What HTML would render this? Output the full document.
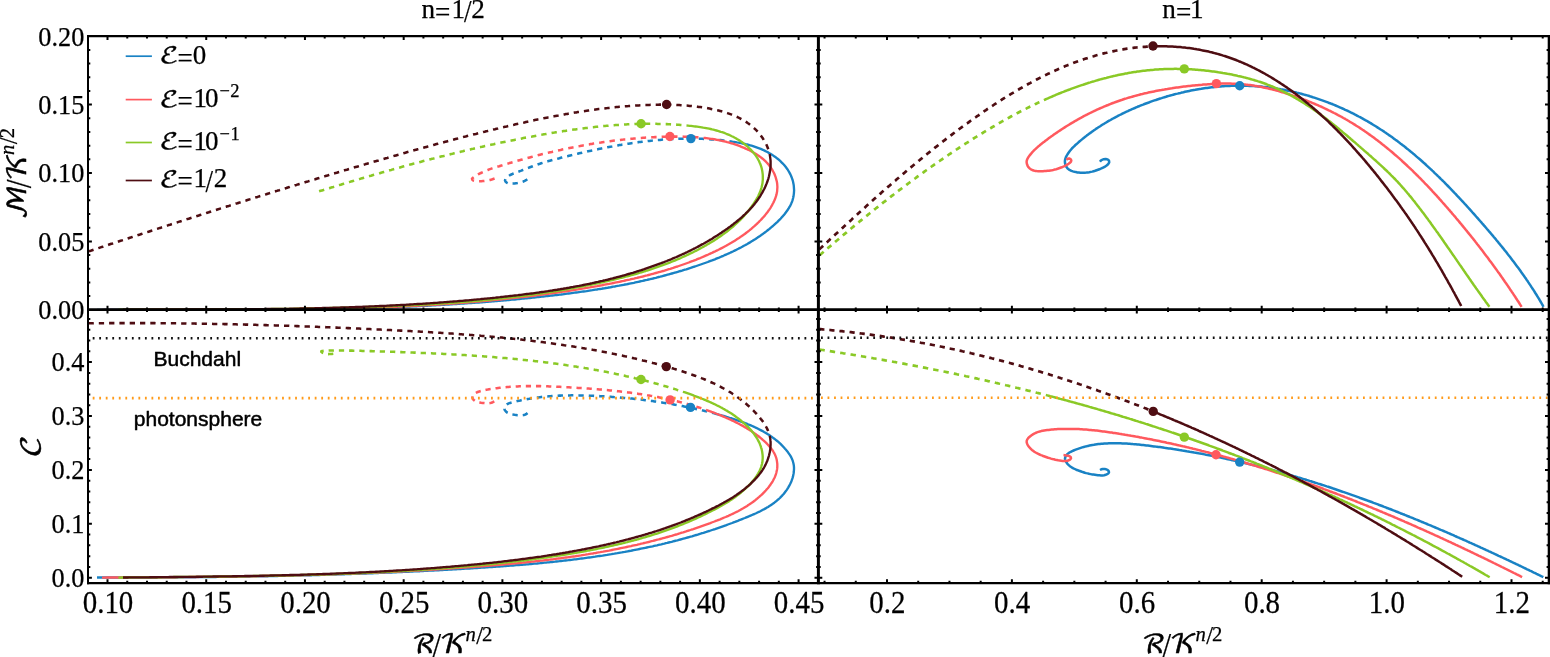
<!DOCTYPE html>
<html lang="en"><head><meta charset="utf-8"><title>Mass-radius and compactness curves</title>
<style>html,body{margin:0;padding:0;background:#fff}body{width:1550px;height:657px;overflow:hidden}svg{display:block}</style>
</head><body>
<svg width="1550" height="657" viewBox="0 0 1550 657" role="img" aria-label="Mass-radius and compactness-radius curves for polytropes n=1/2 and n=1">
<defs>
<clipPath id="cTL"><rect x="88.0" y="36.15" width="730.4" height="273.55"/></clipPath>
<clipPath id="cBL"><rect x="88.0" y="309.7" width="730.4" height="273.40000000000003"/></clipPath>
<clipPath id="cTR"><rect x="818.4" y="36.15" width="730.5000000000001" height="273.55"/></clipPath>
<clipPath id="cBR"><rect x="818.4" y="309.7" width="730.5000000000001" height="273.40000000000003"/></clipPath>
</defs>
<rect width="1550" height="657" fill="#fff"/>
<g fill="none" stroke-width="2.35" stroke-linejoin="round" clip-path="url(#cTL)"><path d="M729.4,141.2L727.9,141.0L726.4,140.8L724.9,140.6L723.4,140.5L721.9,140.3L720.4,140.1L718.9,140.0L717.4,139.8L715.9,139.7L714.4,139.6L712.8,139.5L711.3,139.4L709.8,139.2L708.3,139.2L706.8,139.1L705.3,139.0L703.8,138.9L702.3,138.8L700.8,138.8L699.3,138.7L697.7,138.7L696.2,138.7L694.7,138.6L693.2,138.6L691.7,138.6L690.2,138.6L688.7,138.6L687.2,138.6L685.7,138.6L684.2,138.6L682.6,138.7L681.1,138.7L679.6,138.7L678.1,138.8L676.6,138.9L675.1,138.9L673.6,139.0L672.1,139.1L670.6,139.1L669.1,139.2L667.5,139.3L666.0,139.4L664.5,139.5L663.0,139.6L661.5,139.7L660.0,139.9L658.5,140.0L657.0,140.1L655.5,140.3L654.0,140.4L652.5,140.6L651.0,140.7L649.5,140.9L647.9,141.0L646.4,141.2L644.9,141.4L643.4,141.6L641.9,141.8L640.4,142.0L638.9,142.1L637.4,142.4L635.9,142.6L634.4,142.8L632.9,143.0L631.4,143.2L629.9,143.4L628.4,143.7L626.9,143.9L625.4,144.1L623.9,144.4L622.4,144.6L620.9,144.9L619.4,145.1L617.9,145.4L616.4,145.7L614.9,145.9L613.4,146.2L611.9,146.5L610.4,146.7L609.0,147.0L607.5,147.3L606.0,147.6L604.5,147.9L603.0,148.2L601.5,148.5L600.0,148.8L598.5,149.1L597.0,149.4L595.5,149.7L594.1,150.0L592.6,150.4L591.1,150.7L589.6,151.0L588.1,151.3L586.6,151.7L585.2,152.0L583.7,152.3L582.2,152.7L580.7,153.0L579.2,153.3L577.8,153.7L576.3,154.0L574.8,154.4L573.3,154.7L571.9,155.1L570.4,155.4L568.9,155.8L567.5,156.2L566.0,156.5L564.5,156.9L563.0,157.2L561.6,157.6L560.1,158.0L558.6,158.4L557.2,158.7L555.7,159.1L554.3,159.5L552.8,159.9L551.4,160.3L549.9,160.7L548.5,161.1L547.0,161.5L545.6,162.0L544.1,162.4L542.7,162.8L541.2,163.3L539.8,163.8L538.4,164.2L537.0,164.7L535.5,165.2L534.1,165.7L532.7,166.3L531.3,166.8L529.9,167.3L528.4,167.9L527.0,168.4L525.6,168.9L524.2,169.5L522.8,170.0L521.3,170.6L519.9,171.1L518.4,171.7L517.0,172.2L515.5,172.7L514.1,173.3L512.7,173.8L511.3,174.5L509.9,175.2L508.7,176.0L507.5,176.9L506.4,178.0L505.4,179.2L505.0,180.5L505.6,181.7L506.9,182.8L508.4,183.5L509.9,183.7L511.4,183.7L513.0,183.6L514.5,183.4L516.0,183.2L517.5,183.0L519.0,182.7L520.5,182.4L521.9,182.0L523.3,181.5L524.7,180.9L526.0,180.2L527.3,179.3" stroke="#1982C4" stroke-dasharray="5.275 4.976" stroke-dashoffset="5.275" stroke-width="2.5500000000000003"/>
<path d="M729.4,141.2L730.9,141.4L732.4,141.7L733.9,141.9L735.4,142.1L736.9,142.4L738.4,142.6L739.9,142.9L741.3,143.2L742.8,143.5L744.3,143.8L745.8,144.2L747.2,144.5L748.7,144.9L750.1,145.3L751.6,145.7L753.0,146.1L754.4,146.6L755.8,147.1L757.2,147.6L758.6,148.1L760.0,148.6L761.4,149.2L762.8,149.8L764.1,150.4L765.5,151.1L766.8,151.7L768.1,152.4L769.4,153.2L770.7,153.9L772.0,154.7L773.3,155.6L774.5,156.4L775.8,157.3L777.0,158.3L778.2,159.2L779.3,160.2L780.4,161.2L781.5,162.3L782.6,163.4L783.7,164.5L784.6,165.6L785.6,166.8L786.5,168.0L787.4,169.2L788.2,170.5L789.0,171.8L789.7,173.1L790.4,174.4L791.0,175.8L791.6,177.2L792.1,178.6L792.6,180.0L793.0,181.5L793.3,183.0L793.6,184.4L793.8,185.9L793.9,187.4L794.0,188.9L794.1,190.4L794.0,191.9L793.9,193.3L793.7,194.8L793.5,196.3L793.2,197.7L792.8,199.2L792.4,200.6L791.9,202.0L791.3,203.4L790.7,204.7L790.0,206.1L789.2,207.4L788.5,208.7L787.6,210.0L786.7,211.3L785.8,212.5L784.9,213.7L783.9,214.9L782.9,216.1L781.8,217.3L780.8,218.5L779.7,219.6L778.6,220.7L777.5,221.8L776.3,222.9L775.2,223.9L774.1,224.9L772.9,226.0L771.8,226.9L770.6,227.9L769.5,228.9L768.3,229.8L767.1,230.7L766.0,231.6L764.8,232.5L763.6,233.4L762.4,234.3L761.2,235.1L760.0,236.0L758.8,236.8L757.6,237.6L756.3,238.4L755.1,239.2L753.8,240.0L752.6,240.8L751.3,241.6L750.0,242.4L748.7,243.1L747.4,243.9L746.2,244.6L744.9,245.3L743.5,246.0L742.2,246.8L740.9,247.5L739.6,248.1L738.3,248.8L736.9,249.5L735.6,250.2L734.2,250.8L732.9,251.5L731.5,252.1L730.1,252.8L728.8,253.4L727.4,254.0L726.0,254.6L724.6,255.2L723.3,255.8L721.9,256.4L720.5,257.0L719.1,257.6L717.7,258.1L716.3,258.7L714.9,259.3L713.5,259.8L712.0,260.4L710.6,260.9L709.2,261.4L707.8,262.0L706.4,262.5L705.0,263.0L703.5,263.5L702.1,264.0L700.7,264.5L699.2,265.0L697.8,265.5L696.4,266.0L694.9,266.5L693.5,266.9L692.1,267.4L690.6,267.9L689.2,268.3L687.8,268.8L686.3,269.3L684.9,269.7L683.4,270.1L682.0,270.6L680.6,271.0L679.1,271.4L677.7,271.9L676.2,272.3L674.8,272.7L673.3,273.1L671.9,273.5L670.4,273.9L669.0,274.3L667.5,274.7L666.1,275.1L664.6,275.5L663.2,275.9L661.7,276.3L660.2,276.7L658.8,277.0L657.3,277.4L655.9,277.8L654.4,278.1L653.0,278.5L651.5,278.8L650.0,279.2L648.6,279.5L647.1,279.9L645.6,280.2L644.2,280.5L642.7,280.9L641.2,281.2L639.8,281.5L638.3,281.8L636.8,282.1L635.4,282.4L633.9,282.8L632.4,283.1L630.9,283.4L629.5,283.7L628.0,284.0L626.5,284.3L625.0,284.5L623.6,284.8L622.1,285.1L620.6,285.4L619.1,285.7L617.7,285.9L616.2,286.2L614.7,286.5L613.2,286.7L611.7,287.0L610.3,287.3L608.8,287.5L607.3,287.8L605.8,288.0L604.3,288.3L602.8,288.5L601.4,288.8L599.9,289.0L598.4,289.2L596.9,289.5L595.4,289.7L593.9,289.9L592.4,290.2L591.0,290.4L589.5,290.6L588.0,290.8L586.5,291.1L585.0,291.3L583.5,291.5L582.0,291.7L580.5,291.9L579.0,292.1L577.6,292.3L576.1,292.5L574.6,292.7L573.1,292.9L571.6,293.1L570.1,293.3L568.6,293.5L567.1,293.7L565.6,293.9L564.1,294.1L562.6,294.3L561.1,294.5L559.7,294.6L558.2,294.8L556.7,295.0L555.2,295.2L553.7,295.4L552.2,295.5L550.7,295.7L549.2,295.9L547.7,296.0L546.2,296.2L544.7,296.4L543.2,296.5L541.7,296.7L540.2,296.9L538.7,297.0L537.2,297.2L535.7,297.4L534.2,297.5L532.8,297.7L531.3,297.8L529.8,298.0L528.3,298.1L526.8,298.3L525.3,298.4L523.8,298.6L522.3,298.7L520.8,298.9L519.3,299.0L517.8,299.2L516.3,299.3L514.8,299.5L513.3,299.6L511.8,299.7L510.3,299.9L508.8,300.0L507.3,300.1L505.8,300.3L504.3,300.4L502.8,300.5L501.3,300.7L499.8,300.8L498.3,300.9L496.8,301.1L495.3,301.2L493.8,301.3L492.3,301.4L490.8,301.5L489.3,301.7L487.8,301.8L486.3,301.9L484.8,302.0L483.4,302.1L481.9,302.3L480.4,302.4L478.9,302.5L477.4,302.6L475.9,302.7L474.4,302.8L472.9,302.9L471.4,303.0L469.9,303.1L468.4,303.2L466.9,303.3L465.4,303.4L463.9,303.5L462.4,303.6L460.9,303.7L459.4,303.8L457.9,303.9L456.4,304.0L454.9,304.1L453.4,304.2L451.9,304.3L450.4,304.4L448.9,304.5L447.4,304.6L445.9,304.7L444.4,304.8L442.9,304.8L441.4,304.9L439.9,305.0L438.4,305.1L436.9,305.2L435.4,305.3L433.9,305.3L432.4,305.4L430.9,305.5L429.4,305.6L427.8,305.7L426.3,305.7L424.8,305.8L423.3,305.9L421.8,305.9L420.3,306.0L418.8,306.1L417.3,306.2L415.8,306.2L414.3,306.3L412.8,306.4L411.3,306.4L409.8,306.5L408.3,306.6L406.8,306.6L405.3,306.7L403.8,306.8L402.3,306.8L400.8,306.9L399.3,306.9L397.8,307.0L396.3,307.1L394.8,307.1L393.3,307.2L391.8,307.2L390.3,307.3L388.8,307.3L387.3,307.4L385.8,307.4L384.3,307.5L382.8,307.5L381.3,307.6L379.8,307.6L378.3,307.7L376.8,307.7L375.3,307.8L373.8,307.8L372.3,307.9L370.8,307.9L369.3,308.0L367.8,308.0L366.2,308.0L364.7,308.1L363.2,308.1L361.7,308.2L360.2,308.2L358.7,308.2L357.2,308.3L355.7,308.3L354.2,308.4L352.7,308.4L351.2,308.4L349.7,308.5L348.2,308.5L346.7,308.5L345.2,308.6L343.7,308.6L342.2,308.6L340.7,308.7L339.2,308.7L337.7,308.7L336.2,308.8L334.7,308.8L333.2,308.8L331.7,308.8L330.2,308.9L328.7,308.9L327.1,308.9L325.6,308.9L324.1,309.0L322.6,309.0L321.1,309.0L319.6,309.0L318.1,309.1L316.6,309.1L315.1,309.1L313.6,309.1L312.1,309.2L310.6,309.2L309.1,309.2L307.6,309.2L306.1,309.2L304.6,309.3L303.1,309.3L301.6,309.3L300.1,309.3L298.6,309.3L297.1,309.3L295.6,309.4L294.0,309.4L292.5,309.4L291.0,309.4L289.5,309.4L288.0,309.4L286.5,309.4L285.0,309.4L283.5,309.5L282.0,309.5L280.5,309.5L279.0,309.5L277.5,309.5L276.0,309.5L274.5,309.5L273.0,309.5L271.5,309.5L270.0,309.6L268.5,309.6L267.0,309.6L265.5,309.6L264.0,309.6L262.4,309.6L260.9,309.6L259.4,309.6L257.9,309.6L256.4,309.6L254.9,309.6L253.4,309.6L251.9,309.6L250.4,309.6L248.9,309.6L247.4,309.6L245.9,309.7L244.4,309.7L242.9,309.7L241.4,309.7L239.9,309.7L238.4,309.7L236.9,309.7L235.4,309.7L233.9,309.7L232.4,309.7L230.8,309.7L229.3,309.7L227.8,309.7L226.3,309.7L224.8,309.7L223.3,309.7L221.8,309.7L220.3,309.7L218.8,309.7L217.3,309.7L215.8,309.7L214.3,309.7L212.8,309.7L211.3,309.7L209.8,309.7L208.3,309.7L206.8,309.7L205.3,309.7L203.8,309.7L202.3,309.7L200.8,309.7L199.3,309.7L197.7,309.7L196.2,309.7L194.7,309.7L193.2,309.7L191.7,309.7L190.2,309.7L188.7,309.7L187.2,309.7L185.7,309.7L184.2,309.7L182.7,309.7L181.2,309.7L179.7,309.7L178.2,309.7L176.7,309.7L175.2,309.7L173.7,309.7L172.2,309.7L170.7,309.7L169.2,309.7L167.7,309.7L166.2,309.7L164.7,309.7L163.2,309.7L161.7,309.7L160.1,309.7L158.6,309.7L157.1,309.7L155.6,309.7L154.1,309.7L152.6,309.7L151.1,309.7L149.6,309.7L148.1,309.7L146.6,309.7L145.1,309.7L143.6,309.7L142.1,309.7L140.6,309.7L139.1,309.7L137.6,309.7L136.1,309.7L134.6,309.7L133.1,309.7L131.6,309.7L130.1,309.7L128.6,309.7L127.1,309.7L125.6,309.7L124.1,309.7L122.6,309.7L121.1,309.7L119.6,309.7L118.1,309.7L116.6,309.7L115.1,309.7L113.6,309.7L112.1,309.7L110.6,309.7L109.1,309.7L107.6,309.7L106.0,309.7L104.5,309.7L103.0,309.8L101.5,309.8L100.0,309.8L98.5,309.8L97.0,309.8" stroke="#1982C4"/>
<path d="M703.5,137.8L702.0,137.7L700.5,137.5L699.0,137.4L697.5,137.3L696.0,137.2L694.5,137.1L693.0,137.0L691.5,136.9L690.0,136.9L688.4,136.8L686.9,136.7L685.4,136.7L683.9,136.7L682.4,136.6L680.9,136.6L679.4,136.6L677.8,136.6L676.3,136.6L674.8,136.6L673.3,136.6L671.8,136.6L670.3,136.6L668.7,136.7L667.2,136.7L665.7,136.7L664.2,136.8L662.7,136.8L661.2,136.9L659.7,136.9L658.1,137.0L656.6,137.1L655.1,137.1L653.6,137.2L652.1,137.3L650.6,137.4L649.1,137.4L647.6,137.5L646.0,137.6L644.5,137.7L643.0,137.8L641.5,137.9L640.0,138.0L638.5,138.2L637.0,138.3L635.5,138.4L634.0,138.5L632.5,138.7L631.0,138.8L629.5,139.0L627.9,139.1L626.4,139.3L624.9,139.4L623.4,139.6L621.9,139.7L620.4,139.9L618.9,140.1L617.4,140.3L615.9,140.4L614.4,140.6L612.9,140.8L611.4,141.0L609.9,141.2L608.4,141.4L606.9,141.6L605.4,141.8L603.9,142.0L602.4,142.2L600.9,142.5L599.4,142.7L597.9,142.9L596.4,143.2L594.9,143.4L593.4,143.6L591.9,143.9L590.5,144.1L589.0,144.4L587.5,144.6L586.0,144.9L584.5,145.2L583.0,145.4L581.5,145.7L580.0,146.0L578.5,146.2L577.0,146.5L575.6,146.8L574.1,147.1L572.6,147.4L571.1,147.7L569.6,148.0L568.1,148.3L566.7,148.6L565.2,148.9L563.7,149.2L562.2,149.5L560.7,149.9L559.3,150.2L557.8,150.5L556.3,150.8L554.8,151.2L553.3,151.5L551.9,151.9L550.4,152.2L548.9,152.6L547.4,152.9L546.0,153.3L544.5,153.6L543.0,154.0L541.6,154.3L540.1,154.7L538.6,155.1L537.2,155.5L535.7,155.8L534.2,156.2L532.8,156.6L531.3,157.0L529.8,157.4L528.4,157.8L526.9,158.2L525.5,158.6L524.0,159.0L522.5,159.4L521.1,159.8L519.6,160.2L518.2,160.6L516.7,161.0L515.3,161.4L513.8,161.9L512.4,162.3L510.9,162.7L509.4,163.1L508.0,163.6L506.5,164.0L505.1,164.4L503.6,164.8L502.2,165.3L500.7,165.7L499.3,166.2L497.9,166.6L496.4,167.0L495.0,167.5L493.5,167.9L492.1,168.4L490.7,168.9L489.2,169.4L487.8,170.0L486.4,170.5L485.0,171.1L483.6,171.7L482.3,172.3L480.9,173.0L479.5,173.7L478.2,174.4L476.9,175.2L475.5,176.0L474.2,176.9L473.0,177.8L472.0,178.7L472.4,179.9L473.7,180.8L475.2,181.2L476.7,181.2L478.3,181.3L479.8,181.3L481.4,181.2L482.9,181.1L484.4,181.0L485.8,180.8L487.3,180.5L488.8,180.2L490.2,179.9L491.7,179.5L493.2,179.0L494.6,178.5" stroke="#FF595E" stroke-dasharray="5.389 5.084" stroke-dashoffset="5.389" stroke-width="2.5500000000000003"/>
<path d="M703.5,137.8L705.0,138.0L706.5,138.2L708.0,138.4L709.5,138.6L710.9,138.8L712.4,139.0L713.9,139.2L715.4,139.5L716.8,139.8L718.3,140.0L719.8,140.3L721.2,140.7L722.7,141.0L724.2,141.3L725.6,141.7L727.1,142.1L728.5,142.4L730.0,142.9L731.4,143.3L732.9,143.7L734.3,144.2L735.7,144.7L737.2,145.2L738.6,145.7L740.0,146.2L741.4,146.8L742.8,147.3L744.2,147.9L745.6,148.6L747.0,149.2L748.4,149.8L749.8,150.5L751.2,151.2L752.5,152.0L753.8,152.7L755.2,153.5L756.4,154.3L757.7,155.1L759.0,156.0L760.2,156.9L761.4,157.8L762.6,158.7L763.7,159.7L764.8,160.7L765.9,161.7L766.9,162.8L767.9,163.9L768.9,165.0L769.8,166.2L770.7,167.4L771.5,168.6L772.3,169.9L773.0,171.2L773.7,172.5L774.4,173.9L774.9,175.3L775.5,176.7L775.9,178.1L776.3,179.6L776.7,181.0L777.0,182.5L777.2,184.0L777.3,185.5L777.4,187.0L777.3,188.5L777.2,190.0L777.1,191.5L776.8,193.0L776.5,194.4L776.1,195.9L775.6,197.3L775.1,198.8L774.5,200.2L773.9,201.6L773.2,203.0L772.5,204.3L771.8,205.7L771.0,207.0L770.2,208.3L769.3,209.6L768.4,210.8L767.6,212.0L766.6,213.2L765.7,214.4L764.8,215.6L763.8,216.7L762.8,217.8L761.8,218.9L760.8,220.0L759.7,221.0L758.7,222.1L757.6,223.1L756.6,224.2L755.5,225.2L754.4,226.2L753.2,227.2L752.1,228.1L751.0,229.1L749.8,230.0L748.7,231.0L747.5,231.9L746.3,232.8L745.1,233.7L743.9,234.6L742.7,235.4L741.5,236.3L740.2,237.1L739.0,238.0L737.7,238.8L736.5,239.6L735.2,240.4L733.9,241.2L732.6,242.0L731.3,242.8L730.0,243.5L728.7,244.3L727.4,245.0L726.1,245.8L724.7,246.5L723.4,247.2L722.1,247.9L720.7,248.6L719.4,249.3L718.0,250.0L716.7,250.6L715.3,251.3L713.9,251.9L712.5,252.6L711.2,253.2L709.8,253.8L708.4,254.5L707.0,255.1L705.6,255.7L704.2,256.3L702.9,256.9L701.5,257.5L700.1,258.1L698.7,258.6L697.3,259.2L695.9,259.8L694.5,260.3L693.0,260.9L691.6,261.4L690.2,261.9L688.8,262.5L687.4,263.0L686.0,263.5L684.6,264.0L683.2,264.5L681.7,265.0L680.3,265.5L678.9,266.0L677.5,266.5L676.0,266.9L674.6,267.4L673.2,267.9L671.7,268.3L670.3,268.8L668.9,269.2L667.4,269.7L666.0,270.1L664.5,270.6L663.1,271.0L661.7,271.4L660.2,271.8L658.8,272.2L657.3,272.6L655.9,273.0L654.4,273.4L653.0,273.8L651.5,274.2L650.1,274.6L648.6,275.0L647.1,275.4L645.7,275.7L644.2,276.1L642.8,276.5L641.3,276.8L639.8,277.2L638.4,277.5L636.9,277.9L635.5,278.2L634.0,278.6L632.5,278.9L631.1,279.2L629.6,279.6L628.1,279.9L626.6,280.2L625.2,280.5L623.7,280.9L622.2,281.2L620.8,281.5L619.3,281.8L617.8,282.1L616.3,282.4L614.9,282.7L613.4,283.0L611.9,283.3L610.4,283.6L609.0,283.9L607.5,284.1L606.0,284.4L604.5,284.7L603.0,285.0L601.6,285.3L600.1,285.5L598.6,285.8L597.1,286.1L595.6,286.3L594.2,286.6L592.7,286.9L591.2,287.1L589.7,287.4L588.2,287.6L586.8,287.9L585.3,288.1L583.8,288.4L582.3,288.6L580.8,288.9L579.4,289.1L577.9,289.4L576.4,289.6L574.9,289.9L573.4,290.1L571.9,290.3L570.4,290.6L569.0,290.8L567.5,291.0L566.0,291.3L564.5,291.5L563.0,291.7L561.5,291.9L560.1,292.1L558.6,292.4L557.1,292.6L555.6,292.8L554.1,293.0L552.6,293.2L551.1,293.4L549.6,293.6L548.2,293.8L546.7,294.0L545.2,294.2L543.7,294.4L542.2,294.6L540.7,294.8L539.2,295.0L537.7,295.2L536.2,295.4L534.8,295.6L533.3,295.8L531.8,296.0L530.3,296.2L528.8,296.3L527.3,296.5L525.8,296.7L524.3,296.9L522.8,297.1L521.3,297.2L519.8,297.4L518.4,297.6L516.9,297.7L515.4,297.9L513.9,298.1L512.4,298.2L510.9,298.4L509.4,298.6L507.9,298.7L506.4,298.9L504.9,299.0L503.4,299.2L501.9,299.3L500.4,299.5L498.9,299.6L497.4,299.8L496.0,299.9L494.5,300.1L493.0,300.2L491.5,300.4L490.0,300.5L488.5,300.7L487.0,300.8L485.5,300.9L484.0,301.1L482.5,301.2L481.0,301.3L479.5,301.5L478.0,301.6L476.5,301.7L475.0,301.8L473.5,302.0L472.0,302.1L470.5,302.2L469.0,302.3L467.5,302.5L466.0,302.6L464.5,302.7L463.0,302.8L461.5,302.9L460.0,303.0L458.5,303.1L457.0,303.3L455.5,303.4L454.0,303.5L452.5,303.6L451.0,303.7L449.5,303.8L448.0,303.9L446.5,304.0L445.0,304.1L443.5,304.2L442.0,304.3L440.5,304.4L439.0,304.5L437.5,304.6L436.0,304.7L434.5,304.7L433.0,304.8L431.5,304.9L430.0,305.0L428.5,305.1L427.0,305.2L425.5,305.3L424.0,305.3L422.5,305.4L421.0,305.5L419.5,305.6L418.0,305.7L416.5,305.7L415.0,305.8L413.5,305.9L412.0,306.0L410.5,306.0L409.0,306.1L407.5,306.2L406.0,306.3L404.5,306.3L403.0,306.4L401.5,306.5L400.0,306.5L398.5,306.6L397.0,306.7L395.5,306.7L394.0,306.8L392.5,306.8L391.0,306.9L389.5,307.0L387.9,307.0L386.4,307.1L384.9,307.1L383.4,307.2L381.9,307.2L380.4,307.3L378.9,307.3L377.4,307.4L375.9,307.4L374.4,307.5L372.9,307.5L371.4,307.6L369.9,307.6L368.4,307.7L366.9,307.7L365.4,307.8L363.9,307.8L362.4,307.9L360.9,307.9L359.4,307.9L357.8,308.0L356.3,308.0L354.8,308.1L353.3,308.1L351.8,308.1L350.3,308.2L348.8,308.2L347.3,308.2L345.8,308.3L344.3,308.3L342.8,308.3L341.3,308.4L339.8,308.4L338.3,308.4L336.8,308.5L335.3,308.5L333.8,308.5L332.2,308.6L330.7,308.6L329.2,308.6L327.7,308.6L326.2,308.7L324.7,308.7L323.2,308.7L321.7,308.7L320.2,308.8L318.7,308.8L317.2,308.8L315.7,308.8L314.2,308.8L312.7,308.9L311.2,308.9L309.6,308.9L308.1,308.9L306.6,308.9L305.1,309.0L303.6,309.0L302.1,309.0L300.6,309.0L299.1,309.0L297.6,309.0L296.1,309.1L294.6,309.1L293.1,309.1L291.6,309.1L290.1,309.1L288.6,309.1L287.0,309.1L285.5,309.1L284.0,309.2L282.5,309.2L281.0,309.2L279.5,309.2L278.0,309.2L276.5,309.2L275.0,309.2L273.5,309.2L272.0,309.2L270.5,309.2L269.0,309.2L267.5,309.3L266.0,309.3L264.4,309.3L262.9,309.3L261.4,309.3L259.9,309.3L258.4,309.3L256.9,309.3L255.4,309.3L253.9,309.3L252.4,309.3L250.9,309.3L249.4,309.3L247.9,309.3L246.4,309.3L244.9,309.3L243.4,309.3L241.8,309.3L240.3,309.4L238.8,309.4L237.3,309.4L235.8,309.4L234.3,309.4L232.8,309.4L231.3,309.4L229.8,309.4L228.3,309.4L226.8,309.4L225.3,309.4L223.8,309.4L222.3,309.4L220.8,309.4L219.3,309.4L217.8,309.4L216.3,309.4L214.7,309.4L213.2,309.4L211.7,309.4L210.2,309.4L208.7,309.4L207.2,309.4L205.7,309.4L204.2,309.4L202.7,309.4L201.2,309.4L199.7,309.4L198.2,309.4L196.7,309.4L195.2,309.4L193.7,309.4L192.2,309.4L190.7,309.4L189.2,309.4L187.7,309.4L186.2,309.4L184.7,309.4L183.2,309.4L181.6,309.4L180.1,309.4L178.6,309.4L177.1,309.5L175.6,309.5L174.1,309.5L172.6,309.5L171.1,309.5L169.6,309.5L168.1,309.5L166.6,309.5L165.1,309.5L163.6,309.5L162.1,309.5L160.6,309.5L159.1,309.5L157.6,309.5L156.1,309.5L154.6,309.5L153.1,309.5L151.6,309.6L150.1,309.6L148.6,309.6L147.1,309.6L145.6,309.6L144.1,309.6L142.6,309.6L141.1,309.6L139.6,309.6L138.1,309.6L136.6,309.7L135.1,309.7L133.6,309.7L132.1,309.7L130.6,309.7L129.1,309.7L127.6,309.7L126.1,309.7L124.6,309.8L123.1,309.8L121.6,309.8L120.1,309.8L118.6,309.8L117.1,309.8L115.6,309.9L114.1,309.9L112.6,309.9L111.1,309.9L109.6,309.9L108.1,310.0L106.6,310.0L105.1,310.0L103.6,310.0L102.1,310.0" stroke="#FF595E"/>
<path d="M686.5,125.5L685.0,125.3L683.5,125.2L682.0,125.1L680.5,125.0L678.9,124.8L677.4,124.7L675.9,124.6L674.4,124.5L672.9,124.4L671.4,124.4L669.9,124.3L668.3,124.2L666.8,124.1L665.3,124.1L663.8,124.0L662.3,124.0L660.8,123.9L659.3,123.9L657.7,123.9L656.2,123.8L654.7,123.8L653.2,123.8L651.7,123.8L650.2,123.8L648.7,123.8L647.2,123.8L645.7,123.8L644.2,123.8L642.7,123.9L641.2,123.9L639.7,123.9L638.1,124.0L636.6,124.0L635.1,124.0L633.6,124.1L632.1,124.1L630.6,124.2L629.1,124.3L627.6,124.3L626.1,124.4L624.6,124.5L623.1,124.6L621.6,124.7L620.1,124.8L618.6,124.9L617.1,125.0L615.6,125.1L614.1,125.2L612.6,125.3L611.1,125.4L609.6,125.5L608.1,125.7L606.6,125.8L605.1,125.9L603.6,126.1L602.2,126.2L600.7,126.4L599.2,126.5L597.7,126.7L596.2,126.8L594.7,127.0L593.2,127.2L591.7,127.3L590.2,127.5L588.7,127.7L587.2,127.9L585.7,128.0L584.2,128.2L582.7,128.4L581.3,128.6L579.8,128.8L578.3,129.0L576.8,129.2L575.3,129.4L573.8,129.6L572.3,129.8L570.8,130.0L569.3,130.3L567.8,130.5L566.4,130.7L564.9,130.9L563.4,131.1L561.9,131.4L560.4,131.6L558.9,131.8L557.4,132.1L556.0,132.3L554.5,132.6L553.0,132.8L551.5,133.1L550.0,133.3L548.5,133.6L547.0,133.8L545.6,134.1L544.1,134.3L542.6,134.6L541.1,134.8L539.6,135.1L538.1,135.4L536.7,135.6L535.2,135.9L533.7,136.2L532.2,136.5L530.7,136.7L529.3,137.0L527.8,137.3L526.3,137.6L524.8,137.8L523.3,138.1L521.9,138.4L520.4,138.7L518.9,139.0L517.4,139.3L515.9,139.6L514.5,139.9L513.0,140.2L511.5,140.5L510.0,140.8L508.5,141.1L507.1,141.4L505.6,141.7L504.1,142.0L502.6,142.3L501.2,142.6L499.7,142.9L498.2,143.2L496.7,143.5L495.3,143.8L493.8,144.2L492.3,144.5L490.8,144.8L489.4,145.1L487.9,145.5L486.4,145.8L484.9,146.1L483.5,146.4L482.0,146.8L480.5,147.1L479.0,147.4L477.6,147.8L476.1,148.1L474.6,148.4L473.2,148.8L471.7,149.1L470.2,149.5L468.7,149.8L467.3,150.1L465.8,150.5L464.3,150.8L462.9,151.2L461.4,151.5L459.9,151.9L458.5,152.2L457.0,152.6L455.5,153.0L454.1,153.3L452.6,153.7L451.1,154.0L449.7,154.4L448.2,154.8L446.7,155.1L445.3,155.5L443.8,155.9L442.3,156.2L440.9,156.6L439.4,157.0L437.9,157.3L436.5,157.7L435.0,158.1L433.6,158.5L432.1,158.8L430.6,159.2L429.2,159.6L427.7,160.0L426.2,160.4L424.8,160.7L423.3,161.1L421.9,161.5L420.4,161.9L418.9,162.3L417.5,162.7L416.0,163.1L414.6,163.5L413.1,163.8L411.7,164.2L410.2,164.6L408.7,165.0L407.3,165.4L405.8,165.8L404.4,166.2L402.9,166.6L401.5,167.0L400.0,167.4L398.6,167.8L397.1,168.2L395.6,168.6L394.2,169.0L392.7,169.4L391.3,169.9L389.8,170.3L388.4,170.7L386.9,171.1L385.5,171.5L384.0,171.9L382.6,172.3L381.1,172.7L379.7,173.2L378.2,173.6L376.8,174.0L375.3,174.4L373.9,174.8L372.4,175.2L371.0,175.7L369.5,176.1L368.1,176.5L366.6,176.9L365.2,177.4L363.8,177.8L362.3,178.2L360.9,178.6L359.4,179.1L358.0,179.5L356.5,179.9L355.1,180.3L353.6,180.8L352.2,181.2L350.8,181.6L349.3,182.1L347.9,182.5L346.4,182.9L345.0,183.4L343.6,183.8L342.1,184.2L340.7,184.7L339.2,185.1L337.8,185.5L336.4,186.0L334.9,186.4L333.5,186.9L332.1,187.3L330.6,187.7L329.2,188.2L327.7,188.6L326.3,189.1L324.9,189.5L323.4,190.0L322.0,190.4L320.6,190.8L319.1,191.3" stroke="#8AC926" stroke-dasharray="5.367 5.064" stroke-dashoffset="5.367" stroke-width="2.5500000000000003"/>
<path d="M686.5,125.5L688.1,125.6L689.6,125.8L691.1,125.9L692.6,126.1L694.1,126.3L695.6,126.5L697.1,126.7L698.6,126.9L700.2,127.1L701.7,127.3L703.2,127.6L704.7,127.8L706.1,128.1L707.6,128.4L709.1,128.7L710.6,129.0L712.1,129.4L713.5,129.7L715.0,130.1L716.4,130.5L717.9,130.9L719.3,131.3L720.7,131.8L722.1,132.2L723.6,132.7L725.0,133.2L726.3,133.8L727.7,134.3L729.1,134.9L730.4,135.5L731.8,136.2L733.1,136.8L734.4,137.5L735.8,138.2L737.0,139.0L738.3,139.7L739.6,140.5L740.9,141.4L742.1,142.2L743.3,143.1L744.5,144.1L745.7,145.0L746.9,146.0L748.0,147.0L749.1,148.1L750.2,149.1L751.3,150.2L752.3,151.4L753.3,152.5L754.3,153.7L755.2,154.9L756.1,156.2L756.9,157.4L757.7,158.7L758.4,160.0L759.1,161.3L759.7,162.7L760.3,164.0L760.8,165.4L761.3,166.9L761.7,168.3L762.0,169.7L762.3,171.2L762.5,172.6L762.7,174.1L762.8,175.6L762.8,177.1L762.8,178.5L762.8,180.0L762.6,181.5L762.5,183.0L762.2,184.4L761.9,185.9L761.6,187.3L761.2,188.7L760.7,190.2L760.2,191.6L759.6,192.9L759.0,194.3L758.4,195.7L757.7,197.0L756.9,198.3L756.2,199.7L755.4,201.0L754.6,202.2L753.8,203.5L752.9,204.8L752.0,206.0L751.1,207.2L750.2,208.5L749.3,209.7L748.4,210.8L747.4,212.0L746.4,213.2L745.4,214.3L744.4,215.4L743.4,216.6L742.4,217.7L741.4,218.7L740.3,219.8L739.2,220.9L738.1,221.9L737.0,223.0L735.9,224.0L734.8,225.0L733.7,226.0L732.5,227.0L731.4,227.9L730.2,228.9L729.0,229.9L727.9,230.8L726.7,231.7L725.5,232.6L724.2,233.5L723.0,234.4L721.8,235.3L720.5,236.2L719.3,237.0L718.0,237.9L716.8,238.7L715.5,239.6L714.2,240.4L712.9,241.2L711.6,242.0L710.3,242.8L709.0,243.6L707.7,244.3L706.4,245.1L705.1,245.8L703.8,246.6L702.5,247.3L701.1,248.0L699.8,248.8L698.5,249.5L697.1,250.2L695.8,250.9L694.4,251.5L693.1,252.2L691.7,252.9L690.4,253.5L689.0,254.2L687.6,254.8L686.3,255.5L684.9,256.1L683.5,256.7L682.2,257.3L680.8,258.0L679.4,258.6L678.0,259.1L676.7,259.7L675.3,260.3L673.9,260.9L672.5,261.4L671.1,262.0L669.7,262.6L668.3,263.1L666.9,263.6L665.5,264.2L664.1,264.7L662.7,265.2L661.3,265.7L659.9,266.2L658.5,266.7L657.1,267.2L655.6,267.7L654.2,268.2L652.8,268.7L651.4,269.1L650.0,269.6L648.5,270.1L647.1,270.5L645.7,271.0L644.2,271.4L642.8,271.9L641.4,272.3L639.9,272.7L638.5,273.1L637.1,273.6L635.6,274.0L634.2,274.4L632.7,274.8L631.3,275.2L629.9,275.6L628.4,276.0L627.0,276.3L625.5,276.7L624.1,277.1L622.6,277.5L621.1,277.9L619.7,278.2L618.2,278.6L616.8,278.9L615.3,279.3L613.9,279.6L612.4,280.0L610.9,280.3L609.5,280.7L608.0,281.0L606.6,281.3L605.1,281.7L603.6,282.0L602.2,282.3L600.7,282.6L599.2,283.0L597.8,283.3L596.3,283.6L594.8,283.9L593.4,284.2L591.9,284.5L590.4,284.8L589.0,285.1L587.5,285.4L586.0,285.7L584.5,286.0L583.1,286.3L581.6,286.6L580.1,286.8L578.7,287.1L577.2,287.4L575.7,287.7L574.2,287.9L572.8,288.2L571.3,288.5L569.8,288.7L568.3,289.0L566.8,289.3L565.4,289.5L563.9,289.8L562.4,290.0L560.9,290.3L559.5,290.5L558.0,290.8L556.5,291.0L555.0,291.3L553.5,291.5L552.0,291.7L550.6,292.0L549.1,292.2L547.6,292.4L546.1,292.6L544.6,292.9L543.1,293.1L541.7,293.3L540.2,293.5L538.7,293.7L537.2,293.9L535.7,294.2L534.2,294.4L532.7,294.6L531.3,294.8L529.8,295.0L528.3,295.2L526.8,295.4L525.3,295.6L523.8,295.8L522.3,295.9L520.8,296.1L519.3,296.3L517.9,296.5L516.4,296.7L514.9,296.9L513.4,297.0L511.9,297.2L510.4,297.4L508.9,297.6L507.4,297.7L505.9,297.9L504.4,298.1L502.9,298.2L501.4,298.4L499.9,298.6L498.4,298.7L497.0,298.9L495.5,299.0L494.0,299.2L492.5,299.3L491.0,299.5L489.5,299.6L488.0,299.8L486.5,299.9L485.0,300.1L483.5,300.2L482.0,300.3L480.5,300.5L479.0,300.6L477.5,300.8L476.0,300.9L474.5,301.0L473.0,301.1L471.5,301.3L470.0,301.4L468.5,301.5L467.0,301.6L465.5,301.8L464.0,301.9L462.5,302.0L461.0,302.1L459.5,302.2L458.0,302.4L456.5,302.5L455.0,302.6L453.5,302.7L452.0,302.8L450.5,302.9L449.0,303.0L447.5,303.1L446.0,303.2L444.5,303.3L443.0,303.4L441.5,303.5L440.0,303.6L438.5,303.7L437.0,303.8L435.5,303.9L434.0,304.0L432.5,304.1L431.0,304.2L429.5,304.2L428.0,304.3L426.5,304.4L425.0,304.5L423.4,304.6L421.9,304.7L420.4,304.7L418.9,304.8L417.4,304.9L415.9,305.0L414.4,305.1L412.9,305.1L411.4,305.2L409.9,305.3L408.4,305.4L406.9,305.4L405.4,305.5L403.9,305.6L402.4,305.6L400.9,305.7L399.4,305.8L397.9,305.8L396.4,305.9L394.9,306.0L393.4,306.0L391.9,306.1L390.4,306.2L388.9,306.2L387.4,306.3L385.8,306.3L384.3,306.4L382.8,306.4L381.3,306.5L379.8,306.6L378.3,306.6L376.8,306.7L375.3,306.7L373.8,306.8L372.3,306.8L370.8,306.9L369.3,306.9L367.8,307.0L366.3,307.0L364.8,307.1L363.3,307.1L361.8,307.2L360.3,307.2L358.8,307.3L357.3,307.3L355.8,307.4L354.3,307.4L352.8,307.4L351.3,307.5L349.8,307.5L348.3,307.6L346.8,307.6L345.3,307.7L343.8,307.7L342.3,307.7L340.8,307.8L339.2,307.8L337.7,307.9L336.2,307.9L334.7,307.9L333.2,308.0L331.7,308.0L330.2,308.0L328.7,308.1L327.2,308.1L325.7,308.1L324.2,308.2L322.7,308.2L321.2,308.2L319.7,308.3L318.2,308.3L316.7,308.3L315.2,308.4L313.7,308.4L312.2,308.4L310.7,308.4L309.2,308.5L307.7,308.5L306.2,308.5L304.7,308.6L303.2,308.6L301.7,308.6L300.2,308.6L298.7,308.7L297.2,308.7L295.7,308.7L294.2,308.7L292.7,308.8L291.2,308.8L289.7,308.8L288.2,308.8L286.7,308.8L285.2,308.9L283.7,308.9L282.2,308.9L280.7,308.9L279.2,309.0L277.7,309.0L276.2,309.0L274.7,309.0L273.2,309.0L271.7,309.0L270.2,309.1L268.7,309.1L267.2,309.1L265.7,309.1L264.2,309.1L262.7,309.1L261.2,309.2L259.7,309.2L258.2,309.2L256.7,309.2L255.2,309.2L253.7,309.2L252.2,309.2L250.7,309.3L249.2,309.3L247.7,309.3L246.2,309.3L244.7,309.3L243.2,309.3L241.7,309.3L240.2,309.3L238.7,309.4L237.2,309.4L235.6,309.4L234.1,309.4L232.6,309.4L231.1,309.4L229.6,309.4L228.1,309.4L226.6,309.4L225.1,309.4L223.6,309.5L222.1,309.5L220.6,309.5L219.1,309.5L217.6,309.5L216.1,309.5L214.6,309.5L213.1,309.5L211.6,309.5L210.1,309.5L208.6,309.5L207.1,309.5L205.6,309.5L204.1,309.5L202.6,309.5L201.1,309.6L199.6,309.6L198.1,309.6L196.6,309.6L195.1,309.6L193.6,309.6L192.1,309.6L190.6,309.6L189.1,309.6L187.6,309.6L186.1,309.6L184.6,309.6L183.1,309.6L181.6,309.6L180.1,309.6L178.6,309.6L177.1,309.6L175.6,309.6L174.1,309.6L172.6,309.6L171.1,309.6L169.5,309.6L168.0,309.6L166.5,309.6L165.0,309.7L163.5,309.7L162.0,309.7L160.5,309.7L159.0,309.7L157.5,309.7L156.0,309.7L154.5,309.7L153.0,309.7L151.5,309.7L150.0,309.7L148.5,309.7L147.0,309.7L145.5,309.7L144.0,309.7L142.5,309.7L141.0,309.7L139.5,309.7L138.0,309.7L136.5,309.7L134.9,309.7L133.4,309.7L131.9,309.7L130.4,309.7L128.9,309.7L127.4,309.7L125.9,309.7L124.4,309.7L122.9,309.7L121.4,309.7L119.9,309.7L118.4,309.7" stroke="#8AC926"/>
<path d="M769.6,154.0L769.3,152.5L768.9,151.1L768.4,149.7L767.9,148.3L767.4,146.9L766.8,145.5L766.2,144.2L765.5,142.8L764.8,141.5L764.0,140.2L763.2,139.0L762.4,137.7L761.5,136.5L760.6,135.3L759.7,134.1L758.7,133.0L757.7,131.8L756.7,130.7L755.7,129.7L754.6,128.6L753.5,127.6L752.4,126.6L751.2,125.7L750.0,124.7L748.8,123.8L747.6,123.0L746.4,122.1L745.1,121.3L743.9,120.5L742.6,119.8L741.3,119.1L740.0,118.3L738.6,117.7L737.3,117.0L735.9,116.4L734.5,115.8L733.1,115.2L731.7,114.6L730.3,114.1L728.9,113.6L727.4,113.1L726.0,112.6L724.5,112.2L723.1,111.7L721.6,111.3L720.1,110.9L718.6,110.5L717.1,110.2L715.6,109.8L714.1,109.5L712.6,109.2L711.1,108.9L709.5,108.6L708.0,108.3L706.5,108.0L705.0,107.8L703.5,107.5L701.9,107.3L700.4,107.1L698.9,106.9L697.4,106.7L695.8,106.5L694.3,106.3L692.8,106.2L691.3,106.0L689.8,105.9L688.3,105.7L686.7,105.6L685.2,105.5L683.7,105.4L682.2,105.3L680.7,105.2L679.2,105.1L677.7,105.0L676.2,104.9L674.7,104.9L673.2,104.8L671.7,104.8L670.2,104.7L668.7,104.7L667.2,104.7L665.7,104.7L664.2,104.6L662.7,104.6L661.2,104.6L659.7,104.6L658.2,104.7L656.7,104.7L655.2,104.7L653.7,104.7L652.2,104.8L650.7,104.8L649.3,104.9L647.8,104.9L646.3,105.0L644.8,105.0L643.3,105.1L641.8,105.2L640.3,105.3L638.8,105.4L637.3,105.4L635.8,105.5L634.3,105.6L632.8,105.7L631.4,105.8L629.9,105.9L628.4,106.1L626.9,106.2L625.4,106.3L623.9,106.4L622.4,106.5L620.9,106.7L619.4,106.8L617.9,107.0L616.4,107.1L615.0,107.3L613.5,107.4L612.0,107.6L610.5,107.7L609.0,107.9L607.5,108.1L606.0,108.2L604.5,108.4L603.0,108.6L601.5,108.8L600.1,109.0L598.6,109.1L597.1,109.3L595.6,109.5L594.1,109.7L592.6,109.9L591.1,110.1L589.6,110.4L588.2,110.6L586.7,110.8L585.2,111.0L583.7,111.2L582.2,111.4L580.7,111.7L579.2,111.9L577.7,112.1L576.3,112.4L574.8,112.6L573.3,112.9L571.8,113.1L570.3,113.4L568.8,113.6L567.3,113.9L565.9,114.1L564.4,114.4L562.9,114.7L561.4,114.9L559.9,115.2L558.4,115.5L557.0,115.7L555.5,116.0L554.0,116.3L552.5,116.6L551.0,116.9L549.5,117.2L548.1,117.4L546.6,117.7L545.1,118.0L543.6,118.3L542.1,118.6L540.7,118.9L539.2,119.2L537.7,119.5L536.2,119.8L534.7,120.1L533.3,120.5L531.8,120.8L530.3,121.1L528.8,121.4L527.4,121.7L525.9,122.0L524.4,122.4L522.9,122.7L521.4,123.0L520.0,123.3L518.5,123.7L517.0,124.0L515.5,124.3L514.1,124.7L512.6,125.0L511.1,125.4L509.7,125.7L508.2,126.0L506.7,126.4L505.2,126.7L503.8,127.1L502.3,127.4L500.8,127.8L499.4,128.1L497.9,128.5L496.4,128.8L495.0,129.2L493.5,129.5L492.0,129.9L490.5,130.2L489.1,130.6L487.6,131.0L486.1,131.3L484.7,131.7L483.2,132.0L481.8,132.4L480.3,132.8L478.8,133.1L477.4,133.5L475.9,133.9L474.4,134.2L473.0,134.6L471.5,135.0L470.1,135.3L468.6,135.7L467.1,136.1L465.7,136.5L464.2,136.8L462.8,137.2L461.3,137.6L459.8,138.0L458.4,138.3L456.9,138.7L455.5,139.1L454.0,139.5L452.5,139.9L451.1,140.2L449.6,140.6L448.2,141.0L446.7,141.4L445.3,141.8L443.8,142.2L442.4,142.6L440.9,142.9L439.5,143.3L438.0,143.7L436.5,144.1L435.1,144.5L433.6,144.9L432.2,145.3L430.7,145.7L429.3,146.1L427.8,146.5L426.4,146.9L424.9,147.3L423.5,147.7L422.0,148.1L420.6,148.5L419.1,148.9L417.7,149.3L416.2,149.7L414.8,150.1L413.3,150.5L411.9,150.9L410.4,151.3L409.0,151.7L407.5,152.1L406.1,152.5L404.6,152.9L403.2,153.3L401.8,153.7L400.3,154.1L398.9,154.6L397.4,155.0L396.0,155.4L394.5,155.8L393.1,156.2L391.6,156.6L390.2,157.0L388.7,157.4L387.3,157.9L385.8,158.3L384.4,158.7L383.0,159.1L381.5,159.5L380.1,159.9L378.6,160.4L377.2,160.8L375.7,161.2L374.3,161.6L372.9,162.0L371.4,162.5L370.0,162.9L368.5,163.3L367.1,163.7L365.6,164.1L364.2,164.6L362.8,165.0L361.3,165.4L359.9,165.8L358.4,166.3L357.0,166.7L355.5,167.1L354.1,167.5L352.7,168.0L351.2,168.4L349.8,168.8L348.3,169.2L346.9,169.7L345.4,170.1L344.0,170.5L342.6,171.0L341.1,171.4L339.7,171.8L338.2,172.2L336.8,172.7L335.4,173.1L333.9,173.5L332.5,174.0L331.0,174.4L329.6,174.8L328.2,175.3L326.7,175.7L325.3,176.1L323.8,176.6L322.4,177.0L320.9,177.4L319.5,177.9L318.1,178.3L316.6,178.7L315.2,179.2L313.7,179.6L312.3,180.1L310.9,180.5L309.4,180.9L308.0,181.4L306.5,181.8L305.1,182.2L303.7,182.7L302.2,183.1L300.8,183.6L299.3,184.0L297.9,184.4L296.5,184.9L295.0,185.3L293.6,185.8L292.1,186.2L290.7,186.6L289.3,187.1L287.8,187.5L286.4,188.0L284.9,188.4L283.5,188.8L282.1,189.3L280.6,189.7L279.2,190.2L277.7,190.6L276.3,191.1L274.9,191.5L273.4,192.0L272.0,192.4L270.6,192.8L269.1,193.3L267.7,193.7L266.2,194.2L264.8,194.6L263.4,195.1L261.9,195.5L260.5,196.0L259.0,196.4L257.6,196.9L256.2,197.3L254.7,197.8L253.3,198.2L251.9,198.7L250.4,199.1L249.0,199.6L247.5,200.0L246.1,200.5L244.7,200.9L243.2,201.4L241.8,201.8L240.4,202.3L238.9,202.7L237.5,203.2L236.0,203.6L234.6,204.1L233.2,204.5L231.7,205.0L230.3,205.4L228.9,205.9L227.4,206.3L226.0,206.8L224.5,207.2L223.1,207.7L221.7,208.2L220.2,208.6L218.8,209.1L217.4,209.5L215.9,210.0L214.5,210.4L213.1,210.9L211.6,211.3L210.2,211.8L208.8,212.3L207.3,212.7L205.9,213.2L204.4,213.6L203.0,214.1L201.6,214.5L200.1,215.0L198.7,215.5L197.3,215.9L195.8,216.4L194.4,216.8L193.0,217.3L191.5,217.8L190.1,218.2L188.7,218.7L187.2,219.1L185.8,219.6L184.4,220.1L182.9,220.5L181.5,221.0L180.1,221.4L178.6,221.9L177.2,222.4L175.8,222.8L174.3,223.3L172.9,223.8L171.5,224.2L170.0,224.7L168.6,225.1L167.2,225.6L165.7,226.1L164.3,226.5L162.9,227.0L161.4,227.5L160.0,227.9L158.6,228.4L157.1,228.9L155.7,229.3L154.3,229.8L152.8,230.3L151.4,230.7L150.0,231.2L148.5,231.7L147.1,232.1L145.7,232.6L144.2,233.1L142.8,233.5L141.4,234.0L139.9,234.5L138.5,234.9L137.1,235.4L135.7,235.9L134.2,236.3L132.8,236.8L131.4,237.3L129.9,237.7L128.5,238.2L127.1,238.7L125.6,239.1L124.2,239.6L122.8,240.1L121.4,240.6L119.9,241.0L118.5,241.5L117.1,242.0L115.6,242.4L114.2,242.9L112.8,243.4L111.3,243.8L109.9,244.3L108.5,244.8L107.1,245.3L105.6,245.7L104.2,246.2L102.8,246.7L101.3,247.1L99.9,247.6L98.5,248.1L97.1,248.6L95.6,249.0L94.2,249.5L92.8,250.0L91.4,250.5L89.9,250.9L88.5,251.4" stroke="#4E0D12" stroke-dasharray="5.306 5.005" stroke-dashoffset="5.306" stroke-width="2.5500000000000003"/>
<path d="M769.6,154.0L769.9,155.4L770.1,156.9L770.3,158.4L770.5,159.8L770.6,161.3L770.6,162.8L770.6,164.3L770.6,165.8L770.5,167.3L770.3,168.8L770.1,170.3L769.9,171.8L769.6,173.3L769.3,174.7L769.0,176.2L768.6,177.7L768.2,179.1L767.7,180.6L767.2,182.0L766.7,183.4L766.1,184.8L765.5,186.2L764.9,187.6L764.2,189.0L763.5,190.3L762.8,191.6L762.1,192.9L761.3,194.2L760.6,195.5L759.8,196.8L758.9,198.0L758.1,199.3L757.2,200.5L756.3,201.7L755.4,202.9L754.5,204.1L753.5,205.2L752.5,206.4L751.6,207.5L750.5,208.6L749.5,209.7L748.5,210.8L747.4,211.9L746.3,212.9L745.3,214.0L744.2,215.0L743.0,216.0L741.9,217.1L740.8,218.1L739.6,219.0L738.5,220.0L737.3,221.0L736.1,222.0L734.9,222.9L733.7,223.8L732.5,224.8L731.3,225.7L730.1,226.6L728.8,227.5L727.6,228.4L726.4,229.2L725.1,230.1L723.9,231.0L722.6,231.8L721.4,232.7L720.1,233.5L718.8,234.4L717.6,235.2L716.3,236.0L715.0,236.8L713.7,237.6L712.5,238.4L711.2,239.2L709.9,239.9L708.6,240.7L707.3,241.5L706.0,242.2L704.7,243.0L703.4,243.7L702.0,244.4L700.7,245.1L699.4,245.9L698.1,246.6L696.8,247.3L695.4,248.0L694.1,248.6L692.8,249.3L691.4,250.0L690.1,250.7L688.7,251.3L687.4,252.0L686.0,252.6L684.7,253.3L683.3,253.9L681.9,254.5L680.6,255.1L679.2,255.7L677.8,256.4L676.5,257.0L675.1,257.5L673.7,258.1L672.3,258.7L671.0,259.3L669.6,259.9L668.2,260.4L666.8,261.0L665.4,261.5L664.0,262.1L662.6,262.6L661.2,263.2L659.8,263.7L658.4,264.2L657.0,264.7L655.6,265.2L654.2,265.7L652.8,266.2L651.4,266.7L650.0,267.2L648.5,267.7L647.1,268.2L645.7,268.7L644.3,269.2L642.9,269.6L641.4,270.1L640.0,270.5L638.6,271.0L637.2,271.4L635.7,271.9L634.3,272.3L632.9,272.8L631.4,273.2L630.0,273.6L628.6,274.0L627.1,274.4L625.7,274.9L624.3,275.3L622.8,275.7L621.4,276.1L619.9,276.5L618.5,276.8L617.0,277.2L615.6,277.6L614.1,278.0L612.7,278.4L611.2,278.7L609.8,279.1L608.3,279.5L606.9,279.8L605.4,280.2L603.9,280.5L602.5,280.9L601.0,281.2L599.6,281.5L598.1,281.9L596.6,282.2L595.2,282.5L593.7,282.8L592.2,283.2L590.8,283.5L589.3,283.8L587.8,284.1L586.4,284.4L584.9,284.7L583.4,285.0L581.9,285.3L580.5,285.6L579.0,285.9L577.5,286.1L576.0,286.4L574.6,286.7L573.1,287.0L571.6,287.2L570.1,287.5L568.6,287.8L567.2,288.0L565.7,288.3L564.2,288.5L562.7,288.8L561.2,289.0L559.7,289.3L558.2,289.5L556.8,289.8L555.3,290.0L553.8,290.2L552.3,290.5L550.8,290.7L549.3,290.9L547.8,291.2L546.3,291.4L544.8,291.6L543.3,291.8L541.9,292.0L540.4,292.2L538.9,292.5L537.4,292.7L535.9,292.9L534.4,293.1L532.9,293.3L531.4,293.5L529.9,293.7L528.4,293.9L526.9,294.0L525.4,294.2L523.9,294.4L522.4,294.6L520.9,294.8L519.4,295.0L517.9,295.2L516.4,295.3L514.9,295.5L513.4,295.7L511.9,295.9L510.4,296.0L508.9,296.2L507.4,296.4L505.9,296.5L504.4,296.7L502.9,296.9L501.4,297.0L499.9,297.2L498.4,297.3L496.9,297.5L495.4,297.7L493.9,297.8L492.4,298.0L490.9,298.1L489.4,298.3L487.9,298.4L486.4,298.6L484.9,298.7L483.4,298.9L481.9,299.0L480.4,299.2L478.9,299.3L477.4,299.4L475.9,299.6L474.4,299.7L472.9,299.8L471.4,300.0L469.9,300.1L468.4,300.3L466.9,300.4L465.4,300.5L463.9,300.6L462.4,300.8L460.9,300.9L459.4,301.0L457.9,301.1L456.4,301.3L454.9,301.4L453.4,301.5L451.9,301.6L450.4,301.7L448.9,301.9L447.4,302.0L445.9,302.1L444.4,302.2L442.9,302.3L441.4,302.4L439.9,302.5L438.4,302.6L436.9,302.8L435.4,302.9L433.9,303.0L432.4,303.1L430.9,303.2L429.4,303.3L427.9,303.4L426.4,303.5L424.9,303.6L423.4,303.7L421.9,303.8L420.4,303.9L418.9,304.0L417.4,304.0L415.9,304.1L414.4,304.2L412.9,304.3L411.4,304.4L409.9,304.5L408.4,304.6L406.9,304.7L405.4,304.8L403.9,304.8L402.4,304.9L400.9,305.0L399.4,305.1L397.9,305.2L396.4,305.2L394.9,305.3L393.4,305.4L391.9,305.5L390.4,305.5L388.9,305.6L387.4,305.7L385.9,305.8L384.4,305.8L382.9,305.9L381.4,306.0L379.9,306.0L378.4,306.1L376.9,306.2L375.4,306.2L373.9,306.3L372.4,306.4L370.9,306.4L369.4,306.5L367.9,306.6L366.4,306.6L364.9,306.7L363.4,306.7L361.9,306.8L360.4,306.9L358.9,306.9L357.4,307.0L355.9,307.0L354.4,307.1L352.9,307.1L351.4,307.2L349.9,307.2L348.4,307.3L346.9,307.3L345.4,307.4L343.9,307.4L342.4,307.5L340.9,307.5L339.4,307.6L337.9,307.6L336.4,307.7L334.9,307.7L333.4,307.7L331.9,307.8L330.4,307.8L328.9,307.9L327.4,307.9L325.9,308.0L324.4,308.0L322.9,308.0L321.4,308.1L319.9,308.1L318.4,308.1L316.9,308.2L315.4,308.2L313.9,308.3L312.4,308.3L310.9,308.3L309.4,308.4L307.9,308.4L306.4,308.4L304.9,308.4L303.4,308.5L301.9,308.5L300.4,308.5L298.9,308.6L297.4,308.6L295.9,308.6L294.4,308.6L292.9,308.7L291.4,308.7L289.9,308.7L288.4,308.8L286.9,308.8L285.4,308.8L283.9,308.8L282.4,308.8L280.9,308.9L279.4,308.9L277.9,308.9L276.4,308.9L274.9,309.0L273.4,309.0L271.9,309.0L270.4,309.0L268.9,309.0L267.3,309.0L265.8,309.1L264.3,309.1L262.8,309.1L261.3,309.1L259.8,309.1L258.3,309.1L256.8,309.2L255.3,309.2L253.8,309.2L252.3,309.2L250.8,309.2L249.3,309.2L247.8,309.2L246.3,309.3L244.8,309.3L243.3,309.3L241.8,309.3L240.3,309.3L238.8,309.3L237.3,309.3L235.8,309.3L234.3,309.3L232.8,309.4L231.3,309.4L229.8,309.4L228.3,309.4L226.8,309.4L225.3,309.4L223.8,309.4L222.3,309.4L220.8,309.4L219.3,309.4L217.8,309.4L216.2,309.4L214.7,309.5L213.2,309.5L211.7,309.5L210.2,309.5L208.7,309.5L207.2,309.5L205.7,309.5L204.2,309.5L202.7,309.5L201.2,309.5L199.7,309.5L198.2,309.5L196.7,309.5L195.2,309.5L193.7,309.5L192.2,309.5L190.7,309.5L189.2,309.5L187.7,309.5L186.2,309.5L184.7,309.5L183.2,309.6L181.7,309.6L180.2,309.6L178.6,309.6L177.1,309.6L175.6,309.6L174.1,309.6L172.6,309.6L171.1,309.6L169.6,309.6L168.1,309.6L166.6,309.6L165.1,309.6L163.6,309.6L162.1,309.6L160.6,309.6L159.1,309.6L157.6,309.6L156.1,309.6L154.6,309.6L153.1,309.6L151.6,309.6L150.1,309.6L148.5,309.6L147.0,309.6L145.5,309.6L144.0,309.6L142.5,309.6L141.0,309.6L139.5,309.6L138.0,309.6L136.5,309.6L135.0,309.7L133.5,309.7L132.0,309.7L130.5,309.7L129.0,309.7L127.5,309.7L126.0,309.7L124.5,309.7L122.9,309.7" stroke="#4E0D12"/></g>
<g fill="none" stroke-width="2.35" stroke-linejoin="round" clip-path="url(#cBL)"><path d="M712.0,412.8L710.6,412.4L709.1,412.0L707.6,411.7L706.2,411.3L704.7,410.9L703.2,410.6L701.8,410.2L700.3,409.9L698.8,409.5L697.3,409.2L695.9,408.9L694.4,408.5L692.9,408.2L691.4,407.9L690.0,407.6L688.5,407.3L687.0,407.0L685.5,406.7L684.0,406.4L682.6,406.1L681.1,405.8L679.6,405.5L678.1,405.2L676.6,404.9L675.2,404.7L673.7,404.4L672.2,404.1L670.7,403.9L669.2,403.6L667.7,403.4L666.2,403.2L664.7,402.9L663.3,402.7L661.8,402.4L660.3,402.2L658.8,402.0L657.3,401.8L655.8,401.6L654.3,401.4L652.8,401.1L651.3,400.9L649.8,400.7L648.3,400.5L646.8,400.4L645.3,400.2L643.9,400.0L642.4,399.8L640.9,399.6L639.4,399.5L637.9,399.3L636.4,399.1L634.9,399.0L633.4,398.8L631.9,398.6L630.4,398.5L628.9,398.3L627.4,398.2L625.8,398.1L624.3,397.9L622.8,397.8L621.3,397.7L619.8,397.5L618.3,397.4L616.8,397.3L615.3,397.2L613.8,397.1L612.3,396.9L610.8,396.8L609.3,396.7L607.8,396.6L606.3,396.5L604.8,396.4L603.2,396.3L601.7,396.2L600.2,396.2L598.7,396.1L597.2,396.0L595.7,395.9L594.2,395.9L592.7,395.8L591.1,395.7L589.6,395.7L588.1,395.6L586.6,395.6L585.1,395.5L583.6,395.5L582.1,395.4L580.6,395.4L579.0,395.4L577.5,395.4L576.0,395.3L574.5,395.3L573.0,395.3L571.5,395.3L570.0,395.4L568.5,395.4L566.9,395.4L565.4,395.4L563.9,395.5L562.4,395.5L560.9,395.6L559.4,395.6L557.9,395.7L556.4,395.8L554.9,395.9L553.4,396.0L551.9,396.1L550.4,396.2L548.8,396.3L547.3,396.4L545.8,396.5L544.3,396.7L542.8,396.8L541.3,397.0L539.8,397.2L538.3,397.4L536.8,397.6L535.4,397.8L533.9,398.0L532.4,398.2L530.9,398.4L529.4,398.7L527.9,398.9L526.4,399.2L524.9,399.5L523.4,399.7L521.9,400.0L520.5,400.4L519.0,400.7L517.5,401.0L516.0,401.4L514.5,401.7L513.1,402.1L511.6,402.5L510.1,402.9L508.7,403.4L507.4,404.1L506.1,405.0L505.1,406.2L504.5,407.5L504.4,408.9L504.9,410.3L505.9,411.5L507.1,412.5L508.5,413.2L510.0,413.7L511.6,414.1L513.1,414.5L514.6,414.8L516.1,415.0L517.5,415.2L519.0,415.3L520.5,415.4L522.1,415.3L523.6,415.1L525.0,414.7L526.4,414.0L527.5,413.0" stroke="#1982C4" stroke-dasharray="5.348 5.045" stroke-dashoffset="5.348" stroke-width="2.5500000000000003"/>
<path d="M712.0,412.8L713.5,413.2L715.0,413.6L716.4,414.0L717.9,414.4L719.3,414.8L720.8,415.2L722.2,415.6L723.7,416.0L725.1,416.4L726.6,416.9L728.0,417.3L729.5,417.8L730.9,418.2L732.4,418.7L733.8,419.1L735.3,419.6L736.7,420.1L738.1,420.6L739.6,421.1L741.0,421.6L742.4,422.1L743.8,422.6L745.2,423.2L746.6,423.7L748.0,424.3L749.4,424.8L750.8,425.4L752.2,426.0L753.6,426.6L754.9,427.2L756.3,427.9L757.6,428.5L758.9,429.2L760.2,429.9L761.6,430.6L762.9,431.3L764.1,432.0L765.4,432.7L766.7,433.5L767.9,434.3L769.2,435.1L770.4,435.9L771.6,436.7L772.8,437.6L774.0,438.5L775.2,439.4L776.3,440.3L777.5,441.2L778.6,442.2L779.7,443.2L780.8,444.2L781.9,445.3L782.9,446.4L784.0,447.5L785.0,448.7L786.0,449.8L787.0,451.1L788.0,452.3L788.9,453.6L789.8,454.9L790.6,456.2L791.4,457.6L792.0,459.0L792.6,460.4L793.0,461.8L793.4,463.2L793.7,464.7L793.9,466.1L794.0,467.6L794.0,469.1L793.9,470.6L793.8,472.0L793.6,473.5L793.3,475.0L793.0,476.4L792.6,477.9L792.1,479.3L791.6,480.7L791.0,482.2L790.4,483.5L789.7,484.9L789.0,486.2L788.2,487.6L787.4,488.9L786.6,490.1L785.7,491.3L784.8,492.5L783.9,493.7L782.9,494.8L781.9,495.9L780.9,496.9L779.9,498.0L778.8,499.0L777.7,499.9L776.6,500.9L775.4,501.8L774.3,502.7L773.1,503.6L771.9,504.4L770.7,505.3L769.4,506.1L768.1,506.9L766.9,507.6L765.6,508.4L764.3,509.1L762.9,509.8L761.6,510.5L760.3,511.2L758.9,511.9L757.5,512.5L756.1,513.2L754.8,513.8L753.4,514.4L752.0,515.0L750.6,515.6L749.2,516.2L747.7,516.8L746.3,517.4L744.9,518.0L743.5,518.5L742.1,519.1L740.7,519.7L739.3,520.2L737.8,520.8L736.4,521.3L735.0,521.9L733.6,522.4L732.1,523.0L730.7,523.5L729.3,524.0L727.9,524.5L726.4,525.1L725.0,525.6L723.6,526.1L722.2,526.6L720.7,527.1L719.3,527.6L717.9,528.1L716.4,528.6L715.0,529.1L713.6,529.5L712.1,530.0L710.7,530.5L709.3,531.0L707.8,531.4L706.4,531.9L704.9,532.3L703.5,532.8L702.1,533.2L700.6,533.7L699.2,534.1L697.7,534.6L696.3,535.0L694.9,535.4L693.4,535.8L692.0,536.3L690.5,536.7L689.1,537.1L687.6,537.5L686.2,537.9L684.7,538.3L683.3,538.7L681.8,539.1L680.4,539.5L678.9,539.9L677.5,540.3L676.0,540.6L674.6,541.0L673.1,541.4L671.7,541.8L670.2,542.1L668.7,542.5L667.3,542.9L665.8,543.2L664.4,543.6L662.9,543.9L661.4,544.3L660.0,544.6L658.5,544.9L657.1,545.3L655.6,545.6L654.1,545.9L652.7,546.3L651.2,546.6L649.7,546.9L648.3,547.2L646.8,547.5L645.3,547.8L643.9,548.1L642.4,548.4L640.9,548.7L639.5,549.0L638.0,549.3L636.5,549.6L635.1,549.9L633.6,550.2L632.1,550.5L630.7,550.8L629.2,551.0L627.7,551.3L626.2,551.6L624.8,551.9L623.3,552.1L621.8,552.4L620.3,552.6L618.9,552.9L617.4,553.2L615.9,553.4L614.4,553.7L612.9,553.9L611.5,554.2L610.0,554.4L608.5,554.6L607.0,554.9L605.6,555.1L604.1,555.3L602.6,555.6L601.1,555.8L599.6,556.0L598.1,556.2L596.7,556.4L595.2,556.7L593.7,556.9L592.2,557.1L590.7,557.3L589.2,557.5L587.8,557.7L586.3,557.9L584.8,558.1L583.3,558.3L581.8,558.5L580.3,558.7L578.8,558.9L577.3,559.1L575.9,559.3L574.4,559.4L572.9,559.6L571.4,559.8L569.9,560.0L568.4,560.2L566.9,560.3L565.4,560.5L563.9,560.7L562.4,560.9L561.0,561.0L559.5,561.2L558.0,561.3L556.5,561.5L555.0,561.7L553.5,561.8L552.0,562.0L550.5,562.1L549.0,562.3L547.5,562.4L546.0,562.6L544.5,562.7L543.0,562.9L541.5,563.0L540.0,563.2L538.5,563.3L537.0,563.5L535.6,563.6L534.1,563.7L532.6,563.9L531.1,564.0L529.6,564.1L528.1,564.3L526.6,564.4L525.1,564.5L523.6,564.6L522.1,564.8L520.6,564.9L519.1,565.0L517.6,565.1L516.1,565.2L514.6,565.4L513.1,565.5L511.6,565.6L510.1,565.7L508.6,565.8L507.1,565.9L505.6,566.1L504.1,566.2L502.6,566.3L501.1,566.4L499.6,566.5L498.1,566.6L496.6,566.7L495.1,566.8L493.6,566.9L492.1,567.0L490.6,567.1L489.1,567.2L487.6,567.3L486.1,567.4L484.6,567.5L483.1,567.6L481.6,567.7L480.1,567.8L478.6,567.9L477.1,568.0L475.6,568.1L474.1,568.2L472.6,568.3L471.1,568.4L469.6,568.5L468.1,568.5L466.6,568.6L465.1,568.7L463.6,568.8L462.1,568.9L460.6,569.0L459.1,569.1L457.6,569.2L456.1,569.3L454.6,569.3L453.1,569.4L451.6,569.5L450.1,569.6L448.6,569.7L447.1,569.8L445.5,569.8L444.0,569.9L442.5,570.0L441.0,570.1L439.5,570.2L438.0,570.2L436.5,570.3L435.0,570.4L433.5,570.5L432.0,570.6L430.5,570.6L429.0,570.7L427.5,570.8L426.0,570.9L424.5,570.9L423.0,571.0L421.5,571.1L420.0,571.2L418.5,571.2L417.0,571.3L415.5,571.4L414.0,571.4L412.5,571.5L411.0,571.6L409.5,571.7L408.0,571.7L406.5,571.8L405.0,571.9L403.5,571.9L402.0,572.0L400.5,572.1L399.0,572.1L397.5,572.2L396.0,572.3L394.5,572.3L393.0,572.4L391.5,572.5L390.0,572.5L388.5,572.6L387.0,572.6L385.5,572.7L384.0,572.8L382.5,572.8L381.0,572.9L379.5,572.9L378.0,573.0L376.5,573.1L375.0,573.1L373.5,573.2L372.0,573.2L370.5,573.3L369.0,573.3L367.5,573.4L366.0,573.5L364.5,573.5L363.0,573.6L361.5,573.6L360.0,573.7L358.4,573.7L356.9,573.8L355.4,573.8L353.9,573.9L352.4,573.9L350.9,574.0L349.4,574.0L347.9,574.1L346.4,574.1L344.9,574.2L343.4,574.2L341.9,574.3L340.4,574.3L338.9,574.4L337.4,574.4L335.9,574.5L334.4,574.5L332.9,574.6L331.4,574.6L329.9,574.7L328.4,574.7L326.9,574.7L325.4,574.8L323.9,574.8L322.4,574.9L320.9,574.9L319.4,575.0L317.9,575.0L316.4,575.0L314.9,575.1L313.4,575.1L311.9,575.2L310.4,575.2L308.9,575.2L307.4,575.3L305.9,575.3L304.4,575.4L302.9,575.4L301.4,575.4L299.9,575.5L298.4,575.5L296.9,575.5L295.4,575.6L293.9,575.6L292.4,575.6L290.9,575.7L289.3,575.7L287.8,575.8L286.3,575.8L284.8,575.8L283.3,575.9L281.8,575.9L280.3,575.9L278.8,575.9L277.3,576.0L275.8,576.0L274.3,576.0L272.8,576.1L271.3,576.1L269.8,576.1L268.3,576.2L266.8,576.2L265.3,576.2L263.8,576.2L262.3,576.3L260.8,576.3L259.3,576.3L257.8,576.3L256.3,576.4L254.8,576.4L253.3,576.4L251.8,576.5L250.3,576.5L248.8,576.5L247.3,576.5L245.8,576.5L244.3,576.6L242.8,576.6L241.3,576.6L239.8,576.6L238.3,576.7L236.8,576.7L235.3,576.7L233.8,576.7L232.3,576.7L230.8,576.8L229.2,576.8L227.7,576.8L226.2,576.8L224.7,576.8L223.2,576.9L221.7,576.9L220.2,576.9L218.7,576.9L217.2,576.9L215.7,577.0L214.2,577.0L212.7,577.0L211.2,577.0L209.7,577.0L208.2,577.0L206.7,577.1L205.2,577.1L203.7,577.1L202.2,577.1L200.7,577.1L199.2,577.1L197.7,577.1L196.2,577.2L194.7,577.2L193.2,577.2L191.7,577.2L190.2,577.2L188.7,577.2L187.2,577.2L185.7,577.2L184.2,577.3L182.7,577.3L181.2,577.3L179.7,577.3L178.2,577.3L176.7,577.3L175.2,577.3L173.6,577.3L172.1,577.3L170.6,577.4L169.1,577.4L167.6,577.4L166.1,577.4L164.6,577.4L163.1,577.4L161.6,577.4L160.1,577.4L158.6,577.4L157.1,577.4L155.6,577.4L154.1,577.4L152.6,577.4L151.1,577.5L149.6,577.5L148.1,577.5L146.6,577.5L145.1,577.5L143.6,577.5L142.1,577.5L140.6,577.5L139.1,577.5L137.6,577.5L136.1,577.5L134.6,577.5L133.1,577.5L131.6,577.5L130.1,577.5L128.6,577.5L127.1,577.5L125.6,577.5L124.1,577.5L122.6,577.5L121.0,577.5L119.5,577.5L118.0,577.5L116.5,577.5L115.0,577.5L113.5,577.5L112.0,577.5L110.5,577.5L109.0,577.5L107.5,577.5L106.0,577.5L104.5,577.5L103.0,577.5L101.5,577.5L100.0,577.5L98.5,577.5L97.0,577.5" stroke="#1982C4"/>
<path d="M706.0,409.8L704.6,409.3L703.1,408.9L701.7,408.4L700.3,407.9L698.8,407.4L697.4,407.0L696.0,406.5L694.5,406.1L693.1,405.7L691.6,405.2L690.2,404.8L688.8,404.4L687.3,404.0L685.9,403.6L684.4,403.2L682.9,402.8L681.5,402.4L680.0,402.1L678.6,401.7L677.1,401.3L675.6,401.0L674.2,400.6L672.7,400.3L671.2,399.9L669.8,399.6L668.3,399.3L666.8,399.0L665.4,398.6L663.9,398.3L662.4,398.0L660.9,397.7L659.4,397.4L658.0,397.1L656.5,396.9L655.0,396.6L653.5,396.3L652.0,396.0L650.5,395.8L649.0,395.5L647.5,395.3L646.1,395.0L644.6,394.8L643.1,394.6L641.6,394.3L640.1,394.1L638.6,393.9L637.1,393.6L635.6,393.4L634.1,393.2L632.6,393.0L631.1,392.8L629.6,392.6L628.1,392.4L626.6,392.2L625.1,392.0L623.6,391.9L622.0,391.7L620.5,391.5L619.0,391.3L617.5,391.2L616.0,391.0L614.5,390.8L613.0,390.7L611.5,390.5L610.0,390.4L608.4,390.2L606.9,390.1L605.4,390.0L603.9,389.8L602.4,389.7L600.9,389.5L599.4,389.4L597.8,389.3L596.3,389.2L594.8,389.0L593.3,388.9L591.8,388.8L590.3,388.7L588.7,388.6L587.2,388.5L585.7,388.4L584.2,388.3L582.7,388.2L581.2,388.1L579.6,388.0L578.1,387.9L576.6,387.8L575.1,387.7L573.6,387.6L572.1,387.5L570.5,387.4L569.0,387.3L567.5,387.2L566.0,387.2L564.5,387.1L563.0,387.0L561.4,386.9L559.9,386.8L558.4,386.8L556.9,386.7L555.4,386.6L553.9,386.6L552.4,386.5L550.8,386.4L549.3,386.4L547.8,386.3L546.3,386.3L544.8,386.2L543.3,386.2L541.8,386.2L540.3,386.1L538.7,386.1L537.2,386.1L535.7,386.1L534.2,386.1L532.7,386.1L531.2,386.1L529.7,386.1L528.2,386.1L526.7,386.1L525.2,386.1L523.7,386.2L522.2,386.2L520.7,386.2L519.2,386.3L517.7,386.4L516.2,386.4L514.6,386.5L513.1,386.6L511.6,386.7L510.1,386.8L508.6,386.9L507.1,387.0L505.6,387.2L504.2,387.3L502.7,387.5L501.2,387.6L499.7,387.8L498.2,388.0L496.7,388.2L495.2,388.4L493.7,388.6L492.2,388.8L490.7,389.1L489.2,389.3L487.7,389.6L486.2,389.8L484.7,390.1L483.2,390.5L481.6,390.8L480.1,391.2L478.5,391.7L477.0,392.3L475.6,393.0L474.3,393.9L473.3,395.0L472.6,396.2L472.4,397.5L472.8,398.7L473.7,399.9L475.0,400.9L476.4,401.6L477.9,402.1L479.5,402.4L481.1,402.7L482.7,402.9L484.2,403.1L485.7,403.3L487.1,403.3L488.5,403.3L490.0,403.1L491.4,402.7L492.8,402.2L494.3,401.4" stroke="#FF595E" stroke-dasharray="5.219 4.923" stroke-dashoffset="5.219" stroke-width="2.5500000000000003"/>
<path d="M706.0,409.8L707.4,410.3L708.8,410.8L710.2,411.3L711.6,411.9L713.0,412.4L714.4,412.9L715.8,413.5L717.2,414.0L718.6,414.6L720.0,415.1L721.4,415.7L722.8,416.3L724.2,416.9L725.5,417.5L726.9,418.1L728.3,418.7L729.7,419.3L731.0,419.9L732.4,420.6L733.8,421.2L735.1,421.9L736.5,422.6L737.8,423.3L739.2,424.0L740.5,424.7L741.8,425.4L743.1,426.1L744.4,426.9L745.7,427.6L747.0,428.4L748.3,429.2L749.6,430.0L750.8,430.8L752.1,431.6L753.3,432.5L754.6,433.4L755.8,434.2L757.0,435.1L758.2,436.0L759.4,437.0L760.5,437.9L761.7,438.9L762.8,439.9L764.0,440.9L765.1,441.9L766.2,442.9L767.2,444.0L768.3,445.1L769.3,446.2L770.3,447.4L771.2,448.5L772.1,449.8L773.0,451.0L773.7,452.3L774.5,453.6L775.1,455.0L775.7,456.4L776.2,457.8L776.6,459.3L776.9,460.8L777.1,462.3L777.3,463.8L777.3,465.3L777.3,466.8L777.2,468.2L777.0,469.7L776.7,471.1L776.4,472.5L776.0,473.9L775.5,475.3L775.0,476.7L774.4,478.0L773.7,479.3L773.0,480.7L772.3,482.0L771.4,483.2L770.6,484.5L769.7,485.7L768.8,487.0L767.8,488.2L766.8,489.3L765.8,490.5L764.7,491.6L763.7,492.7L762.6,493.8L761.5,494.9L760.3,495.9L759.2,496.9L758.0,497.9L756.9,498.9L755.7,499.8L754.5,500.8L753.3,501.7L752.1,502.6L750.8,503.4L749.6,504.3L748.3,505.1L747.1,505.9L745.8,506.7L744.5,507.5L743.2,508.3L741.9,509.0L740.6,509.8L739.3,510.5L738.0,511.2L736.6,511.9L735.3,512.5L733.9,513.2L732.6,513.9L731.2,514.5L729.9,515.1L728.5,515.8L727.1,516.4L725.7,517.0L724.3,517.5L722.9,518.1L721.6,518.7L720.2,519.3L718.7,519.8L717.3,520.4L715.9,520.9L714.5,521.5L713.1,522.0L711.7,522.5L710.3,523.1L708.9,523.6L707.5,524.1L706.0,524.6L704.6,525.1L703.2,525.6L701.8,526.1L700.4,526.6L699.0,527.1L697.5,527.6L696.1,528.1L694.7,528.6L693.3,529.1L691.8,529.5L690.4,530.0L689.0,530.5L687.5,530.9L686.1,531.4L684.7,531.8L683.2,532.3L681.8,532.7L680.4,533.2L678.9,533.6L677.5,534.1L676.1,534.5L674.6,534.9L673.2,535.3L671.7,535.8L670.3,536.2L668.9,536.6L667.4,537.0L666.0,537.4L664.5,537.8L663.1,538.2L661.6,538.6L660.2,539.0L658.7,539.4L657.3,539.7L655.8,540.1L654.4,540.5L652.9,540.9L651.5,541.2L650.0,541.6L648.6,542.0L647.1,542.3L645.7,542.7L644.2,543.0L642.8,543.4L641.3,543.7L639.8,544.1L638.4,544.4L636.9,544.8L635.5,545.1L634.0,545.4L632.5,545.7L631.1,546.1L629.6,546.4L628.1,546.7L626.7,547.0L625.2,547.3L623.7,547.6L622.3,547.9L620.8,548.2L619.3,548.5L617.9,548.8L616.4,549.1L614.9,549.4L613.5,549.7L612.0,550.0L610.5,550.3L609.0,550.6L607.6,550.8L606.1,551.1L604.6,551.4L603.1,551.7L601.7,551.9L600.2,552.2L598.7,552.4L597.2,552.7L595.7,553.0L594.3,553.2L592.8,553.5L591.3,553.7L589.8,553.9L588.3,554.2L586.9,554.4L585.4,554.7L583.9,554.9L582.4,555.1L580.9,555.4L579.4,555.6L578.0,555.8L576.5,556.0L575.0,556.3L573.5,556.5L572.0,556.7L570.5,556.9L569.0,557.1L567.5,557.3L566.1,557.5L564.6,557.7L563.1,557.9L561.6,558.1L560.1,558.3L558.6,558.5L557.1,558.7L555.6,558.9L554.1,559.1L552.6,559.3L551.1,559.5L549.6,559.7L548.2,559.8L546.7,560.0L545.2,560.2L543.7,560.4L542.2,560.6L540.7,560.7L539.2,560.9L537.7,561.1L536.2,561.2L534.7,561.4L533.2,561.6L531.7,561.7L530.2,561.9L528.7,562.1L527.2,562.2L525.7,562.4L524.2,562.5L522.7,562.7L521.2,562.8L519.7,563.0L518.2,563.1L516.7,563.3L515.2,563.4L513.7,563.6L512.2,563.7L510.7,563.8L509.2,564.0L507.7,564.1L506.2,564.2L504.7,564.4L503.2,564.5L501.7,564.7L500.2,564.8L498.7,564.9L497.2,565.0L495.7,565.2L494.2,565.3L492.7,565.4L491.2,565.5L489.7,565.7L488.2,565.8L486.7,565.9L485.2,566.0L483.7,566.2L482.2,566.3L480.7,566.4L479.2,566.5L477.7,566.6L476.2,566.7L474.7,566.8L473.2,567.0L471.7,567.1L470.2,567.2L468.7,567.3L467.2,567.4L465.7,567.5L464.2,567.6L462.7,567.7L461.2,567.8L459.7,567.9L458.2,568.0L456.7,568.1L455.1,568.2L453.6,568.3L452.1,568.4L450.6,568.5L449.1,568.6L447.6,568.7L446.1,568.8L444.6,568.9L443.1,569.0L441.6,569.1L440.1,569.2L438.6,569.3L437.1,569.4L435.6,569.5L434.1,569.6L432.6,569.7L431.1,569.8L429.6,569.9L428.1,570.0L426.6,570.0L425.1,570.1L423.6,570.2L422.1,570.3L420.6,570.4L419.1,570.5L417.6,570.6L416.1,570.6L414.6,570.7L413.1,570.8L411.6,570.9L410.1,571.0L408.6,571.0L407.1,571.1L405.6,571.2L404.1,571.3L402.6,571.4L401.1,571.4L399.6,571.5L398.1,571.6L396.6,571.7L395.1,571.7L393.6,571.8L392.1,571.9L390.6,572.0L389.1,572.0L387.6,572.1L386.1,572.2L384.6,572.2L383.1,572.3L381.6,572.4L380.1,572.4L378.6,572.5L377.1,572.6L375.6,572.6L374.0,572.7L372.5,572.8L371.0,572.8L369.5,572.9L368.0,573.0L366.5,573.0L365.0,573.1L363.5,573.1L362.0,573.2L360.5,573.3L359.0,573.3L357.5,573.4L356.0,573.4L354.5,573.5L353.0,573.6L351.5,573.6L350.0,573.7L348.5,573.7L347.0,573.8L345.5,573.8L344.0,573.9L342.5,573.9L341.0,574.0L339.5,574.0L338.0,574.1L336.5,574.1L335.0,574.2L333.5,574.2L332.0,574.3L330.5,574.3L329.0,574.4L327.5,574.4L326.0,574.5L324.5,574.5L323.0,574.6L321.5,574.6L320.0,574.7L318.5,574.7L317.0,574.8L315.5,574.8L314.0,574.8L312.5,574.9L311.0,574.9L309.5,575.0L308.0,575.0L306.5,575.1L305.0,575.1L303.5,575.1L302.0,575.2L300.5,575.2L299.0,575.2L297.5,575.3L296.0,575.3L294.4,575.4L292.9,575.4L291.4,575.4L289.9,575.5L288.4,575.5L286.9,575.5L285.4,575.6L283.9,575.6L282.4,575.6L280.9,575.7L279.4,575.7L277.9,575.7L276.4,575.8L274.9,575.8L273.4,575.8L271.9,575.9L270.4,575.9L268.9,575.9L267.4,576.0L265.9,576.0L264.4,576.0L262.9,576.0L261.4,576.1L259.9,576.1L258.4,576.1L256.9,576.2L255.4,576.2L253.9,576.2L252.4,576.2L250.9,576.3L249.4,576.3L247.9,576.3L246.4,576.3L244.9,576.4L243.4,576.4L241.9,576.4L240.4,576.4L238.9,576.5L237.4,576.5L235.9,576.5L234.3,576.5L232.8,576.5L231.3,576.6L229.8,576.6L228.3,576.6L226.8,576.6L225.3,576.6L223.8,576.7L222.3,576.7L220.8,576.7L219.3,576.7L217.8,576.7L216.3,576.8L214.8,576.8L213.3,576.8L211.8,576.8L210.3,576.8L208.8,576.8L207.3,576.9L205.8,576.9L204.3,576.9L202.8,576.9L201.3,576.9L199.8,576.9L198.3,577.0L196.8,577.0L195.3,577.0L193.8,577.0L192.3,577.0L190.8,577.0L189.2,577.0L187.7,577.1L186.2,577.1L184.7,577.1L183.2,577.1L181.7,577.1L180.2,577.1L178.7,577.1L177.2,577.1L175.7,577.2L174.2,577.2L172.7,577.2L171.2,577.2L169.7,577.2L168.2,577.2L166.7,577.2L165.2,577.2L163.7,577.2L162.2,577.3L160.7,577.3L159.2,577.3L157.7,577.3L156.2,577.3L154.6,577.3L153.1,577.3L151.6,577.3L150.1,577.3L148.6,577.3L147.1,577.4L145.6,577.4L144.1,577.4L142.6,577.4L141.1,577.4L139.6,577.4L138.1,577.4L136.6,577.4L135.1,577.4L133.6,577.4L132.1,577.4L130.6,577.4L129.1,577.4L127.6,577.5L126.1,577.5L124.5,577.5L123.0,577.5L121.5,577.5L120.0,577.5L118.5,577.5L117.0,577.5L115.5,577.5L114.0,577.5L112.5,577.5L111.0,577.5L109.5,577.5L108.0,577.5L106.5,577.5L105.0,577.6L103.5,577.6L102.0,577.6" stroke="#FF595E"/>
<path d="M682.9,391.8L681.5,391.3L680.1,390.8L678.6,390.3L677.2,389.9L675.8,389.4L674.3,388.9L672.9,388.5L671.4,388.0L670.0,387.6L668.5,387.2L667.1,386.7L665.6,386.3L664.2,385.9L662.7,385.5L661.3,385.0L659.8,384.6L658.4,384.2L656.9,383.8L655.5,383.4L654.0,383.0L652.6,382.6L651.1,382.2L649.7,381.8L648.2,381.5L646.7,381.1L645.3,380.7L643.8,380.3L642.4,380.0L640.9,379.6L639.4,379.3L638.0,378.9L636.5,378.5L635.0,378.2L633.6,377.8L632.1,377.5L630.6,377.2L629.2,376.8L627.7,376.5L626.2,376.2L624.8,375.8L623.3,375.5L621.8,375.2L620.4,374.9L618.9,374.5L617.4,374.2L615.9,373.9L614.5,373.6L613.0,373.3L611.5,373.0L610.0,372.7L608.6,372.4L607.1,372.1L605.6,371.8L604.1,371.5L602.7,371.3L601.2,371.0L599.7,370.7L598.2,370.4L596.7,370.1L595.3,369.9L593.8,369.6L592.3,369.3L590.8,369.1L589.3,368.8L587.8,368.6L586.4,368.3L584.9,368.1L583.4,367.8L581.9,367.6L580.4,367.3L578.9,367.1L577.4,366.9L576.0,366.6L574.5,366.4L573.0,366.2L571.5,365.9L570.0,365.7L568.5,365.5L567.0,365.3L565.5,365.0L564.0,364.8L562.5,364.6L561.0,364.4L559.6,364.2L558.1,364.0L556.6,363.8L555.1,363.6L553.6,363.4L552.1,363.2L550.6,363.0L549.1,362.8L547.6,362.6L546.1,362.4L544.6,362.2L543.1,362.1L541.6,361.9L540.1,361.7L538.6,361.5L537.1,361.3L535.6,361.2L534.1,361.0L532.6,360.8L531.1,360.7L529.6,360.5L528.1,360.3L526.6,360.2L525.1,360.0L523.6,359.9L522.1,359.7L520.6,359.6L519.1,359.4L517.6,359.3L516.1,359.1L514.6,359.0L513.1,358.8L511.6,358.7L510.1,358.5L508.6,358.4L507.1,358.3L505.6,358.1L504.1,358.0L502.6,357.9L501.0,357.7L499.5,357.6L498.0,357.5L496.5,357.4L495.0,357.2L493.5,357.1L492.0,357.0L490.5,356.9L489.0,356.8L487.5,356.7L486.0,356.5L484.5,356.4L483.0,356.3L481.5,356.2L479.9,356.1L478.4,356.0L476.9,355.9L475.4,355.8L473.9,355.7L472.4,355.6L470.9,355.5L469.4,355.4L467.9,355.3L466.4,355.2L464.9,355.1L463.3,355.0L461.8,354.9L460.3,354.8L458.8,354.7L457.3,354.7L455.8,354.6L454.3,354.5L452.8,354.4L451.3,354.3L449.7,354.2L448.2,354.2L446.7,354.1L445.2,354.0L443.7,353.9L442.2,353.8L440.7,353.8L439.2,353.7L437.7,353.6L436.1,353.6L434.6,353.5L433.1,353.4L431.6,353.3L430.1,353.3L428.6,353.2L427.1,353.1L425.6,353.1L424.1,353.0L422.6,352.9L421.0,352.9L419.5,352.8L418.0,352.8L416.5,352.7L415.0,352.6L413.5,352.6L412.0,352.5L410.5,352.5L409.0,352.4L407.4,352.3L405.9,352.3L404.4,352.2L402.9,352.2L401.4,352.1L399.9,352.1L398.4,352.0L396.9,352.0L395.4,351.9L393.9,351.8L392.4,351.8L390.8,351.7L389.3,351.7L387.8,351.6L386.3,351.6L384.8,351.5L383.3,351.5L381.8,351.4L380.3,351.4L378.8,351.3L377.3,351.3L375.8,351.3L374.3,351.2L372.8,351.2L371.3,351.1L369.8,351.1L368.3,351.0L366.8,351.0L365.3,350.9L363.8,350.9L362.3,350.9L360.8,350.8L359.3,350.8L357.8,350.8L356.3,350.7L354.8,350.7L353.4,350.7L351.9,350.6L350.4,350.6L348.9,350.6L347.5,350.5L346.0,350.5L344.5,350.5L343.1,350.5L341.6,350.5L340.1,350.4L338.6,350.4L337.1,350.4L335.6,350.4L334.1,350.4L332.5,350.5L330.9,350.5L329.2,350.5L327.5,350.6L325.8,350.7L323.9,350.8L322.3,351.0L321.3,351.3L321.4,352.0L322.7,352.8L324.2,353.5L325.8,353.9L327.3,354.1L328.8,354.1L330.4,354.0L331.8,353.9L333.3,353.7" stroke="#8AC926" stroke-dasharray="5.266 4.968" stroke-dashoffset="5.266" stroke-width="2.5500000000000003"/>
<path d="M682.9,391.8L684.4,392.2L685.8,392.7L687.2,393.2L688.7,393.7L690.1,394.2L691.5,394.7L692.9,395.2L694.4,395.8L695.8,396.3L697.2,396.8L698.6,397.4L700.0,397.9L701.4,398.5L702.8,399.0L704.2,399.6L705.6,400.2L707.0,400.8L708.4,401.4L709.8,402.0L711.2,402.6L712.5,403.2L713.9,403.9L715.3,404.5L716.6,405.2L718.0,405.9L719.3,406.5L720.6,407.2L722.0,407.9L723.3,408.7L724.6,409.4L725.9,410.2L727.2,410.9L728.4,411.7L729.7,412.5L731.0,413.3L732.2,414.1L733.5,415.0L734.7,415.8L735.9,416.7L737.1,417.6L738.3,418.5L739.5,419.4L740.7,420.3L741.8,421.3L743.0,422.3L744.1,423.3L745.2,424.3L746.3,425.3L747.4,426.4L748.4,427.4L749.5,428.5L750.5,429.6L751.5,430.8L752.4,431.9L753.4,433.1L754.3,434.3L755.1,435.5L756.0,436.8L756.8,438.0L757.5,439.3L758.2,440.6L758.9,441.9L759.6,443.3L760.1,444.7L760.7,446.1L761.1,447.6L761.6,449.0L761.9,450.5L762.2,452.0L762.4,453.5L762.6,455.1L762.7,456.6L762.7,458.1L762.6,459.6L762.5,461.1L762.3,462.6L762.0,464.0L761.6,465.4L761.2,466.8L760.7,468.2L760.1,469.6L759.5,471.0L758.8,472.3L758.1,473.6L757.3,474.9L756.5,476.2L755.6,477.4L754.7,478.6L753.8,479.8L752.8,481.0L751.8,482.2L750.8,483.3L749.8,484.4L748.7,485.5L747.6,486.6L746.5,487.7L745.4,488.7L744.3,489.7L743.2,490.7L742.0,491.7L740.9,492.7L739.7,493.6L738.5,494.5L737.3,495.4L736.1,496.3L734.9,497.2L733.7,498.1L732.4,498.9L731.2,499.7L729.9,500.6L728.7,501.4L727.4,502.2L726.1,503.0L724.8,503.7L723.5,504.5L722.2,505.2L720.9,506.0L719.6,506.7L718.3,507.4L717.0,508.2L715.6,508.9L714.3,509.6L713.0,510.3L711.6,511.0L710.3,511.6L709.0,512.3L707.6,513.0L706.3,513.7L704.9,514.3L703.6,515.0L702.2,515.6L700.9,516.3L699.5,516.9L698.1,517.5L696.8,518.2L695.4,518.8L694.0,519.4L692.7,520.0L691.3,520.6L689.9,521.2L688.5,521.8L687.1,522.4L685.8,522.9L684.4,523.5L683.0,524.1L681.6,524.6L680.2,525.2L678.8,525.7L677.4,526.3L676.0,526.8L674.6,527.3L673.2,527.9L671.8,528.4L670.4,528.9L669.0,529.4L667.6,529.9L666.2,530.4L664.8,530.9L663.3,531.4L661.9,531.9L660.5,532.4L659.1,532.8L657.7,533.3L656.2,533.8L654.8,534.2L653.4,534.7L651.9,535.1L650.5,535.6L649.1,536.0L647.6,536.4L646.2,536.9L644.8,537.3L643.3,537.7L641.9,538.1L640.4,538.5L639.0,539.0L637.5,539.4L636.1,539.8L634.6,540.2L633.2,540.5L631.7,540.9L630.3,541.3L628.8,541.7L627.4,542.1L625.9,542.4L624.5,542.8L623.0,543.2L621.5,543.5L620.1,543.9L618.6,544.2L617.2,544.6L615.7,544.9L614.2,545.2L612.8,545.6L611.3,545.9L609.8,546.2L608.3,546.6L606.9,546.9L605.4,547.2L603.9,547.5L602.5,547.8L601.0,548.1L599.5,548.4L598.0,548.7L596.5,549.0L595.1,549.3L593.6,549.6L592.1,549.9L590.6,550.2L589.1,550.5L587.7,550.7L586.2,551.0L584.7,551.3L583.2,551.6L581.7,551.8L580.2,552.1L578.8,552.4L577.3,552.6L575.8,552.9L574.3,553.1L572.8,553.4L571.3,553.6L569.8,553.9L568.4,554.1L566.9,554.3L565.4,554.6L563.9,554.8L562.4,555.1L560.9,555.3L559.4,555.5L557.9,555.7L556.4,556.0L554.9,556.2L553.4,556.4L552.0,556.6L550.5,556.9L549.0,557.1L547.5,557.3L546.0,557.5L544.5,557.7L543.0,557.9L541.5,558.1L540.0,558.3L538.5,558.5L537.0,558.7L535.5,558.9L534.1,559.1L532.6,559.3L531.1,559.5L529.6,559.7L528.1,559.9L526.6,560.1L525.1,560.3L523.6,560.5L522.1,560.6L520.6,560.8L519.1,561.0L517.6,561.2L516.1,561.4L514.7,561.5L513.2,561.7L511.7,561.9L510.2,562.0L508.7,562.2L507.2,562.4L505.7,562.5L504.2,562.7L502.7,562.9L501.2,563.0L499.7,563.2L498.2,563.4L496.7,563.5L495.2,563.7L493.7,563.8L492.3,564.0L490.8,564.1L489.3,564.3L487.8,564.4L486.3,564.6L484.8,564.7L483.3,564.9L481.8,565.0L480.3,565.1L478.8,565.3L477.3,565.4L475.8,565.6L474.3,565.7L472.8,565.8L471.3,566.0L469.8,566.1L468.3,566.2L466.8,566.4L465.3,566.5L463.9,566.6L462.4,566.7L460.9,566.9L459.4,567.0L457.9,567.1L456.4,567.2L454.9,567.4L453.4,567.5L451.9,567.6L450.4,567.7L448.9,567.8L447.4,567.9L445.9,568.1L444.4,568.2L442.9,568.3L441.4,568.4L439.9,568.5L438.4,568.6L436.9,568.7L435.4,568.8L433.9,568.9L432.4,569.0L430.9,569.1L429.4,569.2L427.9,569.4L426.4,569.5L424.9,569.6L423.4,569.7L421.9,569.8L420.4,569.8L418.9,569.9L417.4,570.0L415.9,570.1L414.4,570.2L412.9,570.3L411.4,570.4L409.9,570.5L408.4,570.6L406.9,570.7L405.4,570.8L403.9,570.9L402.4,570.9L400.9,571.0L399.4,571.1L397.9,571.2L396.4,571.3L394.9,571.4L393.4,571.4L391.9,571.5L390.4,571.6L388.9,571.7L387.4,571.8L385.9,571.8L384.4,571.9L382.9,572.0L381.4,572.1L379.9,572.1L378.4,572.2L376.9,572.3L375.4,572.4L373.9,572.4L372.4,572.5L370.9,572.6L369.4,572.6L367.9,572.7L366.4,572.8L364.9,572.8L363.4,572.9L361.9,573.0L360.4,573.0L358.9,573.1L357.4,573.2L355.9,573.2L354.4,573.3L352.9,573.3L351.4,573.4L349.9,573.5L348.4,573.5L346.9,573.6L345.4,573.6L343.9,573.7L342.4,573.7L340.9,573.8L339.4,573.9L337.9,573.9L336.4,574.0L334.9,574.0L333.4,574.1L331.9,574.1L330.4,574.2L328.9,574.2L327.4,574.3L325.9,574.3L324.3,574.4L322.8,574.4L321.3,574.5L319.8,574.5L318.3,574.6L316.8,574.6L315.3,574.6L313.8,574.7L312.3,574.7L310.8,574.8L309.3,574.8L307.8,574.9L306.3,574.9L304.8,574.9L303.3,575.0L301.8,575.0L300.3,575.1L298.8,575.1L297.3,575.1L295.8,575.2L294.3,575.2L292.8,575.2L291.3,575.3L289.8,575.3L288.3,575.4L286.8,575.4L285.3,575.4L283.8,575.5L282.2,575.5L280.7,575.5L279.2,575.6L277.7,575.6L276.2,575.6L274.7,575.7L273.2,575.7L271.7,575.7L270.2,575.7L268.7,575.8L267.2,575.8L265.7,575.8L264.2,575.9L262.7,575.9L261.2,575.9L259.7,575.9L258.2,576.0L256.7,576.0L255.2,576.0L253.7,576.0L252.2,576.1L250.7,576.1L249.2,576.1L247.7,576.1L246.2,576.2L244.6,576.2L243.1,576.2L241.6,576.2L240.1,576.3L238.6,576.3L237.1,576.3L235.6,576.3L234.1,576.4L232.6,576.4L231.1,576.4L229.6,576.4L228.1,576.4L226.6,576.5L225.1,576.5L223.6,576.5L222.1,576.5L220.6,576.5L219.1,576.6L217.6,576.6L216.1,576.6L214.6,576.6L213.1,576.6L211.6,576.6L210.1,576.7L208.6,576.7L207.1,576.7L205.6,576.7L204.0,576.7L202.5,576.8L201.0,576.8L199.5,576.8L198.0,576.8L196.5,576.8L195.0,576.8L193.5,576.9L192.0,576.9L190.5,576.9L189.0,576.9L187.5,576.9L186.0,576.9L184.5,576.9L183.0,577.0L181.5,577.0L180.0,577.0L178.5,577.0L177.0,577.0L175.5,577.0L174.0,577.0L172.5,577.1L171.0,577.1L169.5,577.1L168.0,577.1L166.5,577.1L165.0,577.1L163.5,577.1L162.0,577.2L160.5,577.2L159.0,577.2L157.5,577.2L156.0,577.2L154.5,577.2L153.0,577.2L151.5,577.3L150.0,577.3L148.5,577.3L147.0,577.3L145.5,577.3L143.9,577.3L142.4,577.3L140.9,577.4L139.4,577.4L137.9,577.4L136.4,577.4L134.9,577.4L133.4,577.4L131.9,577.4L130.4,577.5L128.9,577.5L127.4,577.5L125.9,577.5L124.4,577.5L122.9,577.5L121.4,577.6L119.9,577.6L118.4,577.6" stroke="#8AC926"/>
<path d="M769.7,435.8L769.3,434.4L768.9,433.0L768.4,431.6L767.8,430.2L767.2,428.9L766.5,427.5L765.8,426.2L765.0,424.9L764.2,423.6L763.4,422.3L762.5,421.1L761.6,419.9L760.6,418.7L759.7,417.5L758.7,416.3L757.7,415.1L756.7,414.0L755.6,412.9L754.6,411.8L753.5,410.7L752.4,409.6L751.4,408.6L750.3,407.5L749.2,406.5L748.0,405.5L746.9,404.5L745.8,403.6L744.6,402.6L743.5,401.7L742.3,400.7L741.1,399.8L739.9,398.9L738.7,398.0L737.5,397.2L736.3,396.3L735.1,395.5L733.9,394.6L732.6,393.8L731.4,393.0L730.1,392.2L728.8,391.5L727.6,390.7L726.3,390.0L725.0,389.2L723.7,388.5L722.4,387.8L721.1,387.1L719.8,386.4L718.4,385.7L717.1,385.0L715.8,384.4L714.4,383.7L713.1,383.1L711.7,382.5L710.3,381.9L709.0,381.3L707.6,380.7L706.2,380.1L704.8,379.5L703.4,378.9L702.0,378.4L700.6,377.8L699.2,377.3L697.8,376.7L696.4,376.2L695.0,375.7L693.6,375.2L692.1,374.7L690.7,374.2L689.3,373.7L687.9,373.2L686.4,372.7L685.0,372.2L683.5,371.8L682.1,371.3L680.6,370.8L679.2,370.4L677.7,369.9L676.3,369.5L674.8,369.1L673.4,368.6L671.9,368.2L670.5,367.8L669.0,367.4L667.5,366.9L666.1,366.5L664.6,366.1L663.2,365.7L661.7,365.3L660.2,364.9L658.8,364.5L657.3,364.1L655.8,363.7L654.4,363.3L652.9,363.0L651.5,362.6L650.0,362.2L648.5,361.8L647.1,361.5L645.6,361.1L644.1,360.7L642.7,360.4L641.2,360.0L639.7,359.6L638.2,359.3L636.8,358.9L635.3,358.6L633.8,358.3L632.4,357.9L630.9,357.6L629.4,357.2L628.0,356.9L626.5,356.6L625.0,356.3L623.5,355.9L622.1,355.6L620.6,355.3L619.1,355.0L617.7,354.7L616.2,354.4L614.7,354.1L613.2,353.8L611.8,353.4L610.3,353.2L608.8,352.9L607.3,352.6L605.8,352.3L604.4,352.0L602.9,351.7L601.4,351.4L599.9,351.1L598.5,350.9L597.0,350.6L595.5,350.3L594.0,350.0L592.5,349.8L591.1,349.5L589.6,349.3L588.1,349.0L586.6,348.7L585.1,348.5L583.7,348.2L582.2,348.0L580.7,347.7L579.2,347.5L577.7,347.2L576.3,347.0L574.8,346.8L573.3,346.5L571.8,346.3L570.3,346.1L568.8,345.8L567.4,345.6L565.9,345.4L564.4,345.2L562.9,344.9L561.4,344.7L559.9,344.5L558.4,344.3L557.0,344.1L555.5,343.9L554.0,343.7L552.5,343.5L551.0,343.3L549.5,343.1L548.0,342.9L546.5,342.7L545.1,342.5L543.6,342.3L542.1,342.1L540.6,341.9L539.1,341.7L537.6,341.5L536.1,341.3L534.6,341.2L533.1,341.0L531.6,340.8L530.2,340.6L528.7,340.5L527.2,340.3L525.7,340.1L524.2,339.9L522.7,339.8L521.2,339.6L519.7,339.4L518.2,339.3L516.7,339.1L515.2,339.0L513.7,338.8L512.2,338.7L510.8,338.5L509.3,338.4L507.8,338.2L506.3,338.1L504.8,337.9L503.3,337.8L501.8,337.6L500.3,337.5L498.8,337.3L497.3,337.2L495.8,337.1L494.3,336.9L492.8,336.8L491.3,336.7L489.8,336.5L488.3,336.4L486.8,336.3L485.3,336.1L483.8,336.0L482.3,335.9L480.8,335.8L479.3,335.6L477.8,335.5L476.3,335.4L474.8,335.3L473.4,335.2L471.9,335.0L470.4,334.9L468.9,334.8L467.4,334.7L465.9,334.6L464.4,334.5L462.9,334.4L461.4,334.3L459.9,334.2L458.4,334.0L456.9,333.9L455.4,333.8L453.9,333.7L452.4,333.6L450.9,333.5L449.4,333.4L447.9,333.3L446.4,333.2L444.9,333.1L443.4,333.0L441.9,332.9L440.4,332.8L438.9,332.8L437.4,332.7L435.9,332.6L434.4,332.5L432.9,332.4L431.4,332.3L429.9,332.2L428.4,332.1L426.9,332.0L425.3,331.9L423.8,331.9L422.3,331.8L420.8,331.7L419.3,331.6L417.8,331.5L416.3,331.4L414.8,331.4L413.3,331.3L411.8,331.2L410.3,331.1L408.8,331.0L407.3,331.0L405.8,330.9L404.3,330.8L402.8,330.7L401.3,330.6L399.8,330.6L398.3,330.5L396.8,330.4L395.3,330.3L393.8,330.3L392.3,330.2L390.8,330.1L389.3,330.0L387.8,330.0L386.3,329.9L384.8,329.8L383.3,329.7L381.8,329.7L380.3,329.6L378.8,329.5L377.3,329.4L375.8,329.4L374.3,329.3L372.8,329.2L371.3,329.2L369.8,329.1L368.2,329.0L366.7,329.0L365.2,328.9L363.7,328.8L362.2,328.7L360.7,328.7L359.2,328.6L357.7,328.5L356.2,328.5L354.7,328.4L353.2,328.3L351.7,328.3L350.2,328.2L348.7,328.1L347.2,328.1L345.7,328.0L344.2,327.9L342.7,327.9L341.2,327.8L339.7,327.8L338.2,327.7L336.7,327.6L335.2,327.6L333.7,327.5L332.2,327.4L330.7,327.4L329.2,327.3L327.7,327.3L326.2,327.2L324.6,327.1L323.1,327.1L321.6,327.0L320.1,327.0L318.6,326.9L317.1,326.8L315.6,326.8L314.1,326.7L312.6,326.7L311.1,326.6L309.6,326.6L308.1,326.5L306.6,326.5L305.1,326.4L303.6,326.3L302.1,326.3L300.6,326.2L299.1,326.2L297.6,326.1L296.1,326.1L294.6,326.0L293.1,326.0L291.6,325.9L290.1,325.9L288.6,325.8L287.0,325.8L285.5,325.7L284.0,325.7L282.5,325.6L281.0,325.6L279.5,325.5L278.0,325.5L276.5,325.4L275.0,325.4L273.5,325.3L272.0,325.3L270.5,325.3L269.0,325.2L267.5,325.2L266.0,325.1L264.5,325.1L263.0,325.0L261.5,325.0L260.0,324.9L258.5,324.9L257.0,324.9L255.5,324.8L254.0,324.8L252.4,324.7L250.9,324.7L249.4,324.7L247.9,324.6L246.4,324.6L244.9,324.6L243.4,324.5L241.9,324.5L240.4,324.4L238.9,324.4L237.4,324.4L235.9,324.3L234.4,324.3L232.9,324.3L231.4,324.2L229.9,324.2L228.4,324.2L226.9,324.1L225.4,324.1L223.9,324.1L222.4,324.0L220.9,324.0L219.4,324.0L217.8,323.9L216.3,323.9L214.8,323.9L213.3,323.9L211.8,323.8L210.3,323.8L208.8,323.8L207.3,323.8L205.8,323.7L204.3,323.7L202.8,323.7L201.3,323.7L199.8,323.6L198.3,323.6L196.8,323.6L195.3,323.6L193.8,323.5L192.3,323.5L190.8,323.5L189.3,323.5L187.8,323.5L186.3,323.4L184.8,323.4L183.2,323.4L181.7,323.4L180.2,323.4L178.7,323.3L177.2,323.3L175.7,323.3L174.2,323.3L172.7,323.3L171.2,323.3L169.7,323.3L168.2,323.2L166.7,323.2L165.2,323.2L163.7,323.2L162.2,323.2L160.7,323.2L159.2,323.2L157.7,323.2L156.2,323.2L154.7,323.1L153.2,323.1L151.7,323.1L150.2,323.1L148.7,323.1L147.1,323.1L145.6,323.1L144.1,323.1L142.6,323.1L141.1,323.1L139.6,323.1L138.1,323.1L136.6,323.1L135.1,323.1L133.6,323.1L132.1,323.1L130.6,323.1L129.1,323.1L127.6,323.1L126.1,323.1L124.6,323.1L123.1,323.1L121.6,323.1L120.1,323.1L118.6,323.1L117.1,323.1L115.6,323.1L114.1,323.1L112.6,323.1L111.1,323.1L109.6,323.1L108.0,323.1L106.5,323.2L105.0,323.2L103.5,323.2L102.0,323.2L100.5,323.2L99.0,323.2L97.5,323.2L96.0,323.2L94.5,323.2L93.0,323.3L91.5,323.3L90.0,323.3L88.5,323.3" stroke="#4E0D12" stroke-dasharray="5.297 4.997" stroke-dashoffset="5.297" stroke-width="2.5500000000000003"/>
<path d="M769.7,435.8L770.0,437.3L770.3,438.8L770.4,440.2L770.6,441.7L770.6,443.2L770.6,444.8L770.5,446.3L770.4,447.8L770.3,449.3L770.0,450.8L769.8,452.3L769.4,453.8L769.1,455.3L768.6,456.8L768.2,458.2L767.7,459.6L767.2,461.0L766.6,462.4L766.0,463.8L765.3,465.1L764.6,466.5L763.9,467.8L763.1,469.0L762.3,470.3L761.5,471.5L760.6,472.7L759.7,473.9L758.8,475.1L757.8,476.2L756.8,477.4L755.8,478.5L754.8,479.6L753.8,480.6L752.7,481.7L751.7,482.7L750.6,483.8L749.5,484.8L748.4,485.8L747.3,486.7L746.1,487.7L745.0,488.7L743.8,489.6L742.6,490.5L741.4,491.4L740.2,492.3L738.9,493.2L737.7,494.0L736.5,494.9L735.2,495.7L733.9,496.6L732.7,497.4L731.4,498.2L730.1,499.0L728.8,499.8L727.5,500.5L726.1,501.3L724.8,502.0L723.5,502.8L722.1,503.5L720.8,504.2L719.4,505.0L718.1,505.7L716.7,506.4L715.4,507.1L714.0,507.8L712.6,508.4L711.3,509.1L709.9,509.8L708.5,510.5L707.2,511.1L705.8,511.8L704.4,512.4L703.0,513.0L701.7,513.7L700.3,514.3L698.9,514.9L697.5,515.5L696.1,516.1L694.7,516.7L693.4,517.3L692.0,517.9L690.6,518.5L689.2,519.1L687.8,519.7L686.4,520.2L685.0,520.8L683.6,521.4L682.2,521.9L680.8,522.5L679.4,523.0L678.0,523.5L676.5,524.1L675.1,524.6L673.7,525.1L672.3,525.6L670.9,526.2L669.5,526.7L668.1,527.2L666.6,527.7L665.2,528.2L663.8,528.6L662.4,529.1L661.0,529.6L659.5,530.1L658.1,530.5L656.7,531.0L655.2,531.5L653.8,531.9L652.4,532.4L650.9,532.8L649.5,533.2L648.1,533.7L646.6,534.1L645.2,534.5L643.8,535.0L642.3,535.4L640.9,535.8L639.4,536.2L638.0,536.6L636.5,537.0L635.1,537.4L633.6,537.8L632.2,538.2L630.8,538.6L629.3,539.0L627.8,539.4L626.4,539.7L624.9,540.1L623.5,540.5L622.0,540.8L620.6,541.2L619.1,541.6L617.7,541.9L616.2,542.3L614.7,542.6L613.3,543.0L611.8,543.3L610.4,543.7L608.9,544.0L607.4,544.3L606.0,544.7L604.5,545.0L603.0,545.3L601.6,545.6L600.1,545.9L598.6,546.3L597.2,546.6L595.7,546.9L594.2,547.2L592.7,547.5L591.3,547.8L589.8,548.1L588.3,548.4L586.9,548.7L585.4,549.0L583.9,549.3L582.4,549.5L581.0,549.8L579.5,550.1L578.0,550.4L576.5,550.7L575.0,550.9L573.6,551.2L572.1,551.5L570.6,551.7L569.1,552.0L567.6,552.3L566.2,552.5L564.7,552.8L563.2,553.0L561.7,553.3L560.2,553.5L558.7,553.8L557.3,554.0L555.8,554.3L554.3,554.5L552.8,554.7L551.3,555.0L549.8,555.2L548.3,555.4L546.8,555.7L545.4,555.9L543.9,556.1L542.4,556.3L540.9,556.6L539.4,556.8L537.9,557.0L536.4,557.2L534.9,557.4L533.4,557.6L531.9,557.8L530.4,558.0L528.9,558.2L527.5,558.4L526.0,558.6L524.5,558.8L523.0,559.0L521.5,559.2L520.0,559.4L518.5,559.6L517.0,559.8L515.5,560.0L514.0,560.2L512.5,560.4L511.0,560.5L509.5,560.7L508.0,560.9L506.5,561.1L505.0,561.2L503.5,561.4L502.0,561.6L500.5,561.8L499.0,561.9L497.5,562.1L496.0,562.3L494.5,562.4L493.0,562.6L491.5,562.8L490.0,562.9L488.5,563.1L487.0,563.2L485.5,563.4L484.0,563.5L482.5,563.7L481.0,563.8L479.5,564.0L478.0,564.1L476.5,564.3L475.0,564.4L473.5,564.6L472.0,564.7L470.5,564.9L469.0,565.0L467.5,565.2L466.0,565.3L464.5,565.4L463.0,565.6L461.5,565.7L460.0,565.8L458.5,566.0L457.0,566.1L455.5,566.2L454.0,566.4L452.5,566.5L451.0,566.6L449.5,566.8L448.0,566.9L446.5,567.0L445.0,567.1L443.5,567.2L442.0,567.4L440.5,567.5L439.0,567.6L437.5,567.7L436.0,567.8L434.5,568.0L433.0,568.1L431.5,568.2L430.0,568.3L428.5,568.4L427.0,568.5L425.5,568.6L424.0,568.7L422.5,568.9L421.0,569.0L419.5,569.1L418.0,569.2L416.5,569.3L415.0,569.4L413.5,569.5L411.9,569.6L410.4,569.7L408.9,569.8L407.4,569.9L405.9,570.0L404.4,570.1L402.9,570.2L401.4,570.3L399.9,570.4L398.4,570.4L396.9,570.5L395.4,570.6L393.9,570.7L392.4,570.8L390.9,570.9L389.4,571.0L387.9,571.1L386.4,571.2L384.9,571.2L383.4,571.3L381.9,571.4L380.4,571.5L378.9,571.6L377.4,571.7L375.9,571.7L374.4,571.8L372.9,571.9L371.4,572.0L369.9,572.0L368.4,572.1L366.9,572.2L365.4,572.3L363.8,572.3L362.3,572.4L360.8,572.5L359.3,572.5L357.8,572.6L356.3,572.7L354.8,572.8L353.3,572.8L351.8,572.9L350.3,573.0L348.8,573.0L347.3,573.1L345.8,573.1L344.3,573.2L342.8,573.3L341.3,573.3L339.8,573.4L338.3,573.5L336.8,573.5L335.3,573.6L333.8,573.6L332.3,573.7L330.8,573.7L329.3,573.8L327.8,573.9L326.2,573.9L324.7,574.0L323.2,574.0L321.7,574.1L320.2,574.1L318.7,574.2L317.2,574.2L315.7,574.3L314.2,574.3L312.7,574.4L311.2,574.4L309.7,574.5L308.2,574.5L306.7,574.6L305.2,574.6L303.7,574.7L302.2,574.7L300.7,574.7L299.2,574.8L297.7,574.8L296.2,574.9L294.7,574.9L293.1,575.0L291.6,575.0L290.1,575.0L288.6,575.1L287.1,575.1L285.6,575.2L284.1,575.2L282.6,575.2L281.1,575.3L279.6,575.3L278.1,575.3L276.6,575.4L275.1,575.4L273.6,575.5L272.1,575.5L270.6,575.5L269.1,575.6L267.6,575.6L266.1,575.6L264.5,575.7L263.0,575.7L261.5,575.7L260.0,575.7L258.5,575.8L257.0,575.8L255.5,575.8L254.0,575.9L252.5,575.9L251.0,575.9L249.5,576.0L248.0,576.0L246.5,576.0L245.0,576.0L243.5,576.1L242.0,576.1L240.5,576.1L239.0,576.1L237.4,576.2L235.9,576.2L234.4,576.2L232.9,576.2L231.4,576.3L229.9,576.3L228.4,576.3L226.9,576.3L225.4,576.4L223.9,576.4L222.4,576.4L220.9,576.4L219.4,576.4L217.9,576.5L216.4,576.5L214.9,576.5L213.4,576.5L211.9,576.6L210.3,576.6L208.8,576.6L207.3,576.6L205.8,576.6L204.3,576.6L202.8,576.7L201.3,576.7L199.8,576.7L198.3,576.7L196.8,576.7L195.3,576.8L193.8,576.8L192.3,576.8L190.8,576.8L189.3,576.8L187.8,576.8L186.3,576.9L184.7,576.9L183.2,576.9L181.7,576.9L180.2,576.9L178.7,576.9L177.2,577.0L175.7,577.0L174.2,577.0L172.7,577.0L171.2,577.0L169.7,577.0L168.2,577.1L166.7,577.1L165.2,577.1L163.7,577.1L162.2,577.1L160.6,577.1L159.1,577.1L157.6,577.2L156.1,577.2L154.6,577.2L153.1,577.2L151.6,577.2L150.1,577.2L148.6,577.3L147.1,577.3L145.6,577.3L144.1,577.3L142.6,577.3L141.1,577.3L139.6,577.3L138.1,577.4L136.5,577.4L135.0,577.4L133.5,577.4L132.0,577.4L130.5,577.4L129.0,577.4L127.5,577.5L126.0,577.5L124.5,577.5L123.0,577.5" stroke="#4E0D12"/></g>
<g fill="none" stroke-width="2.5" stroke-linejoin="round" clip-path="url(#cTR)"><path d="M1100.0,161.7L1100.8,160.6L1102.1,159.8L1103.7,159.2L1105.5,159.0L1107.1,159.3L1108.4,159.9L1109.1,161.0L1109.2,162.4L1108.5,163.7L1107.5,164.8L1106.3,165.8L1105.0,166.6L1103.6,167.4L1102.2,168.0L1100.8,168.7L1099.4,169.3L1098.0,169.8L1096.6,170.3L1095.1,170.8L1093.7,171.2L1092.2,171.6L1090.8,171.9L1089.3,172.2L1087.8,172.4L1086.4,172.6L1084.9,172.7L1083.4,172.7L1081.9,172.7L1080.4,172.7L1078.9,172.5L1077.4,172.4L1075.9,172.1L1074.4,171.8L1072.9,171.4L1071.4,170.9L1070.0,170.2L1068.7,169.4L1067.6,168.5L1066.7,167.3L1065.9,166.0L1065.3,164.6L1065.0,163.1L1064.9,161.6L1065.0,160.1L1065.4,158.7L1065.9,157.2L1066.6,155.9L1067.4,154.5L1068.2,153.3L1069.1,152.0L1070.0,150.8L1070.9,149.7L1071.9,148.5L1073.0,147.4L1074.1,146.4L1075.1,145.3L1076.3,144.3L1077.4,143.3L1078.5,142.3L1079.7,141.3L1080.8,140.4L1082.0,139.4L1083.1,138.4L1084.3,137.5L1085.5,136.6L1086.7,135.6L1087.9,134.7L1089.1,133.8L1090.3,132.9L1091.5,132.1L1092.7,131.2L1094.0,130.3L1095.2,129.5L1096.4,128.6L1097.7,127.8L1098.9,127.0L1100.2,126.2L1101.5,125.3L1102.7,124.5L1104.0,123.8L1105.3,123.0L1106.6,122.2L1107.9,121.4L1109.2,120.7L1110.5,120.0L1111.8,119.2L1113.1,118.5L1114.4,117.8L1115.7,117.1L1117.1,116.4L1118.4,115.7L1119.7,115.0L1121.1,114.3L1122.4,113.6L1123.8,113.0L1125.1,112.3L1126.5,111.7L1127.9,111.1L1129.2,110.4L1130.6,109.8L1132.0,109.2L1133.4,108.6L1134.8,108.0L1136.1,107.4L1137.5,106.8L1138.9,106.3L1140.3,105.7L1141.7,105.1L1143.1,104.6L1144.5,104.0L1145.9,103.5L1147.4,103.0L1148.8,102.5L1150.2,101.9L1151.6,101.4L1153.0,100.9L1154.5,100.4L1155.9,100.0L1157.3,99.5L1158.8,99.0L1160.2,98.5L1161.6,98.1L1163.1,97.6L1164.5,97.2L1166.0,96.8L1167.4,96.3L1168.9,95.9L1170.3,95.5L1171.8,95.1L1173.2,94.7L1174.7,94.3L1176.2,93.9L1177.6,93.6L1179.1,93.2L1180.6,92.9L1182.0,92.5L1183.5,92.2L1185.0,91.8L1186.5,91.5L1187.9,91.2L1189.4,90.9L1190.9,90.6L1192.4,90.3L1193.9,90.0L1195.3,89.8L1196.8,89.5L1198.3,89.2L1199.8,89.0L1201.3,88.8L1202.8,88.5L1204.3,88.3L1205.8,88.1L1207.3,87.9L1208.7,87.7L1210.2,87.5L1211.7,87.3L1213.2,87.2L1214.7,87.0L1216.2,86.8L1217.7,86.7L1219.2,86.6L1220.7,86.4L1222.2,86.3L1223.7,86.2L1225.2,86.1L1226.7,86.0L1228.2,86.0L1229.7,85.9L1231.2,85.8L1232.7,85.8L1234.2,85.7L1235.7,85.7L1237.3,85.7L1238.8,85.7L1240.3,85.7L1241.8,85.7L1243.3,85.7L1244.8,85.7L1246.3,85.8L1247.8,85.8L1249.3,85.9L1250.8,85.9L1252.3,86.0L1253.8,86.1L1255.3,86.2L1256.8,86.3L1258.3,86.4L1259.8,86.5L1261.3,86.6L1262.8,86.8L1264.3,86.9L1265.8,87.1L1267.3,87.3L1268.8,87.5L1270.2,87.7L1271.7,87.9L1273.2,88.1L1274.7,88.3L1276.2,88.5L1277.7,88.8L1279.2,89.0L1280.7,89.3L1282.1,89.5L1283.6,89.8L1285.1,90.1L1286.6,90.4L1288.1,90.7L1289.5,91.0L1291.0,91.3L1292.5,91.6L1293.9,92.0L1295.4,92.3L1296.9,92.7L1298.3,93.0L1299.8,93.4L1301.3,93.8L1302.7,94.2L1304.2,94.6L1305.6,95.0L1307.1,95.4L1308.5,95.8L1310.0,96.3L1311.4,96.7L1312.9,97.2L1314.3,97.6L1315.7,98.1L1317.2,98.6L1318.6,99.1L1320.0,99.6L1321.5,100.1L1322.9,100.6L1324.3,101.1L1325.7,101.6L1327.1,102.1L1328.5,102.7L1330.0,103.2L1331.4,103.8L1332.8,104.3L1334.2,104.9L1335.6,105.5L1337.0,106.1L1338.3,106.7L1339.7,107.3L1341.1,107.9L1342.5,108.5L1343.9,109.1L1345.2,109.8L1346.6,110.4L1348.0,111.0L1349.3,111.7L1350.7,112.4L1352.0,113.0L1353.4,113.7L1354.7,114.4L1356.1,115.1L1357.4,115.8L1358.7,116.5L1360.1,117.2L1361.4,117.9L1362.7,118.6L1364.0,119.4L1365.3,120.1L1366.7,120.8L1368.0,121.6L1369.3,122.4L1370.6,123.1L1371.8,123.9L1373.1,124.7L1374.4,125.5L1375.7,126.3L1377.0,127.1L1378.2,127.9L1379.5,128.7L1380.7,129.5L1382.0,130.3L1383.3,131.1L1384.5,132.0L1385.7,132.8L1387.0,133.7L1388.2,134.5L1389.4,135.4L1390.7,136.2L1391.9,137.1L1393.1,138.0L1394.3,138.9L1395.5,139.8L1396.7,140.6L1397.9,141.5L1399.1,142.4L1400.3,143.4L1401.5,144.3L1402.7,145.2L1403.9,146.1L1405.1,147.0L1406.2,148.0L1407.4,148.9L1408.6,149.9L1409.7,150.8L1410.9,151.8L1412.1,152.7L1413.2,153.7L1414.4,154.6L1415.5,155.6L1416.6,156.6L1417.8,157.6L1418.9,158.5L1420.1,159.5L1421.2,160.5L1422.3,161.5L1423.4,162.5L1424.6,163.5L1425.7,164.5L1426.8,165.6L1427.9,166.6L1429.0,167.6L1430.1,168.6L1431.2,169.6L1432.3,170.7L1433.4,171.7L1434.5,172.8L1435.6,173.8L1436.7,174.8L1437.7,175.9L1438.8,176.9L1439.9,178.0L1441.0,179.1L1442.1,180.1L1443.1,181.2L1444.2,182.2L1445.3,183.3L1446.3,184.4L1447.4,185.5L1448.4,186.5L1449.5,187.6L1450.5,188.7L1451.6,189.8L1452.6,190.9L1453.7,192.0L1454.7,193.1L1455.8,194.2L1456.8,195.3L1457.8,196.4L1458.9,197.5L1459.9,198.6L1460.9,199.7L1462.0,200.8L1463.0,201.9L1464.0,203.0L1465.0,204.1L1466.1,205.2L1467.1,206.4L1468.1,207.5L1469.1,208.6L1470.1,209.7L1471.1,210.8L1472.1,212.0L1473.1,213.1L1474.1,214.2L1475.1,215.3L1476.1,216.5L1477.1,217.6L1478.1,218.7L1479.1,219.9L1480.1,221.0L1481.1,222.1L1482.1,223.3L1483.1,224.4L1484.1,225.6L1485.1,226.7L1486.0,227.8L1487.0,229.0L1488.0,230.1L1489.0,231.3L1490.0,232.4L1490.9,233.5L1491.9,234.7L1492.9,235.8L1493.8,237.0L1494.8,238.1L1495.8,239.3L1496.7,240.5L1497.7,241.6L1498.6,242.8L1499.6,243.9L1500.5,245.1L1501.5,246.3L1502.4,247.4L1503.4,248.6L1504.3,249.8L1505.3,250.9L1506.2,252.1L1507.1,253.3L1508.0,254.5L1509.0,255.7L1509.9,256.8L1510.8,258.0L1511.7,259.2L1512.6,260.4L1513.5,261.6L1514.4,262.8L1515.3,264.0L1516.2,265.2L1517.1,266.4L1518.0,267.6L1518.9,268.8L1519.8,270.0L1520.7,271.3L1521.5,272.5L1522.4,273.7L1523.3,274.9L1524.2,276.2L1525.0,277.4L1525.9,278.6L1526.7,279.9L1527.6,281.1L1528.4,282.4L1529.2,283.6L1530.1,284.9L1530.9,286.1L1531.7,287.4L1532.6,288.7L1533.4,289.9L1534.2,291.2L1535.0,292.5L1535.8,293.8L1536.6,295.0L1537.4,296.3L1538.2,297.6L1539.0,298.9L1539.7,300.2L1540.5,301.5L1541.3,302.8L1542.0,304.2L1542.8,305.5L1543.5,306.8" stroke="#1982C4"/>
<path d="M1066.4,159.7L1067.6,158.8L1069.2,158.5L1070.6,159.1L1071.3,160.3L1071.0,161.6L1069.9,162.8L1068.6,163.8L1067.2,164.6L1065.9,165.4L1064.5,166.1L1063.2,166.7L1061.8,167.3L1060.4,167.8L1059.0,168.3L1057.6,168.8L1056.2,169.2L1054.8,169.5L1053.4,169.9L1051.9,170.2L1050.5,170.4L1049.0,170.7L1047.5,170.8L1046.0,171.0L1044.5,171.1L1042.9,171.2L1041.3,171.2L1039.7,171.3L1038.2,171.2L1036.6,171.1L1035.1,170.9L1033.6,170.5L1032.2,170.0L1030.9,169.3L1029.7,168.5L1028.7,167.4L1027.8,166.2L1027.2,164.8L1026.8,163.4L1026.6,161.9L1026.8,160.5L1027.3,159.1L1028.1,157.7L1028.9,156.4L1029.9,155.1L1030.9,153.9L1031.9,152.7L1033.0,151.5L1034.0,150.4L1035.1,149.4L1036.2,148.3L1037.3,147.3L1038.4,146.3L1039.6,145.4L1040.7,144.4L1041.9,143.5L1043.1,142.6L1044.3,141.7L1045.4,140.8L1046.6,139.9L1047.8,139.0L1049.0,138.1L1050.2,137.2L1051.5,136.3L1052.7,135.5L1053.9,134.6L1055.1,133.7L1056.4,132.9L1057.6,132.0L1058.8,131.2L1060.1,130.4L1061.4,129.5L1062.6,128.7L1063.9,127.9L1065.1,127.1L1066.4,126.3L1067.7,125.5L1069.0,124.7L1070.3,123.9L1071.6,123.1L1072.9,122.4L1074.2,121.6L1075.5,120.8L1076.8,120.1L1078.1,119.3L1079.4,118.6L1080.8,117.9L1082.1,117.2L1083.4,116.4L1084.8,115.7L1086.1,115.0L1087.4,114.4L1088.8,113.7L1090.1,113.0L1091.5,112.3L1092.9,111.7L1094.2,111.0L1095.6,110.4L1097.0,109.7L1098.3,109.1L1099.7,108.5L1101.1,107.9L1102.5,107.3L1103.9,106.7L1105.3,106.1L1106.7,105.5L1108.1,105.0L1109.5,104.4L1110.9,103.8L1112.3,103.3L1113.7,102.8L1115.1,102.2L1116.5,101.7L1117.9,101.2L1119.3,100.7L1120.8,100.2L1122.2,99.8L1123.6,99.3L1125.0,98.8L1126.5,98.4L1127.9,97.9L1129.3,97.5L1130.8,97.1L1132.2,96.7L1133.7,96.3L1135.1,95.9L1136.6,95.5L1138.0,95.1L1139.5,94.7L1140.9,94.3L1142.4,94.0L1143.8,93.6L1145.3,93.3L1146.8,93.0L1148.2,92.6L1149.7,92.3L1151.2,92.0L1152.6,91.7L1154.1,91.4L1155.6,91.1L1157.0,90.8L1158.5,90.5L1160.0,90.2L1161.5,90.0L1163.0,89.7L1164.4,89.5L1165.9,89.2L1167.4,89.0L1168.9,88.7L1170.4,88.5L1171.9,88.3L1173.4,88.0L1174.9,87.8L1176.4,87.6L1177.9,87.4L1179.4,87.2L1180.8,87.0L1182.3,86.8L1183.8,86.6L1185.3,86.5L1186.8,86.3L1188.4,86.1L1189.9,86.0L1191.4,85.8L1192.9,85.6L1194.4,85.5L1195.9,85.3L1197.4,85.2L1198.9,85.0L1200.4,84.9L1201.9,84.8L1203.4,84.6L1204.9,84.5L1206.5,84.4L1208.0,84.3L1209.5,84.2L1211.0,84.1L1212.5,84.0L1214.0,83.9L1215.5,83.9L1217.0,83.8L1218.5,83.7L1220.1,83.7L1221.6,83.6L1223.1,83.6L1224.6,83.6L1226.1,83.6L1227.6,83.6L1229.1,83.6L1230.6,83.6L1232.1,83.7L1233.6,83.7L1235.1,83.8L1236.6,83.9L1238.1,83.9L1239.6,84.0L1241.1,84.2L1242.6,84.3L1244.1,84.4L1245.6,84.6L1247.1,84.7L1248.5,84.9L1250.0,85.1L1251.5,85.3L1253.0,85.5L1254.5,85.8L1255.9,86.0L1257.4,86.3L1258.9,86.5L1260.4,86.8L1261.8,87.1L1263.3,87.4L1264.8,87.7L1266.2,88.0L1267.7,88.3L1269.2,88.7L1270.6,89.0L1272.1,89.4L1273.5,89.8L1275.0,90.1L1276.4,90.5L1277.9,90.9L1279.3,91.3L1280.8,91.7L1282.2,92.2L1283.7,92.6L1285.1,93.0L1286.5,93.5L1288.0,94.0L1289.4,94.4L1290.9,94.9L1292.3,95.4L1293.7,95.9L1295.1,96.3L1296.6,96.8L1298.0,97.4L1299.4,97.9L1300.8,98.4L1302.3,98.9L1303.7,99.5L1305.1,100.0L1306.5,100.5L1307.9,101.1L1309.3,101.7L1310.7,102.2L1312.1,102.8L1313.5,103.4L1314.9,104.0L1316.3,104.6L1317.7,105.2L1319.1,105.8L1320.5,106.4L1321.9,107.0L1323.2,107.7L1324.6,108.3L1326.0,109.0L1327.3,109.6L1328.7,110.3L1330.1,110.9L1331.4,111.6L1332.8,112.3L1334.1,113.0L1335.5,113.7L1336.8,114.4L1338.1,115.1L1339.5,115.8L1340.8,116.5L1342.1,117.2L1343.4,118.0L1344.7,118.7L1346.1,119.5L1347.4,120.2L1348.7,121.0L1349.9,121.8L1351.2,122.5L1352.5,123.3L1353.8,124.1L1355.1,124.9L1356.3,125.7L1357.6,126.5L1358.9,127.3L1360.1,128.1L1361.4,129.0L1362.6,129.8L1363.9,130.6L1365.1,131.5L1366.3,132.3L1367.6,133.2L1368.8,134.1L1370.0,134.9L1371.2,135.8L1372.5,136.7L1373.7,137.6L1374.9,138.5L1376.1,139.4L1377.3,140.3L1378.5,141.2L1379.6,142.1L1380.8,143.0L1382.0,144.0L1383.2,144.9L1384.4,145.8L1385.5,146.8L1386.7,147.7L1387.9,148.7L1389.0,149.6L1390.2,150.6L1391.3,151.5L1392.5,152.5L1393.6,153.5L1394.7,154.5L1395.9,155.5L1397.0,156.4L1398.1,157.4L1399.3,158.4L1400.4,159.4L1401.5,160.4L1402.6,161.5L1403.7,162.5L1404.8,163.5L1405.9,164.5L1407.0,165.5L1408.1,166.6L1409.2,167.6L1410.3,168.6L1411.4,169.7L1412.5,170.7L1413.6,171.8L1414.6,172.8L1415.7,173.9L1416.8,175.0L1417.9,176.0L1418.9,177.1L1420.0,178.2L1421.0,179.2L1422.1,180.3L1423.2,181.4L1424.2,182.5L1425.2,183.6L1426.3,184.7L1427.3,185.7L1428.4,186.8L1429.4,187.9L1430.4,189.0L1431.5,190.1L1432.5,191.3L1433.5,192.4L1434.5,193.5L1435.6,194.6L1436.6,195.7L1437.6,196.8L1438.6,197.9L1439.6,199.1L1440.6,200.2L1441.6,201.3L1442.6,202.5L1443.6,203.6L1444.6,204.7L1445.6,205.9L1446.6,207.0L1447.6,208.1L1448.6,209.3L1449.6,210.4L1450.6,211.6L1451.6,212.7L1452.5,213.9L1453.5,215.0L1454.5,216.1L1455.5,217.3L1456.4,218.5L1457.4,219.6L1458.4,220.8L1459.3,221.9L1460.3,223.1L1461.3,224.2L1462.2,225.4L1463.2,226.6L1464.1,227.7L1465.1,228.9L1466.0,230.1L1467.0,231.2L1467.9,232.4L1468.9,233.6L1469.8,234.7L1470.8,235.9L1471.7,237.1L1472.7,238.3L1473.6,239.4L1474.5,240.6L1475.4,241.8L1476.4,243.0L1477.3,244.2L1478.2,245.3L1479.1,246.5L1480.1,247.7L1481.0,248.9L1481.9,250.1L1482.8,251.3L1483.7,252.5L1484.6,253.7L1485.5,254.9L1486.4,256.1L1487.4,257.3L1488.3,258.5L1489.1,259.7L1490.0,260.9L1490.9,262.1L1491.8,263.3L1492.7,264.5L1493.6,265.8L1494.5,267.0L1495.4,268.2L1496.3,269.4L1497.1,270.6L1498.0,271.9L1498.9,273.1L1499.8,274.3L1500.6,275.5L1501.5,276.8L1502.4,278.0L1503.2,279.2L1504.1,280.5L1504.9,281.7L1505.8,282.9L1506.7,284.2L1507.5,285.4L1508.4,286.7L1509.2,287.9L1510.0,289.2L1510.9,290.4L1511.7,291.7L1512.6,292.9L1513.4,294.2L1514.2,295.4L1515.1,296.7L1515.9,298.0L1516.7,299.2L1517.5,300.5L1518.4,301.8L1519.2,303.0L1520.0,304.3L1520.8,305.6L1521.6,306.9" stroke="#FF595E"/>
<path d="M1043.9,100.1L1042.5,100.7L1041.1,101.4L1039.8,102.0L1038.4,102.6L1037.0,103.3L1035.7,103.9L1034.3,104.6L1032.9,105.2L1031.6,105.9L1030.2,106.6L1028.9,107.2L1027.5,107.9L1026.2,108.6L1024.8,109.3L1023.5,110.0L1022.1,110.6L1020.8,111.3L1019.4,112.0L1018.1,112.7L1016.8,113.4L1015.4,114.2L1014.1,114.9L1012.8,115.6L1011.4,116.3L1010.1,117.0L1008.8,117.8L1007.4,118.5L1006.1,119.2L1004.8,120.0L1003.5,120.7L1002.2,121.4L1000.8,122.2L999.5,122.9L998.2,123.7L996.9,124.4L995.6,125.2L994.3,126.0L993.0,126.7L991.7,127.5L990.4,128.3L989.1,129.0L987.8,129.8L986.5,130.6L985.2,131.4L983.9,132.2L982.6,133.0L981.3,133.7L980.0,134.5L978.7,135.3L977.4,136.1L976.2,136.9L974.9,137.7L973.6,138.5L972.3,139.3L971.0,140.1L969.8,141.0L968.5,141.8L967.2,142.6L965.9,143.4L964.7,144.2L963.4,145.0L962.1,145.9L960.9,146.7L959.6,147.5L958.3,148.3L957.1,149.2L955.8,150.0L954.5,150.8L953.3,151.7L952.0,152.5L950.8,153.3L949.5,154.2L948.3,155.0L947.0,155.9L945.8,156.7L944.5,157.6L943.3,158.4L942.0,159.3L940.8,160.1L939.5,161.0L938.3,161.8L937.1,162.7L935.8,163.6L934.6,164.4L933.3,165.3L932.1,166.2L930.9,167.0L929.6,167.9L928.4,168.8L927.2,169.7L926.0,170.5L924.7,171.4L923.5,172.3L922.3,173.2L921.1,174.1L919.8,174.9L918.6,175.8L917.4,176.7L916.2,177.6L915.0,178.5L913.7,179.4L912.5,180.3L911.3,181.2L910.1,182.1L908.9,183.0L907.7,183.9L906.5,184.8L905.3,185.7L904.1,186.6L902.9,187.5L901.7,188.4L900.4,189.3L899.2,190.2L898.0,191.1L896.8,192.1L895.6,193.0L894.4,193.9L893.3,194.8L892.1,195.7L890.9,196.6L889.7,197.6L888.5,198.5L887.3,199.4L886.1,200.4L884.9,201.3L883.7,202.2L882.5,203.1L881.3,204.1L880.2,205.0L879.0,205.9L877.8,206.9L876.6,207.8L875.4,208.8L874.2,209.7L873.1,210.6L871.9,211.6L870.7,212.5L869.5,213.5L868.3,214.4L867.2,215.4L866.0,216.3L864.8,217.3L863.7,218.2L862.5,219.2L861.3,220.1L860.1,221.1L859.0,222.1L857.8,223.0L856.6,224.0L855.5,224.9L854.3,225.9L853.1,226.9L852.0,227.8L850.8,228.8L849.6,229.8L848.5,230.7L847.3,231.7L846.2,232.7L845.0,233.6L843.8,234.6L842.7,235.6L841.5,236.6L840.4,237.5L839.2,238.5L838.1,239.5L836.9,240.5L835.7,241.4L834.6,242.4L833.4,243.4L832.3,244.4L831.1,245.4L830.0,246.4L828.8,247.3L827.7,248.3L826.5,249.3L825.4,250.3L824.2,251.3L823.1,252.3L821.9,253.3L820.8,254.3L819.7,255.2" stroke="#8AC926" stroke-dasharray="5.214 4.919" stroke-dashoffset="5.214" stroke-width="2.7"/>
<path d="M1043.9,100.1L1045.3,99.5L1046.6,98.9L1048.0,98.3L1049.4,97.7L1050.8,97.1L1052.2,96.5L1053.5,95.9L1054.9,95.3L1056.3,94.7L1057.7,94.1L1059.1,93.5L1060.5,93.0L1061.9,92.4L1063.3,91.9L1064.7,91.3L1066.1,90.8L1067.5,90.2L1068.9,89.7L1070.3,89.2L1071.7,88.6L1073.2,88.1L1074.6,87.6L1076.0,87.1L1077.4,86.6L1078.8,86.1L1080.3,85.6L1081.7,85.1L1083.1,84.7L1084.6,84.2L1086.0,83.7L1087.4,83.3L1088.9,82.8L1090.3,82.4L1091.7,81.9L1093.2,81.5L1094.6,81.1L1096.1,80.6L1097.5,80.2L1099.0,79.8L1100.4,79.4L1101.9,79.0L1103.3,78.6L1104.8,78.2L1106.3,77.9L1107.7,77.5L1109.2,77.1L1110.6,76.8L1112.1,76.4L1113.6,76.1L1115.0,75.8L1116.5,75.4L1118.0,75.1L1119.5,74.8L1120.9,74.5L1122.4,74.2L1123.9,73.9L1125.4,73.6L1126.8,73.4L1128.3,73.1L1129.8,72.8L1131.3,72.6L1132.8,72.3L1134.3,72.1L1135.7,71.9L1137.2,71.6L1138.7,71.4L1140.2,71.2L1141.7,71.0L1143.2,70.8L1144.7,70.7L1146.2,70.5L1147.7,70.3L1149.2,70.2L1150.7,70.0L1152.2,69.9L1153.7,69.8L1155.2,69.6L1156.7,69.5L1158.2,69.4L1159.7,69.3L1161.2,69.2L1162.7,69.2L1164.2,69.1L1165.7,69.0L1167.2,69.0L1168.7,68.9L1170.2,68.9L1171.7,68.9L1173.2,68.9L1174.7,68.8L1176.2,68.8L1177.7,68.9L1179.2,68.9L1180.7,68.9L1182.3,68.9L1183.8,69.0L1185.3,69.0L1186.8,69.1L1188.3,69.2L1189.8,69.3L1191.3,69.3L1192.8,69.4L1194.3,69.5L1195.8,69.7L1197.4,69.8L1198.9,69.9L1200.4,70.0L1201.9,70.2L1203.4,70.3L1204.9,70.5L1206.4,70.7L1207.9,70.8L1209.4,71.0L1210.9,71.2L1212.4,71.4L1213.9,71.6L1215.4,71.8L1216.9,72.0L1218.4,72.3L1219.9,72.5L1221.4,72.7L1222.9,73.0L1224.4,73.2L1225.9,73.5L1227.4,73.8L1228.9,74.0L1230.4,74.3L1231.9,74.6L1233.4,74.9L1234.8,75.2L1236.3,75.5L1237.8,75.9L1239.3,76.2L1240.8,76.5L1242.2,76.9L1243.7,77.3L1245.2,77.6L1246.6,78.0L1248.1,78.4L1249.5,78.8L1251.0,79.2L1252.4,79.6L1253.9,80.0L1255.3,80.5L1256.8,80.9L1258.2,81.4L1259.6,81.8L1261.1,82.3L1262.5,82.8L1263.9,83.3L1265.3,83.8L1266.7,84.3L1268.1,84.9L1269.5,85.4L1270.9,86.0L1272.3,86.5L1273.7,87.1L1275.0,87.7L1276.4,88.3L1277.8,88.9L1279.1,89.5L1280.5,90.2L1281.8,90.8L1283.2,91.5L1284.5,92.1L1285.9,92.8L1287.2,93.5L1288.5,94.2L1289.8,94.9L1291.2,95.6L1292.5,96.3L1293.8,97.1L1295.1,97.8L1296.4,98.6L1297.7,99.3L1299.0,100.1L1300.3,100.9L1301.5,101.6L1302.8,102.4L1304.1,103.2L1305.3,104.0L1306.6,104.9L1307.9,105.7L1309.1,106.5L1310.4,107.3L1311.6,108.2L1312.9,109.0L1314.1,109.9L1315.3,110.8L1316.6,111.6L1317.8,112.5L1319.0,113.4L1320.2,114.3L1321.4,115.2L1322.6,116.1L1323.9,117.0L1325.1,117.9L1326.3,118.8L1327.4,119.7L1328.6,120.7L1329.8,121.6L1331.0,122.5L1332.2,123.5L1333.4,124.4L1334.6,125.4L1335.7,126.3L1336.9,127.3L1338.1,128.2L1339.2,129.2L1340.4,130.2L1341.6,131.1L1342.7,132.1L1343.9,133.1L1345.0,134.1L1346.2,135.0L1347.4,136.0L1348.5,137.0L1349.7,138.0L1350.8,139.0L1352.0,140.0L1353.1,141.0L1354.3,141.9L1355.4,142.9L1356.5,143.9L1357.7,144.9L1358.8,145.9L1360.0,146.9L1361.1,147.9L1362.3,148.9L1363.4,149.9L1364.5,150.9L1365.7,151.8L1366.8,152.8L1368.0,153.8L1369.1,154.8L1370.2,155.8L1371.4,156.8L1372.5,157.8L1373.6,158.8L1374.7,159.8L1375.9,160.8L1377.0,161.8L1378.1,162.8L1379.2,163.9L1380.3,164.9L1381.4,165.9L1382.5,166.9L1383.6,167.9L1384.7,169.0L1385.8,170.0L1386.9,171.0L1388.0,172.1L1389.1,173.1L1390.1,174.2L1391.2,175.3L1392.3,176.3L1393.3,177.4L1394.4,178.5L1395.4,179.5L1396.4,180.6L1397.5,181.7L1398.5,182.8L1399.5,183.9L1400.5,185.0L1401.5,186.2L1402.5,187.3L1403.5,188.4L1404.5,189.5L1405.5,190.7L1406.4,191.8L1407.4,193.0L1408.4,194.1L1409.3,195.3L1410.3,196.4L1411.3,197.6L1412.2,198.8L1413.1,200.0L1414.1,201.1L1415.0,202.3L1415.9,203.5L1416.9,204.7L1417.8,205.9L1418.7,207.1L1419.6,208.3L1420.6,209.5L1421.5,210.7L1422.4,211.9L1423.3,213.1L1424.2,214.3L1425.1,215.5L1426.0,216.7L1426.9,217.9L1427.8,219.1L1428.7,220.4L1429.6,221.6L1430.5,222.8L1431.3,224.0L1432.2,225.2L1433.1,226.5L1434.0,227.7L1434.9,228.9L1435.7,230.1L1436.6,231.4L1437.5,232.6L1438.4,233.8L1439.2,235.1L1440.1,236.3L1441.0,237.5L1441.9,238.8L1442.7,240.0L1443.6,241.3L1444.4,242.5L1445.3,243.7L1446.2,245.0L1447.0,246.2L1447.9,247.5L1448.8,248.7L1449.6,249.9L1450.5,251.2L1451.3,252.4L1452.2,253.7L1453.0,254.9L1453.9,256.1L1454.8,257.4L1455.6,258.6L1456.5,259.9L1457.3,261.1L1458.2,262.4L1459.0,263.6L1459.9,264.9L1460.8,266.1L1461.6,267.3L1462.5,268.6L1463.3,269.8L1464.2,271.1L1465.0,272.3L1465.9,273.6L1466.7,274.8L1467.6,276.0L1468.5,277.3L1469.3,278.5L1470.2,279.7L1471.0,281.0L1471.9,282.2L1472.8,283.5L1473.6,284.7L1474.5,285.9L1475.4,287.2L1476.2,288.4L1477.1,289.6L1478.0,290.9L1478.8,292.1L1479.7,293.3L1480.6,294.5L1481.5,295.8L1482.3,297.0L1483.2,298.2L1484.1,299.4L1485.0,300.6L1485.8,301.9L1486.7,303.1L1487.6,304.3L1488.5,305.5L1489.4,306.7" stroke="#8AC926"/>
<path d="M1152.8,46.4L1151.3,46.4L1149.8,46.5L1148.3,46.6L1146.8,46.7L1145.2,46.8L1143.7,46.9L1142.2,47.0L1140.7,47.1L1139.2,47.2L1137.7,47.4L1136.2,47.5L1134.7,47.7L1133.2,47.9L1131.7,48.1L1130.2,48.3L1128.7,48.5L1127.2,48.7L1125.8,48.9L1124.3,49.1L1122.8,49.4L1121.3,49.6L1119.8,49.9L1118.4,50.2L1116.9,50.5L1115.4,50.8L1114.0,51.1L1112.5,51.4L1111.0,51.7L1109.6,52.0L1108.1,52.3L1106.7,52.7L1105.2,53.0L1103.8,53.4L1102.3,53.8L1100.9,54.1L1099.4,54.5L1098.0,54.9L1096.5,55.3L1095.1,55.7L1093.7,56.2L1092.2,56.6L1090.8,57.0L1089.4,57.5L1087.9,57.9L1086.5,58.4L1085.1,58.8L1083.7,59.3L1082.3,59.8L1080.8,60.3L1079.4,60.8L1078.0,61.3L1076.6,61.8L1075.2,62.3L1073.8,62.8L1072.4,63.4L1071.0,63.9L1069.6,64.5L1068.2,65.0L1066.8,65.6L1065.4,66.1L1064.0,66.7L1062.6,67.3L1061.3,67.9L1059.9,68.5L1058.5,69.1L1057.1,69.7L1055.7,70.3L1054.4,70.9L1053.0,71.6L1051.6,72.2L1050.3,72.8L1048.9,73.5L1047.5,74.1L1046.2,74.8L1044.8,75.4L1043.5,76.1L1042.1,76.8L1040.8,77.4L1039.4,78.1L1038.1,78.8L1036.7,79.5L1035.4,80.2L1034.0,80.9L1032.7,81.6L1031.4,82.3L1030.0,83.1L1028.7,83.8L1027.4,84.5L1026.0,85.3L1024.7,86.0L1023.4,86.7L1022.1,87.5L1020.8,88.2L1019.4,89.0L1018.1,89.8L1016.8,90.5L1015.5,91.3L1014.2,92.1L1012.9,92.9L1011.6,93.6L1010.3,94.4L1009.0,95.2L1007.7,96.0L1006.4,96.8L1005.1,97.6L1003.8,98.4L1002.5,99.2L1001.2,100.1L1000.0,100.9L998.7,101.7L997.4,102.5L996.1,103.4L994.8,104.2L993.6,105.0L992.3,105.9L991.0,106.7L989.8,107.5L988.5,108.4L987.2,109.2L986.0,110.1L984.7,110.9L983.5,111.8L982.2,112.7L981.0,113.5L979.7,114.4L978.5,115.3L977.2,116.1L976.0,117.0L974.7,117.9L973.5,118.7L972.3,119.6L971.0,120.5L969.8,121.4L968.6,122.3L967.4,123.2L966.1,124.0L964.9,124.9L963.7,125.8L962.5,126.7L961.2,127.6L960.0,128.5L958.8,129.4L957.6,130.3L956.4,131.2L955.2,132.1L954.0,133.0L952.8,133.9L951.6,134.8L950.4,135.7L949.2,136.7L948.0,137.6L946.8,138.5L945.6,139.4L944.4,140.3L943.2,141.2L942.0,142.2L940.8,143.1L939.7,144.0L938.5,144.9L937.3,145.9L936.1,146.8L934.9,147.7L933.8,148.7L932.6,149.6L931.4,150.5L930.2,151.5L929.1,152.4L927.9,153.3L926.7,154.3L925.6,155.2L924.4,156.2L923.2,157.1L922.1,158.1L920.9,159.0L919.8,160.0L918.6,160.9L917.4,161.9L916.3,162.8L915.1,163.8L914.0,164.7L912.8,165.7L911.7,166.7L910.5,167.6L909.4,168.6L908.2,169.6L907.1,170.5L905.9,171.5L904.8,172.5L903.7,173.4L902.5,174.4L901.4,175.4L900.2,176.3L899.1,177.3L898.0,178.3L896.8,179.3L895.7,180.3L894.5,181.2L893.4,182.2L892.3,183.2L891.1,184.2L890.0,185.2L888.9,186.2L887.7,187.1L886.6,188.1L885.5,189.1L884.4,190.1L883.2,191.1L882.1,192.1L881.0,193.1L879.8,194.1L878.7,195.1L877.6,196.1L876.5,197.1L875.3,198.1L874.2,199.1L873.1,200.1L872.0,201.1L870.8,202.1L869.7,203.1L868.6,204.1L867.5,205.1L866.4,206.1L865.2,207.2L864.1,208.2L863.0,209.2L861.9,210.2L860.8,211.2L859.6,212.2L858.5,213.2L857.4,214.3L856.3,215.3L855.2,216.3L854.0,217.3L852.9,218.3L851.8,219.4L850.7,220.4L849.6,221.4L848.4,222.4L847.3,223.5L846.2,224.5L845.1,225.5L844.0,226.5L842.9,227.6L841.7,228.6L840.6,229.6L839.5,230.7L838.4,231.7L837.3,232.7L836.1,233.8L835.0,234.8L833.9,235.8L832.8,236.9L831.7,237.9L830.5,238.9L829.4,240.0L828.3,241.0L827.2,242.1L826.0,243.1L824.9,244.1L823.8,245.2L822.7,246.2L821.6,247.3L820.4,248.3L819.3,249.4" stroke="#4E0D12" stroke-dasharray="5.259 4.962" stroke-dashoffset="5.259" stroke-width="2.7"/>
<path d="M1152.8,46.4L1154.3,46.3L1155.8,46.3L1157.4,46.3L1158.9,46.2L1160.4,46.2L1161.9,46.2L1163.5,46.3L1165.0,46.3L1166.5,46.3L1168.0,46.4L1169.5,46.4L1171.1,46.5L1172.6,46.6L1174.1,46.7L1175.6,46.8L1177.1,46.9L1178.7,47.0L1180.2,47.1L1181.7,47.3L1183.2,47.4L1184.7,47.6L1186.2,47.8L1187.7,47.9L1189.3,48.1L1190.8,48.3L1192.3,48.5L1193.8,48.8L1195.3,49.0L1196.8,49.3L1198.3,49.5L1199.8,49.8L1201.2,50.1L1202.7,50.4L1204.2,50.7L1205.7,51.0L1207.2,51.3L1208.7,51.6L1210.1,52.0L1211.6,52.3L1213.1,52.7L1214.5,53.1L1216.0,53.5L1217.5,53.9L1218.9,54.3L1220.4,54.7L1221.8,55.1L1223.2,55.6L1224.7,56.0L1226.1,56.5L1227.5,57.0L1229.0,57.5L1230.4,58.0L1231.8,58.5L1233.2,59.0L1234.6,59.5L1236.0,60.0L1237.4,60.6L1238.8,61.2L1240.2,61.7L1241.6,62.3L1243.0,62.9L1244.3,63.5L1245.7,64.1L1247.1,64.7L1248.4,65.3L1249.8,66.0L1251.2,66.6L1252.5,67.3L1253.9,67.9L1255.2,68.6L1256.6,69.3L1257.9,70.0L1259.2,70.7L1260.5,71.4L1261.9,72.1L1263.2,72.8L1264.5,73.5L1265.8,74.3L1267.1,75.0L1268.4,75.8L1269.7,76.5L1271.0,77.3L1272.3,78.1L1273.6,78.9L1274.9,79.7L1276.2,80.5L1277.4,81.3L1278.7,82.1L1280.0,82.9L1281.2,83.8L1282.5,84.6L1283.8,85.4L1285.0,86.3L1286.3,87.1L1287.5,88.0L1288.7,88.9L1290.0,89.8L1291.2,90.6L1292.4,91.5L1293.6,92.4L1294.9,93.3L1296.1,94.2L1297.3,95.1L1298.5,96.1L1299.7,97.0L1300.9,97.9L1302.1,98.9L1303.3,99.8L1304.4,100.8L1305.6,101.7L1306.8,102.7L1308.0,103.6L1309.1,104.6L1310.3,105.6L1311.5,106.5L1312.6,107.5L1313.8,108.5L1314.9,109.5L1316.1,110.5L1317.2,111.5L1318.3,112.5L1319.5,113.5L1320.6,114.5L1321.7,115.6L1322.8,116.6L1323.9,117.6L1325.1,118.6L1326.2,119.7L1327.3,120.7L1328.4,121.7L1329.5,122.8L1330.5,123.8L1331.6,124.9L1332.7,125.9L1333.8,127.0L1334.9,128.1L1335.9,129.1L1337.0,130.2L1338.1,131.3L1339.1,132.4L1340.2,133.4L1341.2,134.5L1342.3,135.6L1343.3,136.7L1344.4,137.8L1345.4,138.9L1346.5,140.0L1347.5,141.1L1348.5,142.2L1349.6,143.3L1350.6,144.4L1351.6,145.5L1352.6,146.7L1353.6,147.8L1354.6,148.9L1355.6,150.0L1356.6,151.2L1357.6,152.3L1358.6,153.4L1359.6,154.6L1360.6,155.7L1361.6,156.8L1362.6,158.0L1363.6,159.1L1364.6,160.3L1365.5,161.4L1366.5,162.6L1367.5,163.8L1368.5,164.9L1369.4,166.1L1370.4,167.2L1371.3,168.4L1372.3,169.6L1373.3,170.7L1374.2,171.9L1375.2,173.1L1376.1,174.3L1377.0,175.4L1378.0,176.6L1378.9,177.8L1379.9,179.0L1380.8,180.2L1381.7,181.4L1382.7,182.6L1383.6,183.7L1384.5,184.9L1385.4,186.1L1386.4,187.3L1387.3,188.5L1388.2,189.7L1389.1,190.9L1390.0,192.1L1390.9,193.3L1391.8,194.5L1392.7,195.8L1393.6,197.0L1394.5,198.2L1395.4,199.4L1396.3,200.6L1397.2,201.8L1398.1,203.0L1399.0,204.3L1399.9,205.5L1400.7,206.7L1401.6,207.9L1402.5,209.2L1403.4,210.4L1404.2,211.6L1405.1,212.9L1406.0,214.1L1406.8,215.3L1407.7,216.6L1408.5,217.8L1409.4,219.1L1410.2,220.3L1411.1,221.6L1411.9,222.8L1412.8,224.1L1413.6,225.3L1414.5,226.6L1415.3,227.8L1416.1,229.1L1417.0,230.4L1417.8,231.6L1418.6,232.9L1419.4,234.2L1420.2,235.4L1421.1,236.7L1421.9,238.0L1422.7,239.2L1423.5,240.5L1424.3,241.8L1425.1,243.1L1425.9,244.3L1426.7,245.6L1427.5,246.9L1428.3,248.2L1429.1,249.5L1429.9,250.8L1430.7,252.0L1431.5,253.3L1432.2,254.6L1433.0,255.9L1433.8,257.2L1434.6,258.5L1435.4,259.8L1436.1,261.1L1436.9,262.4L1437.7,263.7L1438.4,265.0L1439.2,266.3L1440.0,267.6L1440.7,268.9L1441.5,270.2L1442.2,271.5L1443.0,272.8L1443.7,274.2L1444.5,275.5L1445.2,276.8L1446.0,278.1L1446.7,279.4L1447.5,280.7L1448.2,282.1L1448.9,283.4L1449.7,284.7L1450.4,286.0L1451.2,287.3L1451.9,288.7L1452.6,290.0L1453.3,291.3L1454.1,292.6L1454.8,294.0L1455.5,295.3L1456.2,296.6L1456.9,298.0L1457.7,299.3L1458.4,300.6L1459.1,302.0L1459.8,303.3L1460.5,304.6L1461.2,306.0" stroke="#4E0D12"/></g>
<g fill="none" stroke-width="2.5" stroke-linejoin="round" clip-path="url(#cBR)"><path d="M1100.0,470.0L1101.3,469.3L1102.8,469.0L1104.4,468.9L1106.1,469.3L1107.5,469.9L1108.6,471.0L1109.0,472.2L1108.5,473.3L1107.2,474.2L1105.7,474.8L1104.2,475.2L1102.6,475.4L1101.0,475.4L1099.4,475.3L1097.9,475.2L1096.4,475.0L1094.9,474.8L1093.4,474.6L1091.9,474.4L1090.5,474.1L1089.0,473.8L1087.6,473.4L1086.2,473.1L1084.8,472.7L1083.4,472.2L1081.9,471.8L1080.5,471.3L1079.1,470.8L1077.7,470.2L1076.2,469.7L1074.8,469.0L1073.4,468.3L1072.1,467.6L1070.8,466.8L1069.6,465.9L1068.5,464.9L1067.4,463.8L1066.5,462.6L1065.7,461.2L1065.2,459.8L1065.0,458.4L1065.4,456.9L1066.1,455.6L1067.0,454.4L1068.2,453.4L1069.4,452.5L1070.8,451.8L1072.2,451.1L1073.6,450.5L1075.0,449.9L1076.4,449.4L1077.9,448.9L1079.3,448.4L1080.8,447.9L1082.2,447.4L1083.7,447.0L1085.1,446.6L1086.6,446.3L1088.0,445.9L1089.5,445.6L1091.0,445.3L1092.4,445.0L1093.9,444.8L1095.4,444.5L1096.9,444.3L1098.3,444.1L1099.8,444.0L1101.3,443.8L1102.8,443.7L1104.3,443.5L1105.8,443.5L1107.3,443.4L1108.8,443.3L1110.3,443.3L1111.7,443.2L1113.2,443.2L1114.7,443.2L1116.2,443.2L1117.7,443.2L1119.2,443.3L1120.7,443.3L1122.3,443.4L1123.8,443.4L1125.3,443.5L1126.8,443.6L1128.3,443.7L1129.8,443.8L1131.3,443.9L1132.8,444.1L1134.3,444.2L1135.8,444.3L1137.3,444.5L1138.8,444.6L1140.3,444.8L1141.8,445.0L1143.3,445.1L1144.8,445.3L1146.3,445.5L1147.9,445.6L1149.4,445.8L1150.9,446.0L1152.4,446.2L1153.9,446.4L1155.4,446.6L1156.9,446.7L1158.4,446.9L1159.9,447.1L1161.4,447.3L1162.9,447.5L1164.4,447.8L1165.8,448.0L1167.3,448.2L1168.8,448.4L1170.3,448.6L1171.8,448.8L1173.3,449.1L1174.8,449.3L1176.3,449.5L1177.8,449.7L1179.3,450.0L1180.8,450.2L1182.3,450.5L1183.8,450.7L1185.2,450.9L1186.7,451.2L1188.2,451.4L1189.7,451.7L1191.2,451.9L1192.7,452.2L1194.2,452.5L1195.6,452.7L1197.1,453.0L1198.6,453.3L1200.1,453.5L1201.6,453.8L1203.1,454.1L1204.5,454.4L1206.0,454.7L1207.5,454.9L1209.0,455.2L1210.5,455.5L1211.9,455.8L1213.4,456.1L1214.9,456.4L1216.4,456.7L1217.8,457.0L1219.3,457.3L1220.8,457.6L1222.3,457.9L1223.7,458.3L1225.2,458.6L1226.7,458.9L1228.1,459.2L1229.6,459.5L1231.1,459.9L1232.6,460.2L1234.0,460.5L1235.5,460.9L1237.0,461.2L1238.4,461.5L1239.9,461.9L1241.4,462.2L1242.8,462.6L1244.3,462.9L1245.7,463.3L1247.2,463.6L1248.7,464.0L1250.1,464.3L1251.6,464.7L1253.1,465.0L1254.5,465.4L1256.0,465.8L1257.4,466.1L1258.9,466.5L1260.4,466.9L1261.8,467.3L1263.3,467.6L1264.7,468.0L1266.2,468.4L1267.6,468.8L1269.1,469.2L1270.5,469.6L1272.0,469.9L1273.4,470.3L1274.9,470.7L1276.3,471.1L1277.8,471.5L1279.3,471.9L1280.7,472.3L1282.1,472.7L1283.6,473.2L1285.0,473.6L1286.5,474.0L1287.9,474.4L1289.4,474.8L1290.8,475.2L1292.3,475.6L1293.7,476.1L1295.2,476.5L1296.6,476.9L1298.0,477.4L1299.5,477.8L1300.9,478.2L1302.4,478.7L1303.8,479.1L1305.3,479.5L1306.7,480.0L1308.1,480.4L1309.6,480.9L1311.0,481.3L1312.4,481.8L1313.9,482.2L1315.3,482.7L1316.7,483.1L1318.2,483.6L1319.6,484.0L1321.1,484.5L1322.5,485.0L1323.9,485.4L1325.3,485.9L1326.8,486.4L1328.2,486.8L1329.6,487.3L1331.1,487.8L1332.5,488.3L1333.9,488.7L1335.4,489.2L1336.8,489.7L1338.2,490.2L1339.6,490.7L1341.1,491.2L1342.5,491.7L1343.9,492.1L1345.3,492.6L1346.8,493.1L1348.2,493.6L1349.6,494.1L1351.0,494.6L1352.4,495.1L1353.9,495.6L1355.3,496.1L1356.7,496.6L1358.1,497.1L1359.5,497.7L1361.0,498.2L1362.4,498.7L1363.8,499.2L1365.2,499.7L1366.6,500.2L1368.0,500.8L1369.4,501.3L1370.9,501.8L1372.3,502.3L1373.7,502.9L1375.1,503.4L1376.5,503.9L1377.9,504.4L1379.3,505.0L1380.7,505.5L1382.2,506.0L1383.6,506.6L1385.0,507.1L1386.4,507.7L1387.8,508.2L1389.2,508.8L1390.6,509.3L1392.0,509.8L1393.4,510.4L1394.8,510.9L1396.2,511.5L1397.6,512.0L1399.0,512.6L1400.4,513.2L1401.8,513.7L1403.2,514.3L1404.6,514.8L1406.0,515.4L1407.4,516.0L1408.8,516.5L1410.2,517.1L1411.6,517.6L1413.0,518.2L1414.4,518.8L1415.8,519.4L1417.2,519.9L1418.6,520.5L1420.0,521.1L1421.4,521.7L1422.8,522.2L1424.2,522.8L1425.6,523.4L1427.0,524.0L1428.3,524.6L1429.7,525.1L1431.1,525.7L1432.5,526.3L1433.9,526.9L1435.3,527.5L1436.7,528.1L1438.1,528.7L1439.5,529.3L1440.8,529.9L1442.2,530.4L1443.6,531.0L1445.0,531.6L1446.4,532.2L1447.8,532.8L1449.2,533.4L1450.5,534.0L1451.9,534.6L1453.3,535.2L1454.7,535.9L1456.1,536.5L1457.4,537.1L1458.8,537.7L1460.2,538.3L1461.6,538.9L1463.0,539.5L1464.3,540.1L1465.7,540.7L1467.1,541.3L1468.5,542.0L1469.8,542.6L1471.2,543.2L1472.6,543.8L1474.0,544.4L1475.3,545.1L1476.7,545.7L1478.1,546.3L1479.5,546.9L1480.8,547.6L1482.2,548.2L1483.6,548.8L1484.9,549.4L1486.3,550.1L1487.7,550.7L1489.0,551.3L1490.4,551.9L1491.8,552.6L1493.1,553.2L1494.5,553.8L1495.9,554.5L1497.2,555.1L1498.6,555.8L1500.0,556.4L1501.3,557.0L1502.7,557.7L1504.1,558.3L1505.4,558.9L1506.8,559.6L1508.1,560.2L1509.5,560.9L1510.9,561.5L1512.2,562.2L1513.6,562.8L1514.9,563.4L1516.3,564.1L1517.6,564.7L1519.0,565.4L1520.4,566.0L1521.7,566.7L1523.1,567.3L1524.4,568.0L1525.8,568.6L1527.1,569.3L1528.5,569.9L1529.8,570.6L1531.2,571.2L1532.5,571.9L1533.9,572.6L1535.2,573.2L1536.6,573.9L1537.9,574.5L1539.3,575.2L1540.6,575.8L1542.0,576.5L1543.3,577.2" stroke="#1982C4"/>
<path d="M1063.5,455.1L1064.7,455.2L1066.3,455.4L1068.1,455.7L1069.7,456.3L1070.8,457.2L1071.0,458.4L1070.3,459.4L1068.9,460.3L1067.4,460.8L1065.8,461.0L1064.3,461.0L1062.7,460.9L1061.2,460.7L1059.7,460.5L1058.2,460.3L1056.8,460.0L1055.3,459.7L1053.9,459.3L1052.4,459.0L1051.0,458.6L1049.6,458.1L1048.1,457.7L1046.7,457.2L1045.3,456.7L1043.9,456.2L1042.5,455.7L1041.0,455.1L1039.6,454.5L1038.3,453.9L1036.9,453.2L1035.6,452.5L1034.3,451.7L1033.1,450.8L1031.9,449.9L1030.8,448.8L1029.7,447.7L1028.7,446.5L1027.8,445.1L1027.1,443.7L1026.7,442.3L1026.7,440.9L1027.2,439.6L1028.0,438.4L1029.1,437.2L1030.3,436.2L1031.6,435.2L1032.9,434.4L1034.2,433.7L1035.5,433.0L1036.9,432.4L1038.3,431.9L1039.8,431.5L1041.2,431.1L1042.7,430.8L1044.2,430.5L1045.7,430.3L1047.2,430.1L1048.7,429.9L1050.2,429.7L1051.7,429.6L1053.2,429.5L1054.7,429.3L1056.3,429.2L1057.8,429.1L1059.3,429.1L1060.8,429.0L1062.3,429.0L1063.8,428.9L1065.3,428.9L1066.8,428.9L1068.3,428.9L1069.8,428.9L1071.3,428.9L1072.8,428.9L1074.3,429.0L1075.8,429.0L1077.4,429.1L1078.9,429.1L1080.4,429.2L1081.9,429.3L1083.4,429.4L1084.9,429.5L1086.4,429.6L1087.9,429.7L1089.4,429.9L1090.9,430.0L1092.4,430.2L1093.9,430.3L1095.4,430.5L1096.9,430.6L1098.4,430.8L1099.9,431.0L1101.4,431.2L1102.8,431.4L1104.3,431.6L1105.8,431.8L1107.3,432.0L1108.8,432.2L1110.3,432.4L1111.8,432.6L1113.3,432.9L1114.8,433.1L1116.3,433.3L1117.8,433.5L1119.3,433.8L1120.8,434.0L1122.2,434.3L1123.7,434.5L1125.2,434.8L1126.7,435.0L1128.2,435.3L1129.7,435.5L1131.2,435.8L1132.7,436.0L1134.1,436.3L1135.6,436.6L1137.1,436.8L1138.6,437.1L1140.1,437.4L1141.6,437.6L1143.0,437.9L1144.5,438.2L1146.0,438.5L1147.5,438.8L1149.0,439.0L1150.4,439.3L1151.9,439.6L1153.4,439.9L1154.9,440.2L1156.3,440.5L1157.8,440.8L1159.3,441.1L1160.8,441.4L1162.2,441.7L1163.7,442.0L1165.2,442.3L1166.7,442.7L1168.1,443.0L1169.6,443.3L1171.1,443.6L1172.6,443.9L1174.0,444.3L1175.5,444.6L1177.0,444.9L1178.4,445.2L1179.9,445.6L1181.4,445.9L1182.8,446.3L1184.3,446.6L1185.8,446.9L1187.2,447.3L1188.7,447.6L1190.2,448.0L1191.6,448.3L1193.1,448.7L1194.5,449.0L1196.0,449.4L1197.5,449.8L1198.9,450.1L1200.4,450.5L1201.8,450.9L1203.3,451.2L1204.8,451.6L1206.2,452.0L1207.7,452.3L1209.1,452.7L1210.6,453.1L1212.0,453.5L1213.5,453.9L1215.0,454.2L1216.4,454.6L1217.9,455.0L1219.3,455.4L1220.8,455.8L1222.2,456.2L1223.7,456.6L1225.1,457.0L1226.6,457.4L1228.0,457.8L1229.5,458.2L1230.9,458.6L1232.4,459.0L1233.8,459.4L1235.3,459.9L1236.7,460.3L1238.2,460.7L1239.6,461.1L1241.1,461.5L1242.5,462.0L1243.9,462.4L1245.4,462.8L1246.8,463.2L1248.3,463.7L1249.7,464.1L1251.1,464.5L1252.6,465.0L1254.0,465.4L1255.5,465.9L1256.9,466.3L1258.3,466.7L1259.8,467.2L1261.2,467.6L1262.7,468.1L1264.1,468.5L1265.5,469.0L1267.0,469.4L1268.4,469.9L1269.8,470.4L1271.3,470.8L1272.7,471.3L1274.1,471.7L1275.6,472.2L1277.0,472.7L1278.4,473.1L1279.9,473.6L1281.3,474.1L1282.7,474.6L1284.1,475.0L1285.6,475.5L1287.0,476.0L1288.4,476.5L1289.9,477.0L1291.3,477.5L1292.7,477.9L1294.1,478.4L1295.6,478.9L1297.0,479.4L1298.4,479.9L1299.8,480.4L1301.3,480.9L1302.7,481.4L1304.1,481.9L1305.5,482.4L1306.9,482.9L1308.4,483.4L1309.8,483.9L1311.2,484.4L1312.6,484.9L1314.0,485.4L1315.4,486.0L1316.9,486.5L1318.3,487.0L1319.7,487.5L1321.1,488.0L1322.5,488.5L1323.9,489.1L1325.4,489.6L1326.8,490.1L1328.2,490.6L1329.6,491.2L1331.0,491.7L1332.4,492.2L1333.8,492.8L1335.2,493.3L1336.6,493.8L1338.1,494.4L1339.5,494.9L1340.9,495.5L1342.3,496.0L1343.7,496.5L1345.1,497.1L1346.5,497.6L1347.9,498.2L1349.3,498.7L1350.7,499.3L1352.1,499.8L1353.5,500.4L1354.9,500.9L1356.3,501.5L1357.7,502.1L1359.1,502.6L1360.5,503.2L1361.9,503.7L1363.3,504.3L1364.7,504.9L1366.1,505.4L1367.5,506.0L1368.9,506.6L1370.3,507.1L1371.7,507.7L1373.1,508.3L1374.5,508.9L1375.9,509.4L1377.3,510.0L1378.7,510.6L1380.1,511.2L1381.5,511.7L1382.8,512.3L1384.2,512.9L1385.6,513.5L1387.0,514.1L1388.4,514.7L1389.8,515.2L1391.2,515.8L1392.6,516.4L1394.0,517.0L1395.3,517.6L1396.7,518.2L1398.1,518.8L1399.5,519.4L1400.9,520.0L1402.3,520.6L1403.7,521.2L1405.0,521.8L1406.4,522.4L1407.8,523.0L1409.2,523.6L1410.6,524.2L1412.0,524.8L1413.3,525.4L1414.7,526.0L1416.1,526.6L1417.5,527.3L1418.8,527.9L1420.2,528.5L1421.6,529.1L1423.0,529.7L1424.4,530.3L1425.7,530.9L1427.1,531.6L1428.5,532.2L1429.9,532.8L1431.2,533.4L1432.6,534.0L1434.0,534.7L1435.3,535.3L1436.7,535.9L1438.1,536.5L1439.5,537.2L1440.8,537.8L1442.2,538.4L1443.6,539.1L1444.9,539.7L1446.3,540.3L1447.7,541.0L1449.0,541.6L1450.4,542.2L1451.8,542.9L1453.1,543.5L1454.5,544.1L1455.9,544.8L1457.2,545.4L1458.6,546.1L1460.0,546.7L1461.3,547.3L1462.7,548.0L1464.0,548.6L1465.4,549.3L1466.8,549.9L1468.1,550.6L1469.5,551.2L1470.8,551.9L1472.2,552.5L1473.5,553.2L1474.9,553.8L1476.3,554.5L1477.6,555.1L1479.0,555.8L1480.3,556.4L1481.7,557.1L1483.0,557.7L1484.4,558.4L1485.7,559.0L1487.1,559.7L1488.4,560.4L1489.8,561.0L1491.1,561.7L1492.5,562.3L1493.8,563.0L1495.2,563.7L1496.5,564.3L1497.9,565.0L1499.2,565.7L1500.6,566.3L1501.9,567.0L1503.3,567.7L1504.6,568.3L1506.0,569.0L1507.3,569.7L1508.7,570.3L1510.0,571.0L1511.3,571.7L1512.7,572.3L1514.0,573.0L1515.4,573.7L1516.7,574.4L1518.1,575.0L1519.4,575.7L1520.7,576.4L1522.1,577.1" stroke="#FF595E"/>
<path d="M1045.8,395.0L1044.3,394.6L1042.8,394.3L1041.4,393.9L1039.9,393.5L1038.4,393.1L1036.9,392.8L1035.5,392.4L1034.0,392.0L1032.5,391.7L1031.0,391.3L1029.6,390.9L1028.1,390.6L1026.6,390.2L1025.2,389.8L1023.7,389.5L1022.2,389.1L1020.7,388.7L1019.2,388.4L1017.8,388.0L1016.3,387.7L1014.8,387.3L1013.3,386.9L1011.9,386.6L1010.4,386.2L1008.9,385.9L1007.4,385.5L1006.0,385.2L1004.5,384.8L1003.0,384.5L1001.5,384.1L1000.0,383.8L998.6,383.5L997.1,383.1L995.6,382.8L994.1,382.4L992.6,382.1L991.1,381.8L989.7,381.4L988.2,381.1L986.7,380.7L985.2,380.4L983.7,380.1L982.3,379.7L980.8,379.4L979.3,379.1L977.8,378.8L976.3,378.4L974.8,378.1L973.4,377.8L971.9,377.4L970.4,377.1L968.9,376.8L967.4,376.5L965.9,376.2L964.4,375.8L963.0,375.5L961.5,375.2L960.0,374.9L958.5,374.6L957.0,374.3L955.5,373.9L954.0,373.6L952.5,373.3L951.1,373.0L949.6,372.7L948.1,372.4L946.6,372.1L945.1,371.8L943.6,371.5L942.1,371.2L940.6,370.9L939.2,370.6L937.7,370.3L936.2,370.0L934.7,369.7L933.2,369.4L931.7,369.1L930.2,368.8L928.7,368.5L927.2,368.2L925.7,367.9L924.2,367.6L922.8,367.3L921.3,367.0L919.8,366.7L918.3,366.4L916.8,366.2L915.3,365.9L913.8,365.6L912.3,365.3L910.8,365.0L909.3,364.7L907.8,364.5L906.3,364.2L904.8,363.9L903.3,363.6L901.8,363.3L900.4,363.1L898.9,362.8L897.4,362.5L895.9,362.2L894.4,362.0L892.9,361.7L891.4,361.4L889.9,361.2L888.4,360.9L886.9,360.6L885.4,360.4L883.9,360.1L882.4,359.8L880.9,359.6L879.4,359.3L877.9,359.0L876.4,358.8L874.9,358.5L873.4,358.3L871.9,358.0L870.4,357.7L868.9,357.5L867.4,357.2L865.9,357.0L864.4,356.7L862.9,356.5L861.4,356.2L859.9,356.0L858.4,355.7L856.9,355.5L855.4,355.2L853.9,355.0L852.4,354.7L850.9,354.5L849.4,354.2L847.9,354.0L846.4,353.8L844.9,353.5L843.4,353.3L841.9,353.0L840.4,352.8L838.9,352.6L837.4,352.3L835.9,352.1L834.4,351.9L832.9,351.6L831.4,351.4L829.9,351.2L828.4,350.9L826.9,350.7L825.4,350.5L823.9,350.2L822.4,350.0L820.9,349.8L819.4,349.6" stroke="#8AC926" stroke-dasharray="5.405 5.099" stroke-dashoffset="5.405" stroke-width="2.7"/>
<path d="M1045.8,395.0L1047.2,395.4L1048.7,395.8L1050.2,396.2L1051.6,396.5L1053.1,396.9L1054.5,397.3L1056.0,397.7L1057.5,398.1L1058.9,398.5L1060.4,398.9L1061.8,399.2L1063.3,399.6L1064.7,400.0L1066.2,400.4L1067.7,400.8L1069.1,401.2L1070.6,401.6L1072.0,402.0L1073.5,402.4L1074.9,402.8L1076.4,403.2L1077.8,403.6L1079.3,404.0L1080.7,404.4L1082.2,404.8L1083.7,405.2L1085.1,405.6L1086.6,406.0L1088.0,406.4L1089.5,406.9L1090.9,407.3L1092.4,407.7L1093.8,408.1L1095.3,408.5L1096.7,408.9L1098.2,409.4L1099.6,409.8L1101.1,410.2L1102.5,410.6L1104.0,411.0L1105.4,411.5L1106.8,411.9L1108.3,412.3L1109.7,412.7L1111.2,413.2L1112.6,413.6L1114.1,414.0L1115.5,414.5L1117.0,414.9L1118.4,415.3L1119.9,415.8L1121.3,416.2L1122.7,416.7L1124.2,417.1L1125.6,417.5L1127.1,418.0L1128.5,418.4L1130.0,418.9L1131.4,419.3L1132.8,419.8L1134.3,420.2L1135.7,420.7L1137.2,421.1L1138.6,421.6L1140.0,422.0L1141.5,422.5L1142.9,422.9L1144.3,423.4L1145.8,423.9L1147.2,424.3L1148.7,424.8L1150.1,425.2L1151.5,425.7L1153.0,426.2L1154.4,426.6L1155.8,427.1L1157.3,427.6L1158.7,428.1L1160.1,428.5L1161.6,429.0L1163.0,429.5L1164.4,430.0L1165.9,430.4L1167.3,430.9L1168.7,431.4L1170.2,431.9L1171.6,432.4L1173.0,432.8L1174.4,433.3L1175.9,433.8L1177.3,434.3L1178.7,434.8L1180.2,435.3L1181.6,435.8L1183.0,436.3L1184.4,436.8L1185.9,437.2L1187.3,437.7L1188.7,438.2L1190.1,438.7L1191.6,439.2L1193.0,439.7L1194.4,440.2L1195.8,440.7L1197.2,441.3L1198.7,441.8L1200.1,442.3L1201.5,442.8L1202.9,443.3L1204.3,443.8L1205.8,444.3L1207.2,444.8L1208.6,445.3L1210.0,445.9L1211.4,446.4L1212.9,446.9L1214.3,447.4L1215.7,447.9L1217.1,448.5L1218.5,449.0L1219.9,449.5L1221.4,450.0L1222.8,450.6L1224.2,451.1L1225.6,451.6L1227.0,452.1L1228.4,452.7L1229.8,453.2L1231.2,453.7L1232.7,454.3L1234.1,454.8L1235.5,455.4L1236.9,455.9L1238.3,456.4L1239.7,457.0L1241.1,457.5L1242.5,458.1L1243.9,458.6L1245.3,459.2L1246.7,459.7L1248.1,460.3L1249.5,460.8L1250.9,461.4L1252.4,461.9L1253.8,462.5L1255.2,463.0L1256.6,463.6L1258.0,464.1L1259.4,464.7L1260.8,465.3L1262.2,465.8L1263.6,466.4L1265.0,467.0L1266.4,467.5L1267.8,468.1L1269.2,468.7L1270.6,469.2L1272.0,469.8L1273.4,470.4L1274.8,470.9L1276.2,471.5L1277.5,472.1L1278.9,472.7L1280.3,473.3L1281.7,473.8L1283.1,474.4L1284.5,475.0L1285.9,475.6L1287.3,476.2L1288.7,476.7L1290.1,477.3L1291.5,477.9L1292.9,478.5L1294.3,479.1L1295.6,479.7L1297.0,480.3L1298.4,480.9L1299.8,481.5L1301.2,482.1L1302.6,482.7L1304.0,483.3L1305.3,483.9L1306.7,484.5L1308.1,485.1L1309.5,485.7L1310.9,486.3L1312.3,486.9L1313.6,487.5L1315.0,488.1L1316.4,488.7L1317.8,489.3L1319.2,489.9L1320.5,490.5L1321.9,491.2L1323.3,491.8L1324.7,492.4L1326.1,493.0L1327.4,493.6L1328.8,494.3L1330.2,494.9L1331.6,495.5L1332.9,496.1L1334.3,496.7L1335.7,497.4L1337.1,498.0L1338.4,498.6L1339.8,499.3L1341.2,499.9L1342.5,500.5L1343.9,501.2L1345.3,501.8L1346.7,502.4L1348.0,503.1L1349.4,503.7L1350.8,504.3L1352.1,505.0L1353.5,505.6L1354.9,506.3L1356.2,506.9L1357.6,507.6L1358.9,508.2L1360.3,508.9L1361.7,509.5L1363.0,510.1L1364.4,510.8L1365.8,511.5L1367.1,512.1L1368.5,512.8L1369.8,513.4L1371.2,514.1L1372.6,514.7L1373.9,515.4L1375.3,516.1L1376.6,516.7L1378.0,517.4L1379.3,518.0L1380.7,518.7L1382.0,519.4L1383.4,520.0L1384.7,520.7L1386.1,521.4L1387.5,522.1L1388.8,522.7L1390.2,523.4L1391.5,524.1L1392.9,524.8L1394.2,525.4L1395.5,526.1L1396.9,526.8L1398.2,527.5L1399.6,528.2L1400.9,528.8L1402.3,529.5L1403.6,530.2L1405.0,530.9L1406.3,531.6L1407.7,532.3L1409.0,533.0L1410.3,533.6L1411.7,534.3L1413.0,535.0L1414.4,535.7L1415.7,536.4L1417.0,537.1L1418.4,537.8L1419.7,538.5L1421.0,539.2L1422.4,539.9L1423.7,540.6L1425.1,541.3L1426.4,542.0L1427.7,542.7L1429.1,543.4L1430.4,544.2L1431.7,544.9L1433.0,545.6L1434.4,546.3L1435.7,547.0L1437.0,547.7L1438.4,548.4L1439.7,549.2L1441.0,549.9L1442.3,550.6L1443.7,551.3L1445.0,552.0L1446.3,552.8L1447.6,553.5L1449.0,554.2L1450.3,554.9L1451.6,555.7L1452.9,556.4L1454.3,557.1L1455.6,557.8L1456.9,558.6L1458.2,559.3L1459.5,560.0L1460.8,560.8L1462.2,561.5L1463.5,562.2L1464.8,563.0L1466.1,563.7L1467.4,564.5L1468.7,565.2L1470.0,566.0L1471.4,566.7L1472.7,567.4L1474.0,568.2L1475.3,568.9L1476.6,569.7L1477.9,570.4L1479.2,571.2L1480.5,571.9L1481.8,572.7L1483.1,573.4L1484.4,574.2L1485.7,575.0L1487.1,575.7L1488.4,576.5L1489.7,577.2" stroke="#8AC926"/>
<path d="M1153.0,411.4L1151.7,410.9L1150.3,410.3L1148.9,409.8L1147.5,409.2L1146.1,408.6L1144.7,408.1L1143.3,407.5L1141.9,407.0L1140.5,406.4L1139.1,405.9L1137.6,405.3L1136.2,404.8L1134.8,404.2L1133.4,403.7L1132.0,403.2L1130.6,402.6L1129.2,402.1L1127.8,401.5L1126.4,401.0L1125.0,400.5L1123.6,399.9L1122.2,399.4L1120.8,398.9L1119.4,398.4L1117.9,397.8L1116.5,397.3L1115.1,396.8L1113.7,396.3L1112.3,395.8L1110.9,395.2L1109.5,394.7L1108.1,394.2L1106.6,393.7L1105.2,393.2L1103.8,392.7L1102.4,392.2L1101.0,391.7L1099.6,391.2L1098.1,390.7L1096.7,390.1L1095.3,389.7L1093.9,389.2L1092.5,388.7L1091.0,388.2L1089.6,387.7L1088.2,387.2L1086.8,386.7L1085.3,386.2L1083.9,385.7L1082.5,385.2L1081.1,384.7L1079.6,384.3L1078.2,383.8L1076.8,383.3L1075.4,382.8L1073.9,382.4L1072.5,381.9L1071.1,381.4L1069.7,380.9L1068.2,380.5L1066.8,380.0L1065.4,379.6L1063.9,379.1L1062.5,378.6L1061.1,378.2L1059.6,377.7L1058.2,377.3L1056.8,376.8L1055.3,376.4L1053.9,375.9L1052.5,375.5L1051.0,375.0L1049.6,374.6L1048.2,374.1L1046.7,373.7L1045.3,373.2L1043.8,372.8L1042.4,372.4L1041.0,371.9L1039.5,371.5L1038.1,371.1L1036.6,370.6L1035.2,370.2L1033.7,369.8L1032.3,369.4L1030.9,368.9L1029.4,368.5L1028.0,368.1L1026.5,367.7L1025.1,367.3L1023.6,366.9L1022.2,366.5L1020.7,366.1L1019.3,365.6L1017.8,365.2L1016.4,364.8L1014.9,364.4L1013.5,364.0L1012.0,363.6L1010.6,363.2L1009.1,362.8L1007.7,362.5L1006.2,362.1L1004.8,361.7L1003.3,361.3L1001.9,360.9L1000.4,360.5L999.0,360.1L997.5,359.8L996.1,359.4L994.6,359.0L993.1,358.6L991.7,358.3L990.2,357.9L988.8,357.5L987.3,357.2L985.8,356.8L984.4,356.4L982.9,356.1L981.5,355.7L980.0,355.4L978.5,355.0L977.1,354.7L975.6,354.3L974.1,354.0L972.7,353.6L971.2,353.3L969.8,352.9L968.3,352.6L966.8,352.3L965.4,351.9L963.9,351.6L962.4,351.3L961.0,350.9L959.5,350.6L958.0,350.3L956.5,349.9L955.1,349.6L953.6,349.3L952.1,349.0L950.7,348.7L949.2,348.4L947.7,348.0L946.2,347.7L944.8,347.4L943.3,347.1L941.8,346.8L940.3,346.5L938.9,346.2L937.4,345.9L935.9,345.6L934.4,345.3L933.0,345.0L931.5,344.7L930.0,344.5L928.5,344.2L927.0,343.9L925.6,343.6L924.1,343.3L922.6,343.0L921.1,342.8L919.6,342.5L918.2,342.2L916.7,342.0L915.2,341.7L913.7,341.4L912.2,341.2L910.7,340.9L909.2,340.6L907.8,340.4L906.3,340.1L904.8,339.9L903.3,339.6L901.8,339.4L900.3,339.1L898.8,338.9L897.3,338.6L895.9,338.4L894.4,338.2L892.9,337.9L891.4,337.7L889.9,337.5L888.4,337.2L886.9,337.0L885.4,336.8L883.9,336.6L882.4,336.3L880.9,336.1L879.4,335.9L877.9,335.7L876.4,335.5L874.9,335.3L873.4,335.1L871.9,334.9L870.4,334.7L868.9,334.5L867.4,334.3L865.9,334.1L864.4,333.9L862.9,333.7L861.4,333.5L859.9,333.3L858.4,333.1L856.9,332.9L855.4,332.8L853.9,332.6L852.4,332.4L850.9,332.2L849.4,332.0L847.9,331.9L846.4,331.7L844.9,331.5L843.4,331.4L841.9,331.2L840.4,331.1L838.9,330.9L837.4,330.8L835.9,330.6L834.3,330.5L832.8,330.3L831.3,330.2L829.8,330.0L828.3,329.9L826.8,329.7L825.3,329.6L823.8,329.5L822.3,329.3L820.7,329.2L819.2,329.1" stroke="#4E0D12" stroke-dasharray="5.225 4.929" stroke-dashoffset="5.225" stroke-width="2.7"/>
<path d="M1153.0,411.4L1154.4,412.0L1155.8,412.6L1157.2,413.1L1158.6,413.7L1160.0,414.3L1161.4,414.9L1162.8,415.4L1164.2,416.0L1165.6,416.6L1167.0,417.2L1168.4,417.7L1169.8,418.3L1171.2,418.9L1172.6,419.5L1173.9,420.1L1175.3,420.7L1176.7,421.2L1178.1,421.8L1179.5,422.4L1180.9,423.0L1182.3,423.6L1183.6,424.2L1185.0,424.8L1186.4,425.4L1187.8,426.0L1189.2,426.6L1190.6,427.2L1191.9,427.8L1193.3,428.4L1194.7,429.0L1196.1,429.6L1197.5,430.2L1198.8,430.9L1200.2,431.5L1201.6,432.1L1203.0,432.7L1204.4,433.3L1205.7,433.9L1207.1,434.6L1208.5,435.2L1209.8,435.8L1211.2,436.4L1212.6,437.0L1214.0,437.7L1215.3,438.3L1216.7,438.9L1218.1,439.6L1219.4,440.2L1220.8,440.8L1222.2,441.5L1223.6,442.1L1224.9,442.7L1226.3,443.4L1227.7,444.0L1229.0,444.7L1230.4,445.3L1231.7,445.9L1233.1,446.6L1234.5,447.2L1235.8,447.9L1237.2,448.5L1238.6,449.2L1239.9,449.8L1241.3,450.5L1242.6,451.1L1244.0,451.8L1245.4,452.5L1246.7,453.1L1248.1,453.8L1249.4,454.4L1250.8,455.1L1252.1,455.8L1253.5,456.4L1254.9,457.1L1256.2,457.8L1257.6,458.4L1258.9,459.1L1260.3,459.8L1261.6,460.4L1263.0,461.1L1264.3,461.8L1265.7,462.5L1267.0,463.1L1268.4,463.8L1269.7,464.5L1271.1,465.2L1272.4,465.9L1273.7,466.5L1275.1,467.2L1276.4,467.9L1277.8,468.6L1279.1,469.3L1280.5,470.0L1281.8,470.7L1283.1,471.4L1284.5,472.1L1285.8,472.7L1287.2,473.4L1288.5,474.1L1289.8,474.8L1291.2,475.5L1292.5,476.2L1293.9,476.9L1295.2,477.6L1296.5,478.3L1297.9,479.0L1299.2,479.8L1300.5,480.5L1301.9,481.2L1303.2,481.9L1304.5,482.6L1305.9,483.3L1307.2,484.0L1308.5,484.7L1309.8,485.4L1311.2,486.2L1312.5,486.9L1313.8,487.6L1315.2,488.3L1316.5,489.0L1317.8,489.8L1319.1,490.5L1320.5,491.2L1321.8,491.9L1323.1,492.7L1324.4,493.4L1325.7,494.1L1327.1,494.8L1328.4,495.6L1329.7,496.3L1331.0,497.0L1332.3,497.8L1333.7,498.5L1335.0,499.2L1336.3,500.0L1337.6,500.7L1338.9,501.4L1340.2,502.2L1341.6,502.9L1342.9,503.7L1344.2,504.4L1345.5,505.2L1346.8,505.9L1348.1,506.6L1349.4,507.4L1350.7,508.1L1352.0,508.9L1353.4,509.6L1354.7,510.4L1356.0,511.1L1357.3,511.9L1358.6,512.7L1359.9,513.4L1361.2,514.2L1362.5,514.9L1363.8,515.7L1365.1,516.4L1366.4,517.2L1367.7,518.0L1369.0,518.7L1370.3,519.5L1371.6,520.2L1372.9,521.0L1374.2,521.8L1375.5,522.5L1376.8,523.3L1378.1,524.1L1379.4,524.8L1380.7,525.6L1382.0,526.4L1383.3,527.2L1384.6,527.9L1385.8,528.7L1387.1,529.5L1388.4,530.3L1389.7,531.0L1391.0,531.8L1392.3,532.6L1393.6,533.4L1394.9,534.2L1396.2,534.9L1397.4,535.7L1398.7,536.5L1400.0,537.3L1401.3,538.1L1402.6,538.9L1403.9,539.6L1405.2,540.4L1406.4,541.2L1407.7,542.0L1409.0,542.8L1410.3,543.6L1411.6,544.4L1412.8,545.2L1414.1,546.0L1415.4,546.8L1416.7,547.6L1417.9,548.4L1419.2,549.2L1420.5,550.0L1421.8,550.7L1423.0,551.5L1424.3,552.3L1425.6,553.2L1426.8,554.0L1428.1,554.8L1429.4,555.6L1430.7,556.4L1431.9,557.2L1433.2,558.0L1434.5,558.8L1435.7,559.6L1437.0,560.4L1438.3,561.2L1439.5,562.0L1440.8,562.8L1442.0,563.6L1443.3,564.4L1444.6,565.3L1445.8,566.1L1447.1,566.9L1448.4,567.7L1449.6,568.5L1450.9,569.3L1452.1,570.2L1453.4,571.0L1454.6,571.8L1455.9,572.6L1457.2,573.4L1458.4,574.3L1459.7,575.1L1460.9,575.9L1462.2,576.7" stroke="#4E0D12"/></g>
<g fill="none" stroke-width="2.6" stroke-dasharray="1.8 4.73"><path d="M92.7,338.3H818.4" stroke="#111"/><path d="M92.7,398.1H818.4" stroke="#FF9B1A"/><path d="M821.0,337.8H1548.9" stroke="#111"/><path d="M821.0,397.8H1548.9" stroke="#FF9B1A"/></g>
<circle cx="666.6" cy="104.5" r="4.7" fill="#4E0D12"/><circle cx="641.1" cy="123.7" r="4.7" fill="#8AC926"/><circle cx="669.9" cy="136.5" r="4.7" fill="#FF595E"/><circle cx="690.9" cy="138.6" r="4.7" fill="#1982C4"/><circle cx="666.3" cy="366.6" r="4.7" fill="#4E0D12"/><circle cx="641.0" cy="379.5" r="4.7" fill="#8AC926"/><circle cx="670.1" cy="399.9" r="4.7" fill="#FF595E"/><circle cx="690.5" cy="407.4" r="4.7" fill="#1982C4"/><circle cx="1153.0" cy="46.0" r="4.7" fill="#4E0D12"/><circle cx="1184.3" cy="68.9" r="4.7" fill="#8AC926"/><circle cx="1216.4" cy="83.6" r="4.7" fill="#FF595E"/><circle cx="1239.7" cy="85.8" r="4.7" fill="#1982C4"/><circle cx="1153.2" cy="411.4" r="4.7" fill="#4E0D12"/><circle cx="1184.3" cy="437.1" r="4.7" fill="#8AC926"/><circle cx="1216.0" cy="454.7" r="4.7" fill="#FF595E"/><circle cx="1239.7" cy="462.1" r="4.7" fill="#1982C4"/>
<g fill="none" stroke="#000" stroke-linecap="butt"><path d="M87.0,36.15H1550.1000000000001" stroke-width="2.3"/><path d="M87.0,309.7H1550.1000000000001" stroke-width="2.7"/><path d="M87.0,583.1H1550.1000000000001" stroke-width="2.4"/><path d="M88.0,35.0V584.3000000000001" stroke-width="2.0"/><path d="M818.4,35.0V584.3000000000001" stroke-width="3.0"/><path d="M1548.9,35.0V584.3000000000001" stroke-width="2.4"/></g>
<path d="M107.50,36.15V40.05M127.25,36.15V38.45M146.99,36.15V38.45M166.74,36.15V38.45M186.48,36.15V38.45M206.23,36.15V40.05M225.97,36.15V38.45M245.72,36.15V38.45M265.46,36.15V38.45M285.21,36.15V38.45M304.95,36.15V40.05M324.70,36.15V38.45M344.44,36.15V38.45M364.19,36.15V38.45M383.93,36.15V38.45M403.68,36.15V40.05M423.42,36.15V38.45M443.17,36.15V38.45M462.91,36.15V38.45M482.66,36.15V38.45M502.40,36.15V40.05M522.14,36.15V38.45M541.89,36.15V38.45M561.63,36.15V38.45M581.38,36.15V38.45M601.12,36.15V40.05M620.87,36.15V38.45M640.62,36.15V38.45M660.36,36.15V38.45M680.11,36.15V38.45M699.85,36.15V40.05M719.60,36.15V38.45M739.34,36.15V38.45M759.09,36.15V38.45M778.83,36.15V38.45M798.58,36.15V40.05M107.50,305.80V313.60M127.25,307.40V312.00M146.99,307.40V312.00M166.74,307.40V312.00M186.48,307.40V312.00M206.23,305.80V313.60M225.97,307.40V312.00M245.72,307.40V312.00M265.46,307.40V312.00M285.21,307.40V312.00M304.95,305.80V313.60M324.70,307.40V312.00M344.44,307.40V312.00M364.19,307.40V312.00M383.93,307.40V312.00M403.68,305.80V313.60M423.42,307.40V312.00M443.17,307.40V312.00M462.91,307.40V312.00M482.66,307.40V312.00M502.40,305.80V313.60M522.14,307.40V312.00M541.89,307.40V312.00M561.63,307.40V312.00M581.38,307.40V312.00M601.12,305.80V313.60M620.87,307.40V312.00M640.62,307.40V312.00M660.36,307.40V312.00M680.11,307.40V312.00M699.85,305.80V313.60M719.60,307.40V312.00M739.34,307.40V312.00M759.09,307.40V312.00M778.83,307.40V312.00M798.58,305.80V313.60M107.50,579.20V583.10M127.25,580.80V583.10M146.99,580.80V583.10M166.74,580.80V583.10M186.48,580.80V583.10M206.23,579.20V583.10M225.97,580.80V583.10M245.72,580.80V583.10M265.46,580.80V583.10M285.21,580.80V583.10M304.95,579.20V583.10M324.70,580.80V583.10M344.44,580.80V583.10M364.19,580.80V583.10M383.93,580.80V583.10M403.68,579.20V583.10M423.42,580.80V583.10M443.17,580.80V583.10M462.91,580.80V583.10M482.66,580.80V583.10M502.40,579.20V583.10M522.14,580.80V583.10M541.89,580.80V583.10M561.63,580.80V583.10M581.38,580.80V583.10M601.12,579.20V583.10M620.87,580.80V583.10M640.62,580.80V583.10M660.36,580.80V583.10M680.11,580.80V583.10M699.85,579.20V583.10M719.60,580.80V583.10M739.34,580.80V583.10M759.09,580.80V583.10M778.83,580.80V583.10M798.58,579.20V583.10M824.55,36.15V38.45M855.77,36.15V38.45M887.00,36.15V40.05M918.23,36.15V38.45M949.45,36.15V38.45M980.67,36.15V38.45M1011.90,36.15V40.05M1043.12,36.15V38.45M1074.35,36.15V38.45M1105.58,36.15V38.45M1136.80,36.15V40.05M1168.03,36.15V38.45M1199.25,36.15V38.45M1230.47,36.15V38.45M1261.70,36.15V40.05M1292.92,36.15V38.45M1324.15,36.15V38.45M1355.38,36.15V38.45M1386.60,36.15V40.05M1417.83,36.15V38.45M1449.05,36.15V38.45M1480.28,36.15V38.45M1511.50,36.15V40.05M1542.72,36.15V38.45M824.55,307.40V312.00M855.77,307.40V312.00M887.00,305.80V313.60M918.23,307.40V312.00M949.45,307.40V312.00M980.67,307.40V312.00M1011.90,305.80V313.60M1043.12,307.40V312.00M1074.35,307.40V312.00M1105.58,307.40V312.00M1136.80,305.80V313.60M1168.03,307.40V312.00M1199.25,307.40V312.00M1230.47,307.40V312.00M1261.70,305.80V313.60M1292.92,307.40V312.00M1324.15,307.40V312.00M1355.38,307.40V312.00M1386.60,305.80V313.60M1417.83,307.40V312.00M1449.05,307.40V312.00M1480.28,307.40V312.00M1511.50,305.80V313.60M1542.72,307.40V312.00M824.55,580.80V583.10M855.77,580.80V583.10M887.00,579.20V583.10M918.23,580.80V583.10M949.45,580.80V583.10M980.67,580.80V583.10M1011.90,579.20V583.10M1043.12,580.80V583.10M1074.35,580.80V583.10M1105.58,580.80V583.10M1136.80,579.20V583.10M1168.03,580.80V583.10M1199.25,580.80V583.10M1230.47,580.80V583.10M1261.70,579.20V583.10M1292.92,580.80V583.10M1324.15,580.80V583.10M1355.38,580.80V583.10M1386.60,579.20V583.10M1417.83,580.80V583.10M1449.05,580.80V583.10M1480.28,580.80V583.10M1511.50,579.20V583.10M1542.72,580.80V583.10M88.00,49.88H90.30M88.00,63.56H90.30M88.00,77.24H90.30M88.00,90.92H90.30M88.00,104.60H91.90M88.00,118.28H90.30M88.00,131.96H90.30M88.00,145.64H90.30M88.00,159.32H90.30M88.00,173.00H91.90M88.00,186.68H90.30M88.00,200.36H90.30M88.00,214.04H90.30M88.00,227.72H90.30M88.00,241.40H91.90M88.00,255.08H90.30M88.00,268.76H90.30M88.00,282.44H90.30M88.00,296.12H90.30M816.10,49.88H820.70M816.10,63.56H820.70M816.10,77.24H820.70M816.10,90.92H820.70M814.50,104.60H822.30M816.10,118.28H820.70M816.10,131.96H820.70M816.10,145.64H820.70M816.10,159.32H820.70M814.50,173.00H822.30M816.10,186.68H820.70M816.10,200.36H820.70M816.10,214.04H820.70M816.10,227.72H820.70M814.50,241.40H822.30M816.10,255.08H820.70M816.10,268.76H820.70M816.10,282.44H820.70M816.10,296.12H820.70M1546.60,49.88H1548.90M1546.60,63.56H1548.90M1546.60,77.24H1548.90M1546.60,90.92H1548.90M1545.00,104.60H1548.90M1546.60,118.28H1548.90M1546.60,131.96H1548.90M1546.60,145.64H1548.90M1546.60,159.32H1548.90M1545.00,173.00H1548.90M1546.60,186.68H1548.90M1546.60,200.36H1548.90M1546.60,214.04H1548.90M1546.60,227.72H1548.90M1545.00,241.40H1548.90M1546.60,255.08H1548.90M1546.60,268.76H1548.90M1546.60,282.44H1548.90M1546.60,296.12H1548.90M88.00,318.98H90.30M88.00,329.76H90.30M88.00,340.54H90.30M88.00,351.32H90.30M88.00,362.10H91.90M88.00,372.88H90.30M88.00,383.66H90.30M88.00,394.44H90.30M88.00,405.22H90.30M88.00,416.00H91.90M88.00,426.78H90.30M88.00,437.56H90.30M88.00,448.34H90.30M88.00,459.12H90.30M88.00,469.90H91.90M88.00,480.68H90.30M88.00,491.46H90.30M88.00,502.24H90.30M88.00,513.02H90.30M88.00,523.80H91.90M88.00,534.58H90.30M88.00,545.36H90.30M88.00,556.14H90.30M88.00,566.92H90.30M88.00,577.70H91.90M816.10,318.98H820.70M816.10,329.76H820.70M816.10,340.54H820.70M816.10,351.32H820.70M814.50,362.10H822.30M816.10,372.88H820.70M816.10,383.66H820.70M816.10,394.44H820.70M816.10,405.22H820.70M814.50,416.00H822.30M816.10,426.78H820.70M816.10,437.56H820.70M816.10,448.34H820.70M816.10,459.12H820.70M814.50,469.90H822.30M816.10,480.68H820.70M816.10,491.46H820.70M816.10,502.24H820.70M816.10,513.02H820.70M814.50,523.80H822.30M816.10,534.58H820.70M816.10,545.36H820.70M816.10,556.14H820.70M816.10,566.92H820.70M814.50,577.70H822.30M1546.60,318.98H1548.90M1546.60,329.76H1548.90M1546.60,340.54H1548.90M1546.60,351.32H1548.90M1545.00,362.10H1548.90M1546.60,372.88H1548.90M1546.60,383.66H1548.90M1546.60,394.44H1548.90M1546.60,405.22H1548.90M1545.00,416.00H1548.90M1546.60,426.78H1548.90M1546.60,437.56H1548.90M1546.60,448.34H1548.90M1546.60,459.12H1548.90M1545.00,469.90H1548.90M1546.60,480.68H1548.90M1546.60,491.46H1548.90M1546.60,502.24H1548.90M1546.60,513.02H1548.90M1545.00,523.80H1548.90M1546.60,534.58H1548.90M1546.60,545.36H1548.90M1546.60,556.14H1548.90M1546.60,566.92H1548.90M1545.00,577.70H1548.90" stroke="#000" stroke-width="2.0" fill="none"/>
<g font-family="'Liberation Serif',serif" fill="#000" stroke="#000" stroke-width="0.25" stroke-linejoin="round"><text x="84.4" y="45.5" font-size="26.3" text-anchor="end">0.20</text><text x="84.4" y="113.9" font-size="26.3" text-anchor="end">0.15</text><text x="84.4" y="182.2" font-size="26.3" text-anchor="end">0.10</text><text x="84.4" y="250.6" font-size="26.3" text-anchor="end">0.05</text><text x="84.4" y="319.1" font-size="26.3" text-anchor="end">0.00</text><text x="84.4" y="587.0" font-size="26.3" text-anchor="end">0.0</text><text x="84.4" y="533.1" font-size="26.3" text-anchor="end">0.1</text><text x="84.4" y="479.2" font-size="26.3" text-anchor="end">0.2</text><text x="84.4" y="425.3" font-size="26.3" text-anchor="end">0.3</text><text x="84.4" y="371.4" font-size="26.3" text-anchor="end">0.4</text><text transform="translate(108.0,613.45) scale(0.945,1)" font-size="30.6" text-anchor="middle">0.10</text><text transform="translate(206.7,613.45) scale(0.945,1)" font-size="30.6" text-anchor="middle">0.15</text><text transform="translate(305.5,613.45) scale(0.945,1)" font-size="30.6" text-anchor="middle">0.20</text><text transform="translate(404.2,613.45) scale(0.945,1)" font-size="30.6" text-anchor="middle">0.25</text><text transform="translate(502.9,613.45) scale(0.945,1)" font-size="30.6" text-anchor="middle">0.30</text><text transform="translate(601.6,613.45) scale(0.945,1)" font-size="30.6" text-anchor="middle">0.35</text><text transform="translate(700.4,613.45) scale(0.945,1)" font-size="30.6" text-anchor="middle">0.40</text><text transform="translate(799.1,613.45) scale(0.945,1)" font-size="30.6" text-anchor="middle">0.45</text><text transform="translate(887.3,613.45) scale(0.945,1)" font-size="30.6" text-anchor="middle">0.2</text><text transform="translate(1012.2,613.45) scale(0.945,1)" font-size="30.6" text-anchor="middle">0.4</text><text transform="translate(1137.1,613.45) scale(0.945,1)" font-size="30.6" text-anchor="middle">0.6</text><text transform="translate(1262.0,613.45) scale(0.945,1)" font-size="30.6" text-anchor="middle">0.8</text><text transform="translate(1386.9,613.45) scale(0.945,1)" font-size="30.6" text-anchor="middle">1.0</text><text transform="translate(1511.8,613.45) scale(0.945,1)" font-size="30.6" text-anchor="middle">1.2</text><text><tspan x="421.40" y="17.60" font-size="27.20">n</tspan><tspan x="435.00" y="20.73" font-size="27.20">=</tspan><tspan x="451.60" y="17.60" font-size="27.20">1</tspan><tspan x="463.90" y="21.95" font-size="32.10" textLength="7.56" lengthAdjust="spacingAndGlyphs">/</tspan><tspan x="471.30" y="17.60" font-size="27.20">2</tspan></text><text><tspan x="1162.30" y="17.60" font-size="27.20">n</tspan><tspan x="1175.90" y="20.73" font-size="27.20">=</tspan><tspan x="1190.00" y="17.60" font-size="27.20">1</tspan></text><g transform="translate(413.9,652.6)"><text><tspan x="-2.26" y="0.00" font-size="25.55" font-family="'DejaVu Math TeX Gyre','DejaVu Sans','DejaVu Serif',serif" textLength="23.81" lengthAdjust="spacingAndGlyphs" stroke-width="0.5">ℛ</tspan><tspan x="18.30" y="5.00" font-size="35.99" textLength="8.86" lengthAdjust="spacingAndGlyphs">/</tspan><tspan x="25.71" y="0.00" font-size="25.55" font-family="'DejaVu Math TeX Gyre','DejaVu Sans','DejaVu Serif',serif" textLength="28.18" lengthAdjust="spacingAndGlyphs" stroke-width="0.5">𝒦</tspan><tspan x="51.60" y="-11.70" font-size="20.70" font-style="italic">n</tspan><tspan x="62.30" y="-8.90" font-size="24.60">/</tspan><tspan x="68.20" y="-11.70" font-size="20.70">2</tspan></text></g><g transform="translate(1143.9,652.6)"><text><tspan x="-2.26" y="0.00" font-size="25.55" font-family="'DejaVu Math TeX Gyre','DejaVu Sans','DejaVu Serif',serif" textLength="23.81" lengthAdjust="spacingAndGlyphs" stroke-width="0.5">ℛ</tspan><tspan x="18.30" y="5.00" font-size="35.99" textLength="8.86" lengthAdjust="spacingAndGlyphs">/</tspan><tspan x="25.71" y="0.00" font-size="25.55" font-family="'DejaVu Math TeX Gyre','DejaVu Sans','DejaVu Serif',serif" textLength="28.18" lengthAdjust="spacingAndGlyphs" stroke-width="0.5">𝒦</tspan><tspan x="51.60" y="-11.70" font-size="20.70" font-style="italic">n</tspan><tspan x="62.30" y="-8.90" font-size="24.60">/</tspan><tspan x="68.20" y="-11.70" font-size="20.70">2</tspan></text></g><g transform="translate(26.1,217.4) rotate(-90)"><text><tspan x="-2.17" y="0.00" font-size="25.55" font-family="'DejaVu Math TeX Gyre','DejaVu Sans','DejaVu Serif',serif" textLength="34.55" lengthAdjust="spacingAndGlyphs" stroke-width="0.5">ℳ</tspan><tspan x="29.20" y="5.00" font-size="35.99" textLength="8.86" lengthAdjust="spacingAndGlyphs">/</tspan><tspan x="36.61" y="0.00" font-size="25.55" font-family="'DejaVu Math TeX Gyre','DejaVu Sans','DejaVu Serif',serif" textLength="28.18" lengthAdjust="spacingAndGlyphs" stroke-width="0.5">𝒦</tspan><tspan x="62.50" y="-11.70" font-size="20.70" font-style="italic">n</tspan><tspan x="73.20" y="-8.90" font-size="24.60">/</tspan><tspan x="79.10" y="-11.70" font-size="20.70">2</tspan></text></g><g transform="translate(39.9,455.3) rotate(-90)"><text><tspan x="-2.48" y="0.00" font-size="26.21" font-family="'DejaVu Math TeX Gyre','DejaVu Sans','DejaVu Serif',serif" textLength="22.56" lengthAdjust="spacingAndGlyphs" stroke-width="0.5">𝒞</tspan></text></g><path d="M125.7,56.2H151.9" stroke="#1982C4" stroke-width="1.7" fill="none"/><text><tspan x="159.31" y="63.30" font-size="22.22" font-family="'DejaVu Math TeX Gyre','DejaVu Sans','DejaVu Serif',serif" textLength="19.77" lengthAdjust="spacingAndGlyphs" stroke-width="0.3">ℰ</tspan><tspan x="177.60" y="66.61" font-size="27.00">=</tspan><tspan x="192.70" y="63.50" font-size="27.00">0</tspan></text><path d="M125.7,99.6H151.9" stroke="#FF595E" stroke-width="1.7" fill="none"/><text><tspan x="159.31" y="106.80" font-size="22.22" font-family="'DejaVu Math TeX Gyre','DejaVu Sans','DejaVu Serif',serif" textLength="19.77" lengthAdjust="spacingAndGlyphs" stroke-width="0.3">ℰ</tspan><tspan x="177.60" y="110.11" font-size="27.00">=</tspan><tspan x="193.40" y="107.00" font-size="27.00">1</tspan><tspan x="204.90" y="107.00" font-size="27.00">0</tspan><tspan x="219.60" y="96.90" font-size="18.50">−</tspan><tspan x="230.20" y="96.90" font-size="18.50">2</tspan></text><path d="M125.7,142.5H151.9" stroke="#8AC926" stroke-width="1.7" fill="none"/><text><tspan x="159.31" y="149.40" font-size="22.22" font-family="'DejaVu Math TeX Gyre','DejaVu Sans','DejaVu Serif',serif" textLength="19.77" lengthAdjust="spacingAndGlyphs" stroke-width="0.3">ℰ</tspan><tspan x="177.60" y="152.70" font-size="27.00">=</tspan><tspan x="193.40" y="149.60" font-size="27.00">1</tspan><tspan x="204.90" y="149.60" font-size="27.00">0</tspan><tspan x="219.60" y="139.50" font-size="18.50">−</tspan><tspan x="230.60" y="139.50" font-size="18.50">1</tspan></text><path d="M125.7,180.5H151.9" stroke="#4E0D12" stroke-width="1.7" fill="none"/><text><tspan x="159.31" y="187.00" font-size="22.22" font-family="'DejaVu Math TeX Gyre','DejaVu Sans','DejaVu Serif',serif" textLength="19.77" lengthAdjust="spacingAndGlyphs" stroke-width="0.3">ℰ</tspan><tspan x="177.60" y="190.30" font-size="27.00">=</tspan><tspan x="193.40" y="187.20" font-size="27.00">1</tspan><tspan x="205.60" y="191.52" font-size="31.86" textLength="7.51" lengthAdjust="spacingAndGlyphs">/</tspan><tspan x="213.80" y="187.20" font-size="27.00">2</tspan></text></g>
<g font-family="'Liberation Sans',sans-serif" fill="#000" font-size="21" stroke="#000" stroke-width="0.5" stroke-linejoin="round"><text x="153.5" y="366.4">Buchdahl</text><text x="133.8" y="426.1">photonsphere</text></g>
</svg>
</body></html>
